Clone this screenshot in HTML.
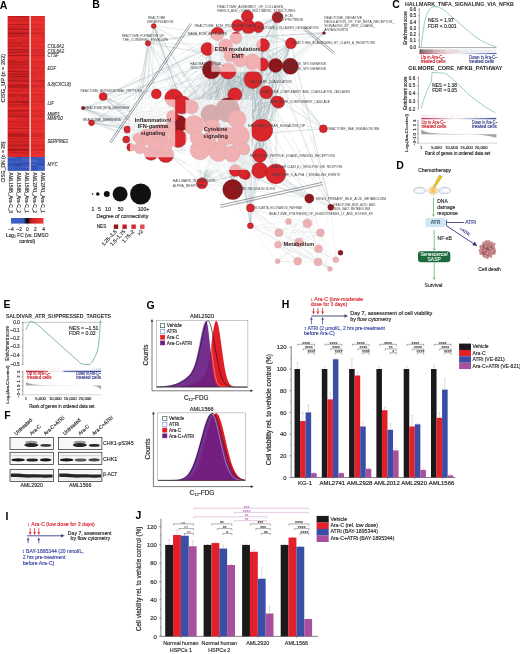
<!DOCTYPE html>
<html><head><meta charset="utf-8"><style>
html,body{margin:0;padding:0;background:#fff;}
svg{display:block;filter:blur(0.3px);}
</style></head><body>
<svg width="520" height="654" viewBox="0 0 520 654" font-family="Liberation Sans, Arial, sans-serif" fill="#231f20">
<rect width="520" height="654" fill="#fff"/>
<text x="-0.30" y="8.60" font-size="10.5" font-weight="bold" fill="#000" >A</text>
<rect x="7.80" y="16.00" width="21.80" height="141.20" fill="#d42a2c" />
<rect x="30.70" y="16.00" width="14.00" height="141.20" fill="#e8302f" />
<rect x="7.80" y="16.00" width="7.15" height="0.85" fill="#aa181c" />
<rect x="14.90" y="16.00" width="7.35" height="0.85" fill="#9a1418" />
<rect x="22.20" y="16.00" width="7.45" height="0.85" fill="#a9181b" />
<rect x="30.70" y="16.00" width="7.05" height="0.85" fill="#ce2728" />
<rect x="37.70" y="16.00" width="7.05" height="0.85" fill="#ca2627" />
<rect x="7.80" y="16.80" width="7.15" height="0.65" fill="#ec2c2c" />
<rect x="14.90" y="16.80" width="7.35" height="0.65" fill="#ec2c2c" />
<rect x="22.20" y="16.80" width="7.45" height="0.65" fill="#ec2c2c" />
<rect x="30.70" y="16.80" width="7.05" height="0.65" fill="#ec3330" />
<rect x="37.70" y="16.80" width="7.05" height="0.65" fill="#f23532" />
<rect x="7.80" y="17.40" width="7.15" height="0.65" fill="#ca2223" />
<rect x="14.90" y="17.40" width="7.35" height="0.65" fill="#bd1e20" />
<rect x="22.20" y="17.40" width="7.45" height="0.65" fill="#cb2223" />
<rect x="30.70" y="17.40" width="7.05" height="0.65" fill="#de2d2d" />
<rect x="37.70" y="17.40" width="7.05" height="0.65" fill="#da2c2b" />
<rect x="7.80" y="18.00" width="7.15" height="0.65" fill="#e62a2a" />
<rect x="14.90" y="18.00" width="7.35" height="0.65" fill="#e12829" />
<rect x="22.20" y="18.00" width="7.45" height="0.65" fill="#d42526" />
<rect x="30.70" y="18.00" width="7.05" height="0.65" fill="#f23532" />
<rect x="37.70" y="18.00" width="7.05" height="0.65" fill="#ed3330" />
<rect x="7.80" y="18.60" width="7.15" height="0.65" fill="#e12829" />
<rect x="14.90" y="18.60" width="7.35" height="0.65" fill="#e12829" />
<rect x="22.20" y="18.60" width="7.45" height="0.65" fill="#dd2728" />
<rect x="30.70" y="18.60" width="7.05" height="0.65" fill="#e32f2e" />
<rect x="37.70" y="18.60" width="7.05" height="0.65" fill="#e6302f" />
<rect x="7.80" y="19.20" width="7.15" height="0.85" fill="#d22425" />
<rect x="14.90" y="19.20" width="7.35" height="0.85" fill="#d42526" />
<rect x="22.20" y="19.20" width="7.45" height="0.85" fill="#d62526" />
<rect x="30.70" y="19.20" width="7.05" height="0.85" fill="#d92b2b" />
<rect x="37.70" y="19.20" width="7.05" height="0.85" fill="#e12e2d" />
<rect x="7.80" y="20.00" width="7.15" height="0.85" fill="#c32022" />
<rect x="14.90" y="20.00" width="7.35" height="0.85" fill="#ce2324" />
<rect x="22.20" y="20.00" width="7.45" height="0.85" fill="#bd1e20" />
<rect x="30.70" y="20.00" width="7.05" height="0.85" fill="#df2e2d" />
<rect x="37.70" y="20.00" width="7.05" height="0.85" fill="#dc2c2c" />
<rect x="7.80" y="20.80" width="7.15" height="0.85" fill="#ec2c2c" />
<rect x="14.90" y="20.80" width="7.35" height="0.85" fill="#e12829" />
<rect x="22.20" y="20.80" width="7.45" height="0.85" fill="#df2828" />
<rect x="30.70" y="20.80" width="7.05" height="0.85" fill="#ec3330" />
<rect x="37.70" y="20.80" width="7.05" height="0.85" fill="#e9312f" />
<rect x="7.80" y="21.60" width="7.15" height="0.85" fill="#d82627" />
<rect x="14.90" y="21.60" width="7.35" height="0.85" fill="#d12425" />
<rect x="22.20" y="21.60" width="7.45" height="0.85" fill="#e32929" />
<rect x="30.70" y="21.60" width="7.05" height="0.85" fill="#ef3331" />
<rect x="37.70" y="21.60" width="7.05" height="0.85" fill="#ec3330" />
<rect x="7.80" y="22.40" width="7.15" height="0.55" fill="#e62a2a" />
<rect x="14.90" y="22.40" width="7.35" height="0.55" fill="#de2728" />
<rect x="22.20" y="22.40" width="7.45" height="0.55" fill="#e22929" />
<rect x="30.70" y="22.40" width="7.05" height="0.55" fill="#ef3331" />
<rect x="37.70" y="22.40" width="7.05" height="0.55" fill="#ed3330" />
<rect x="7.80" y="22.90" width="7.15" height="0.85" fill="#ec2c2c" />
<rect x="14.90" y="22.90" width="7.35" height="0.85" fill="#ec2c2c" />
<rect x="22.20" y="22.90" width="7.45" height="0.85" fill="#ec2c2c" />
<rect x="30.70" y="22.90" width="7.05" height="0.85" fill="#ed3330" />
<rect x="37.70" y="22.90" width="7.05" height="0.85" fill="#f23532" />
<rect x="7.80" y="23.70" width="7.15" height="0.65" fill="#d42526" />
<rect x="14.90" y="23.70" width="7.35" height="0.65" fill="#dc2728" />
<rect x="22.20" y="23.70" width="7.45" height="0.65" fill="#d62526" />
<rect x="30.70" y="23.70" width="7.05" height="0.65" fill="#e22f2d" />
<rect x="37.70" y="23.70" width="7.05" height="0.65" fill="#e32f2e" />
<rect x="7.80" y="24.30" width="7.15" height="1.05" fill="#aa181c" />
<rect x="14.90" y="24.30" width="7.35" height="1.05" fill="#ac191c" />
<rect x="22.20" y="24.30" width="7.45" height="1.05" fill="#9f1519" />
<rect x="30.70" y="24.30" width="7.05" height="1.05" fill="#cf2829" />
<rect x="37.70" y="24.30" width="7.05" height="1.05" fill="#d92b2b" />
<rect x="7.80" y="25.30" width="7.15" height="0.65" fill="#ec2c2c" />
<rect x="14.90" y="25.30" width="7.35" height="0.65" fill="#dd2728" />
<rect x="22.20" y="25.30" width="7.45" height="0.65" fill="#ec2c2c" />
<rect x="30.70" y="25.30" width="7.05" height="0.65" fill="#ed3330" />
<rect x="37.70" y="25.30" width="7.05" height="0.65" fill="#ef3431" />
<rect x="7.80" y="25.90" width="7.15" height="1.25" fill="#cb2224" />
<rect x="14.90" y="25.90" width="7.35" height="1.25" fill="#d12425" />
<rect x="22.20" y="25.90" width="7.45" height="1.25" fill="#d62526" />
<rect x="30.70" y="25.90" width="7.05" height="1.25" fill="#e42f2e" />
<rect x="37.70" y="25.90" width="7.05" height="1.25" fill="#e32f2e" />
<rect x="7.80" y="27.10" width="7.15" height="0.55" fill="#c42022" />
<rect x="14.90" y="27.10" width="7.35" height="0.55" fill="#cb2223" />
<rect x="22.20" y="27.10" width="7.45" height="0.55" fill="#ce2324" />
<rect x="30.70" y="27.10" width="7.05" height="0.55" fill="#df2d2d" />
<rect x="37.70" y="27.10" width="7.05" height="0.55" fill="#df2d2d" />
<rect x="7.80" y="27.60" width="7.15" height="1.05" fill="#ca2223" />
<rect x="14.90" y="27.60" width="7.35" height="1.05" fill="#c62122" />
<rect x="22.20" y="27.60" width="7.45" height="1.05" fill="#c72123" />
<rect x="30.70" y="27.60" width="7.05" height="1.05" fill="#e5302e" />
<rect x="37.70" y="27.60" width="7.05" height="1.05" fill="#e8312f" />
<rect x="7.80" y="28.60" width="7.15" height="0.55" fill="#ba1d20" />
<rect x="14.90" y="28.60" width="7.35" height="0.55" fill="#c32022" />
<rect x="22.20" y="28.60" width="7.45" height="0.55" fill="#d02325" />
<rect x="30.70" y="28.60" width="7.05" height="0.55" fill="#e22f2d" />
<rect x="37.70" y="28.60" width="7.05" height="0.55" fill="#e02e2d" />
<rect x="7.80" y="29.10" width="7.15" height="0.85" fill="#9f1519" />
<rect x="14.90" y="29.10" width="7.35" height="0.85" fill="#a8181b" />
<rect x="22.20" y="29.10" width="7.45" height="0.85" fill="#9f1519" />
<rect x="30.70" y="29.10" width="7.05" height="0.85" fill="#c52426" />
<rect x="37.70" y="29.10" width="7.05" height="0.85" fill="#cc2628" />
<rect x="7.80" y="29.90" width="7.15" height="0.85" fill="#ec2c2c" />
<rect x="14.90" y="29.90" width="7.35" height="0.85" fill="#ec2c2c" />
<rect x="22.20" y="29.90" width="7.45" height="0.85" fill="#e02829" />
<rect x="30.70" y="29.90" width="7.05" height="0.85" fill="#f23532" />
<rect x="37.70" y="29.90" width="7.05" height="0.85" fill="#f23532" />
<rect x="7.80" y="30.70" width="7.15" height="1.25" fill="#cd2224" />
<rect x="14.90" y="30.70" width="7.35" height="1.25" fill="#d02425" />
<rect x="22.20" y="30.70" width="7.45" height="1.25" fill="#dc2728" />
<rect x="30.70" y="30.70" width="7.05" height="1.25" fill="#e22f2d" />
<rect x="37.70" y="30.70" width="7.05" height="1.25" fill="#e9312f" />
<rect x="7.80" y="31.90" width="7.15" height="0.85" fill="#cd2324" />
<rect x="14.90" y="31.90" width="7.35" height="0.85" fill="#d12425" />
<rect x="22.20" y="31.90" width="7.45" height="0.85" fill="#c92123" />
<rect x="30.70" y="31.90" width="7.05" height="0.85" fill="#da2c2c" />
<rect x="37.70" y="31.90" width="7.05" height="0.85" fill="#d92b2b" />
<rect x="7.80" y="32.70" width="7.15" height="1.25" fill="#a5171a" />
<rect x="14.90" y="32.70" width="7.35" height="1.25" fill="#a6171b" />
<rect x="22.20" y="32.70" width="7.45" height="1.25" fill="#a6171b" />
<rect x="30.70" y="32.70" width="7.05" height="1.25" fill="#c92627" />
<rect x="37.70" y="32.70" width="7.05" height="1.25" fill="#d02829" />
<rect x="7.80" y="33.90" width="7.15" height="1.25" fill="#c01f21" />
<rect x="14.90" y="33.90" width="7.35" height="1.25" fill="#c52022" />
<rect x="22.20" y="33.90" width="7.45" height="1.25" fill="#cd2224" />
<rect x="30.70" y="33.90" width="7.05" height="1.25" fill="#e22f2d" />
<rect x="37.70" y="33.90" width="7.05" height="1.25" fill="#dd2d2c" />
<rect x="7.80" y="35.10" width="7.15" height="0.85" fill="#c42022" />
<rect x="14.90" y="35.10" width="7.35" height="0.85" fill="#c52022" />
<rect x="22.20" y="35.10" width="7.45" height="0.85" fill="#d32426" />
<rect x="30.70" y="35.10" width="7.05" height="0.85" fill="#e02e2d" />
<rect x="37.70" y="35.10" width="7.05" height="0.85" fill="#e02e2d" />
<rect x="7.80" y="35.90" width="7.15" height="0.65" fill="#cd2224" />
<rect x="14.90" y="35.90" width="7.35" height="0.65" fill="#d62526" />
<rect x="22.20" y="35.90" width="7.45" height="0.65" fill="#e52a2a" />
<rect x="30.70" y="35.90" width="7.05" height="0.65" fill="#e32f2e" />
<rect x="37.70" y="35.90" width="7.05" height="0.65" fill="#ea322f" />
<rect x="7.80" y="36.50" width="7.15" height="0.55" fill="#ae191c" />
<rect x="14.90" y="36.50" width="7.35" height="0.55" fill="#a6171b" />
<rect x="22.20" y="36.50" width="7.45" height="0.55" fill="#b31b1e" />
<rect x="30.70" y="36.50" width="7.05" height="0.55" fill="#d42a2a" />
<rect x="37.70" y="36.50" width="7.05" height="0.55" fill="#da2c2b" />
<rect x="7.80" y="37.00" width="7.15" height="0.85" fill="#e32929" />
<rect x="14.90" y="37.00" width="7.35" height="0.85" fill="#e92b2b" />
<rect x="22.20" y="37.00" width="7.45" height="0.85" fill="#e22929" />
<rect x="30.70" y="37.00" width="7.05" height="0.85" fill="#ed3330" />
<rect x="37.70" y="37.00" width="7.05" height="0.85" fill="#ec3230" />
<rect x="7.80" y="37.80" width="7.15" height="0.65" fill="#ec2c2c" />
<rect x="14.90" y="37.80" width="7.35" height="0.65" fill="#e72a2a" />
<rect x="22.20" y="37.80" width="7.45" height="0.65" fill="#e82b2b" />
<rect x="30.70" y="37.80" width="7.05" height="0.65" fill="#ed3330" />
<rect x="37.70" y="37.80" width="7.05" height="0.65" fill="#ef3331" />
<rect x="7.80" y="38.40" width="7.15" height="0.85" fill="#ec2c2c" />
<rect x="14.90" y="38.40" width="7.35" height="0.85" fill="#dd2728" />
<rect x="22.20" y="38.40" width="7.45" height="0.85" fill="#df2829" />
<rect x="30.70" y="38.40" width="7.05" height="0.85" fill="#f13431" />
<rect x="37.70" y="38.40" width="7.05" height="0.85" fill="#e9312f" />
<rect x="7.80" y="39.20" width="7.15" height="0.65" fill="#c92123" />
<rect x="14.90" y="39.20" width="7.35" height="0.65" fill="#d82627" />
<rect x="22.20" y="39.20" width="7.45" height="0.65" fill="#d72627" />
<rect x="30.70" y="39.20" width="7.05" height="0.65" fill="#e12e2d" />
<rect x="37.70" y="39.20" width="7.05" height="0.65" fill="#e12f2d" />
<rect x="7.80" y="39.80" width="7.15" height="1.25" fill="#d12425" />
<rect x="14.90" y="39.80" width="7.35" height="1.25" fill="#e4292a" />
<rect x="22.20" y="39.80" width="7.45" height="1.25" fill="#d42426" />
<rect x="30.70" y="39.80" width="7.05" height="1.25" fill="#e22f2e" />
<rect x="37.70" y="39.80" width="7.05" height="1.25" fill="#e5302e" />
<rect x="7.80" y="41.00" width="7.15" height="1.25" fill="#d22425" />
<rect x="14.90" y="41.00" width="7.35" height="1.25" fill="#d12425" />
<rect x="22.20" y="41.00" width="7.45" height="1.25" fill="#d12425" />
<rect x="30.70" y="41.00" width="7.05" height="1.25" fill="#e42f2e" />
<rect x="37.70" y="41.00" width="7.05" height="1.25" fill="#df2e2d" />
<rect x="7.80" y="42.20" width="7.15" height="0.65" fill="#ca2223" />
<rect x="14.90" y="42.20" width="7.35" height="0.65" fill="#ca2223" />
<rect x="22.20" y="42.20" width="7.45" height="0.65" fill="#bf1e21" />
<rect x="30.70" y="42.20" width="7.05" height="0.65" fill="#dd2d2c" />
<rect x="37.70" y="42.20" width="7.05" height="0.65" fill="#de2d2c" />
<rect x="7.80" y="42.80" width="7.15" height="1.25" fill="#c21f21" />
<rect x="14.90" y="42.80" width="7.35" height="1.25" fill="#bf1f21" />
<rect x="22.20" y="42.80" width="7.45" height="1.25" fill="#d42426" />
<rect x="30.70" y="42.80" width="7.05" height="1.25" fill="#e4302e" />
<rect x="37.70" y="42.80" width="7.05" height="1.25" fill="#e6302f" />
<rect x="7.80" y="44.00" width="7.15" height="0.55" fill="#c42022" />
<rect x="14.90" y="44.00" width="7.35" height="0.55" fill="#c11f21" />
<rect x="22.20" y="44.00" width="7.45" height="0.55" fill="#cc2224" />
<rect x="30.70" y="44.00" width="7.05" height="0.55" fill="#df2e2d" />
<rect x="37.70" y="44.00" width="7.05" height="0.55" fill="#e02e2d" />
<rect x="7.80" y="44.50" width="7.15" height="1.25" fill="#e22929" />
<rect x="14.90" y="44.50" width="7.35" height="1.25" fill="#db2727" />
<rect x="22.20" y="44.50" width="7.45" height="1.25" fill="#e22929" />
<rect x="30.70" y="44.50" width="7.05" height="1.25" fill="#f23532" />
<rect x="37.70" y="44.50" width="7.05" height="1.25" fill="#ef3431" />
<rect x="7.80" y="45.70" width="7.15" height="0.85" fill="#a9181b" />
<rect x="14.90" y="45.70" width="7.35" height="0.85" fill="#a3161a" />
<rect x="22.20" y="45.70" width="7.45" height="0.85" fill="#a4171a" />
<rect x="30.70" y="45.70" width="7.05" height="0.85" fill="#ca2627" />
<rect x="37.70" y="45.70" width="7.05" height="0.85" fill="#cb2628" />
<rect x="7.80" y="46.50" width="7.15" height="0.65" fill="#d62526" />
<rect x="14.90" y="46.50" width="7.35" height="0.65" fill="#db2727" />
<rect x="22.20" y="46.50" width="7.45" height="0.65" fill="#cb2223" />
<rect x="30.70" y="46.50" width="7.05" height="0.65" fill="#e32f2e" />
<rect x="37.70" y="46.50" width="7.05" height="0.65" fill="#e7312f" />
<rect x="7.80" y="47.10" width="7.15" height="0.85" fill="#da2627" />
<rect x="14.90" y="47.10" width="7.35" height="0.85" fill="#ec2c2c" />
<rect x="22.20" y="47.10" width="7.45" height="0.85" fill="#da2727" />
<rect x="30.70" y="47.10" width="7.05" height="0.85" fill="#e9312f" />
<rect x="37.70" y="47.10" width="7.05" height="0.85" fill="#e7312f" />
<rect x="7.80" y="47.90" width="7.15" height="0.65" fill="#e4292a" />
<rect x="14.90" y="47.90" width="7.35" height="0.65" fill="#e82b2b" />
<rect x="22.20" y="47.90" width="7.45" height="0.65" fill="#ec2c2c" />
<rect x="30.70" y="47.90" width="7.05" height="0.65" fill="#f03431" />
<rect x="37.70" y="47.90" width="7.05" height="0.65" fill="#eb3230" />
<rect x="7.80" y="48.50" width="7.15" height="0.55" fill="#d42426" />
<rect x="14.90" y="48.50" width="7.35" height="0.55" fill="#db2728" />
<rect x="22.20" y="48.50" width="7.45" height="0.55" fill="#d82627" />
<rect x="30.70" y="48.50" width="7.05" height="0.55" fill="#eb3230" />
<rect x="37.70" y="48.50" width="7.05" height="0.55" fill="#e22f2e" />
<rect x="7.80" y="49.00" width="7.15" height="0.55" fill="#9a1418" />
<rect x="14.90" y="49.00" width="7.35" height="0.55" fill="#a5171a" />
<rect x="22.20" y="49.00" width="7.45" height="0.55" fill="#a11619" />
<rect x="30.70" y="49.00" width="7.05" height="0.55" fill="#cd2728" />
<rect x="37.70" y="49.00" width="7.05" height="0.55" fill="#c42326" />
<rect x="7.80" y="49.50" width="7.15" height="0.85" fill="#ab191c" />
<rect x="14.90" y="49.50" width="7.35" height="0.85" fill="#af1a1d" />
<rect x="22.20" y="49.50" width="7.45" height="0.85" fill="#a8181b" />
<rect x="30.70" y="49.50" width="7.05" height="0.85" fill="#d3292a" />
<rect x="37.70" y="49.50" width="7.05" height="0.85" fill="#d12829" />
<rect x="7.80" y="50.30" width="7.15" height="1.25" fill="#cf2325" />
<rect x="14.90" y="50.30" width="7.35" height="1.25" fill="#d02325" />
<rect x="22.20" y="50.30" width="7.45" height="1.25" fill="#c01f21" />
<rect x="30.70" y="50.30" width="7.05" height="1.25" fill="#dc2d2c" />
<rect x="37.70" y="50.30" width="7.05" height="1.25" fill="#e12e2d" />
<rect x="7.80" y="51.50" width="7.15" height="0.55" fill="#c92223" />
<rect x="14.90" y="51.50" width="7.35" height="0.55" fill="#b61c1f" />
<rect x="22.20" y="51.50" width="7.45" height="0.55" fill="#ca2223" />
<rect x="30.70" y="51.50" width="7.05" height="0.55" fill="#d3292a" />
<rect x="37.70" y="51.50" width="7.05" height="0.55" fill="#d82b2b" />
<rect x="7.80" y="52.00" width="7.15" height="0.85" fill="#9a1418" />
<rect x="14.90" y="52.00" width="7.35" height="0.85" fill="#9a1418" />
<rect x="22.20" y="52.00" width="7.45" height="0.85" fill="#a5171a" />
<rect x="30.70" y="52.00" width="7.05" height="0.85" fill="#ca2627" />
<rect x="37.70" y="52.00" width="7.05" height="0.85" fill="#c72527" />
<rect x="7.80" y="52.80" width="7.15" height="0.65" fill="#d32426" />
<rect x="14.90" y="52.80" width="7.35" height="0.65" fill="#db2727" />
<rect x="22.20" y="52.80" width="7.45" height="0.65" fill="#dd2728" />
<rect x="30.70" y="52.80" width="7.05" height="0.65" fill="#f23532" />
<rect x="37.70" y="52.80" width="7.05" height="0.65" fill="#ef3431" />
<rect x="7.80" y="53.40" width="7.15" height="0.65" fill="#d12425" />
<rect x="14.90" y="53.40" width="7.35" height="0.65" fill="#e92b2b" />
<rect x="22.20" y="53.40" width="7.45" height="0.65" fill="#e92b2b" />
<rect x="30.70" y="53.40" width="7.05" height="0.65" fill="#e5302e" />
<rect x="37.70" y="53.40" width="7.05" height="0.65" fill="#df2e2d" />
<rect x="7.80" y="54.00" width="7.15" height="1.25" fill="#d72627" />
<rect x="14.90" y="54.00" width="7.35" height="1.25" fill="#c62022" />
<rect x="22.20" y="54.00" width="7.45" height="1.25" fill="#cf2325" />
<rect x="30.70" y="54.00" width="7.05" height="1.25" fill="#dc2c2c" />
<rect x="37.70" y="54.00" width="7.05" height="1.25" fill="#d72b2b" />
<rect x="7.80" y="55.20" width="7.15" height="1.05" fill="#a4171a" />
<rect x="14.90" y="55.20" width="7.35" height="1.05" fill="#a3161a" />
<rect x="22.20" y="55.20" width="7.45" height="1.05" fill="#a4171a" />
<rect x="30.70" y="55.20" width="7.05" height="1.05" fill="#ca2627" />
<rect x="37.70" y="55.20" width="7.05" height="1.05" fill="#cc2728" />
<rect x="7.80" y="56.20" width="7.15" height="0.65" fill="#de2828" />
<rect x="14.90" y="56.20" width="7.35" height="0.65" fill="#dc2728" />
<rect x="22.20" y="56.20" width="7.45" height="0.65" fill="#de2828" />
<rect x="30.70" y="56.20" width="7.05" height="0.65" fill="#e4302e" />
<rect x="37.70" y="56.20" width="7.05" height="0.65" fill="#ea3230" />
<rect x="7.80" y="56.80" width="7.15" height="0.65" fill="#ec2c2c" />
<rect x="14.90" y="56.80" width="7.35" height="0.65" fill="#ea2b2b" />
<rect x="22.20" y="56.80" width="7.45" height="0.65" fill="#de2828" />
<rect x="30.70" y="56.80" width="7.05" height="0.65" fill="#eb3230" />
<rect x="37.70" y="56.80" width="7.05" height="0.65" fill="#ea3230" />
<rect x="7.80" y="57.40" width="7.15" height="0.55" fill="#d02325" />
<rect x="14.90" y="57.40" width="7.35" height="0.55" fill="#d52526" />
<rect x="22.20" y="57.40" width="7.45" height="0.55" fill="#c32022" />
<rect x="30.70" y="57.40" width="7.05" height="0.55" fill="#e22f2e" />
<rect x="37.70" y="57.40" width="7.05" height="0.55" fill="#e8312f" />
<rect x="7.80" y="57.90" width="7.15" height="0.65" fill="#ec2c2c" />
<rect x="14.90" y="57.90" width="7.35" height="0.65" fill="#ec2c2c" />
<rect x="22.20" y="57.90" width="7.45" height="0.65" fill="#ec2c2c" />
<rect x="30.70" y="57.90" width="7.05" height="0.65" fill="#ef3331" />
<rect x="37.70" y="57.90" width="7.05" height="0.65" fill="#ec3330" />
<rect x="7.80" y="58.50" width="7.15" height="0.65" fill="#e92b2b" />
<rect x="14.90" y="58.50" width="7.35" height="0.65" fill="#d72627" />
<rect x="22.20" y="58.50" width="7.45" height="0.65" fill="#e82a2b" />
<rect x="30.70" y="58.50" width="7.05" height="0.65" fill="#e5302e" />
<rect x="37.70" y="58.50" width="7.05" height="0.65" fill="#e7312f" />
<rect x="7.80" y="59.10" width="7.15" height="0.85" fill="#d92627" />
<rect x="14.90" y="59.10" width="7.35" height="0.85" fill="#da2627" />
<rect x="22.20" y="59.10" width="7.45" height="0.85" fill="#d52526" />
<rect x="30.70" y="59.10" width="7.05" height="0.85" fill="#eb3230" />
<rect x="37.70" y="59.10" width="7.05" height="0.85" fill="#ea3230" />
<rect x="7.80" y="59.90" width="7.15" height="1.25" fill="#c92123" />
<rect x="14.90" y="59.90" width="7.35" height="1.25" fill="#dd2728" />
<rect x="22.20" y="59.90" width="7.45" height="1.25" fill="#cf2325" />
<rect x="30.70" y="59.90" width="7.05" height="1.25" fill="#e6302f" />
<rect x="37.70" y="59.90" width="7.05" height="1.25" fill="#ee3331" />
<rect x="7.80" y="61.10" width="7.15" height="1.25" fill="#b81c1f" />
<rect x="14.90" y="61.10" width="7.35" height="1.25" fill="#c92123" />
<rect x="22.20" y="61.10" width="7.45" height="1.25" fill="#bf1f21" />
<rect x="30.70" y="61.10" width="7.05" height="1.25" fill="#d82b2b" />
<rect x="37.70" y="61.10" width="7.05" height="1.25" fill="#d42a2a" />
<rect x="7.80" y="62.30" width="7.15" height="0.55" fill="#a2161a" />
<rect x="14.90" y="62.30" width="7.35" height="0.55" fill="#a8181b" />
<rect x="22.20" y="62.30" width="7.45" height="0.55" fill="#a7181b" />
<rect x="30.70" y="62.30" width="7.05" height="0.55" fill="#d52a2a" />
<rect x="37.70" y="62.30" width="7.05" height="0.55" fill="#d82b2b" />
<rect x="7.80" y="62.80" width="7.15" height="0.65" fill="#c21f21" />
<rect x="14.90" y="62.80" width="7.35" height="0.65" fill="#c01f21" />
<rect x="22.20" y="62.80" width="7.45" height="0.65" fill="#ca2223" />
<rect x="30.70" y="62.80" width="7.05" height="0.65" fill="#db2c2c" />
<rect x="37.70" y="62.80" width="7.05" height="0.65" fill="#d42a2a" />
<rect x="7.80" y="63.40" width="7.15" height="0.65" fill="#c52022" />
<rect x="14.90" y="63.40" width="7.35" height="0.65" fill="#c62122" />
<rect x="22.20" y="63.40" width="7.45" height="0.65" fill="#cc2224" />
<rect x="30.70" y="63.40" width="7.05" height="0.65" fill="#e9312f" />
<rect x="37.70" y="63.40" width="7.05" height="0.65" fill="#e8312f" />
<rect x="7.80" y="64.00" width="7.15" height="0.55" fill="#ad191c" />
<rect x="14.90" y="64.00" width="7.35" height="0.55" fill="#ac191c" />
<rect x="22.20" y="64.00" width="7.45" height="0.55" fill="#bb1d20" />
<rect x="30.70" y="64.00" width="7.05" height="0.55" fill="#d42a2a" />
<rect x="37.70" y="64.00" width="7.05" height="0.55" fill="#db2c2c" />
<rect x="7.80" y="64.50" width="7.15" height="1.05" fill="#cc2224" />
<rect x="14.90" y="64.50" width="7.35" height="1.05" fill="#c72123" />
<rect x="22.20" y="64.50" width="7.45" height="1.05" fill="#c52022" />
<rect x="30.70" y="64.50" width="7.05" height="1.05" fill="#e22f2d" />
<rect x="37.70" y="64.50" width="7.05" height="1.05" fill="#e22f2d" />
<rect x="7.80" y="65.50" width="7.15" height="0.55" fill="#bf1e21" />
<rect x="14.90" y="65.50" width="7.35" height="0.55" fill="#be1e20" />
<rect x="22.20" y="65.50" width="7.45" height="0.55" fill="#bf1f21" />
<rect x="30.70" y="65.50" width="7.05" height="0.55" fill="#e4302e" />
<rect x="37.70" y="65.50" width="7.05" height="0.55" fill="#e02e2d" />
<rect x="7.80" y="66.00" width="7.15" height="1.05" fill="#d92627" />
<rect x="14.90" y="66.00" width="7.35" height="1.05" fill="#d92627" />
<rect x="22.20" y="66.00" width="7.45" height="1.05" fill="#e32929" />
<rect x="30.70" y="66.00" width="7.05" height="1.05" fill="#e7312f" />
<rect x="37.70" y="66.00" width="7.05" height="1.05" fill="#e7312f" />
<rect x="7.80" y="67.00" width="7.15" height="1.05" fill="#b11a1d" />
<rect x="14.90" y="67.00" width="7.35" height="1.05" fill="#b71c1f" />
<rect x="22.20" y="67.00" width="7.45" height="1.05" fill="#bc1e20" />
<rect x="30.70" y="67.00" width="7.05" height="1.05" fill="#cf2829" />
<rect x="37.70" y="67.00" width="7.05" height="1.05" fill="#d12829" />
<rect x="7.80" y="68.00" width="7.15" height="0.55" fill="#ae1a1d" />
<rect x="14.90" y="68.00" width="7.35" height="0.55" fill="#b21b1e" />
<rect x="22.20" y="68.00" width="7.45" height="0.55" fill="#b41b1e" />
<rect x="30.70" y="68.00" width="7.05" height="0.55" fill="#c72526" />
<rect x="37.70" y="68.00" width="7.05" height="0.55" fill="#d02829" />
<rect x="7.80" y="68.50" width="7.15" height="1.25" fill="#ec2c2c" />
<rect x="14.90" y="68.50" width="7.35" height="1.25" fill="#ec2c2c" />
<rect x="22.20" y="68.50" width="7.45" height="1.25" fill="#e62a2a" />
<rect x="30.70" y="68.50" width="7.05" height="1.25" fill="#e9312f" />
<rect x="37.70" y="68.50" width="7.05" height="1.25" fill="#ed3330" />
<rect x="7.80" y="69.70" width="7.15" height="0.55" fill="#af1a1d" />
<rect x="14.90" y="69.70" width="7.35" height="0.55" fill="#b91d1f" />
<rect x="22.20" y="69.70" width="7.45" height="0.55" fill="#c42022" />
<rect x="30.70" y="69.70" width="7.05" height="0.55" fill="#e32f2e" />
<rect x="37.70" y="69.70" width="7.05" height="0.55" fill="#dd2d2c" />
<rect x="7.80" y="70.20" width="7.15" height="1.05" fill="#d52526" />
<rect x="14.90" y="70.20" width="7.35" height="1.05" fill="#d62526" />
<rect x="22.20" y="70.20" width="7.45" height="1.05" fill="#dd2728" />
<rect x="30.70" y="70.20" width="7.05" height="1.05" fill="#e42f2e" />
<rect x="37.70" y="70.20" width="7.05" height="1.05" fill="#e42f2e" />
<rect x="7.80" y="71.20" width="7.15" height="0.85" fill="#a01519" />
<rect x="14.90" y="71.20" width="7.35" height="0.85" fill="#a6171a" />
<rect x="22.20" y="71.20" width="7.45" height="0.85" fill="#a11619" />
<rect x="30.70" y="71.20" width="7.05" height="0.85" fill="#db2c2c" />
<rect x="37.70" y="71.20" width="7.05" height="0.85" fill="#da2c2b" />
<rect x="7.80" y="72.00" width="7.15" height="1.05" fill="#df2828" />
<rect x="14.90" y="72.00" width="7.35" height="1.05" fill="#ca2223" />
<rect x="22.20" y="72.00" width="7.45" height="1.05" fill="#ce2324" />
<rect x="30.70" y="72.00" width="7.05" height="1.05" fill="#db2c2c" />
<rect x="37.70" y="72.00" width="7.05" height="1.05" fill="#e22f2e" />
<rect x="7.80" y="73.00" width="7.15" height="0.55" fill="#a11619" />
<rect x="14.90" y="73.00" width="7.35" height="0.55" fill="#b11b1d" />
<rect x="22.20" y="73.00" width="7.45" height="0.55" fill="#b11a1d" />
<rect x="30.70" y="73.00" width="7.05" height="0.55" fill="#d62a2a" />
<rect x="37.70" y="73.00" width="7.05" height="0.55" fill="#da2c2b" />
<rect x="7.80" y="73.50" width="7.15" height="0.85" fill="#bc1e20" />
<rect x="14.90" y="73.50" width="7.35" height="0.85" fill="#aa181c" />
<rect x="22.20" y="73.50" width="7.45" height="0.85" fill="#b31b1e" />
<rect x="30.70" y="73.50" width="7.05" height="0.85" fill="#d22929" />
<rect x="37.70" y="73.50" width="7.05" height="0.85" fill="#d62a2a" />
<rect x="7.80" y="74.30" width="7.15" height="0.65" fill="#b11a1d" />
<rect x="14.90" y="74.30" width="7.35" height="0.65" fill="#b81c1f" />
<rect x="22.20" y="74.30" width="7.45" height="0.65" fill="#b11a1d" />
<rect x="30.70" y="74.30" width="7.05" height="0.65" fill="#dd2d2c" />
<rect x="37.70" y="74.30" width="7.05" height="0.65" fill="#e22f2d" />
<rect x="7.80" y="74.90" width="7.15" height="0.55" fill="#ab191c" />
<rect x="14.90" y="74.90" width="7.35" height="0.55" fill="#a5171a" />
<rect x="22.20" y="74.90" width="7.45" height="0.55" fill="#a8181b" />
<rect x="30.70" y="74.90" width="7.05" height="0.55" fill="#d12929" />
<rect x="37.70" y="74.90" width="7.05" height="0.55" fill="#cb2628" />
<rect x="7.80" y="75.40" width="7.15" height="0.85" fill="#d42526" />
<rect x="14.90" y="75.40" width="7.35" height="0.85" fill="#cf2325" />
<rect x="22.20" y="75.40" width="7.45" height="0.85" fill="#dd2728" />
<rect x="30.70" y="75.40" width="7.05" height="0.85" fill="#e7312f" />
<rect x="37.70" y="75.40" width="7.05" height="0.85" fill="#ee3331" />
<rect x="7.80" y="76.20" width="7.15" height="1.25" fill="#ab191c" />
<rect x="14.90" y="76.20" width="7.35" height="1.25" fill="#9a1418" />
<rect x="22.20" y="76.20" width="7.45" height="1.25" fill="#9a1418" />
<rect x="30.70" y="76.20" width="7.05" height="1.25" fill="#d02829" />
<rect x="37.70" y="76.20" width="7.05" height="1.25" fill="#d42a2a" />
<rect x="7.80" y="77.40" width="7.15" height="0.65" fill="#de2828" />
<rect x="14.90" y="77.40" width="7.35" height="0.65" fill="#e4292a" />
<rect x="22.20" y="77.40" width="7.45" height="0.65" fill="#e32929" />
<rect x="30.70" y="77.40" width="7.05" height="0.65" fill="#ec3230" />
<rect x="37.70" y="77.40" width="7.05" height="0.65" fill="#f23532" />
<rect x="7.80" y="78.00" width="7.15" height="0.55" fill="#b61c1e" />
<rect x="14.90" y="78.00" width="7.35" height="0.55" fill="#b31b1e" />
<rect x="22.20" y="78.00" width="7.45" height="0.55" fill="#b71c1f" />
<rect x="30.70" y="78.00" width="7.05" height="0.55" fill="#da2c2b" />
<rect x="37.70" y="78.00" width="7.05" height="0.55" fill="#de2d2c" />
<rect x="7.80" y="78.50" width="7.15" height="0.85" fill="#c01f21" />
<rect x="14.90" y="78.50" width="7.35" height="0.85" fill="#c42022" />
<rect x="22.20" y="78.50" width="7.45" height="0.85" fill="#be1e20" />
<rect x="30.70" y="78.50" width="7.05" height="0.85" fill="#dc2d2c" />
<rect x="37.70" y="78.50" width="7.05" height="0.85" fill="#e6302e" />
<rect x="7.80" y="79.30" width="7.15" height="0.65" fill="#d72526" />
<rect x="14.90" y="79.30" width="7.35" height="0.65" fill="#da2627" />
<rect x="22.20" y="79.30" width="7.45" height="0.65" fill="#cd2324" />
<rect x="30.70" y="79.30" width="7.05" height="0.65" fill="#de2d2c" />
<rect x="37.70" y="79.30" width="7.05" height="0.65" fill="#e8312f" />
<rect x="7.80" y="79.90" width="7.15" height="1.05" fill="#b91d1f" />
<rect x="14.90" y="79.90" width="7.35" height="1.05" fill="#b61c1e" />
<rect x="22.20" y="79.90" width="7.45" height="1.05" fill="#c42022" />
<rect x="30.70" y="79.90" width="7.05" height="1.05" fill="#d4292a" />
<rect x="37.70" y="79.90" width="7.05" height="1.05" fill="#cd2728" />
<rect x="7.80" y="80.90" width="7.15" height="1.25" fill="#af1a1d" />
<rect x="14.90" y="80.90" width="7.35" height="1.25" fill="#b31b1e" />
<rect x="22.20" y="80.90" width="7.45" height="1.25" fill="#b21b1d" />
<rect x="30.70" y="80.90" width="7.05" height="1.25" fill="#ca2627" />
<rect x="37.70" y="80.90" width="7.05" height="1.25" fill="#c82527" />
<rect x="7.80" y="82.10" width="7.15" height="1.05" fill="#ec2c2c" />
<rect x="14.90" y="82.10" width="7.35" height="1.05" fill="#ec2c2c" />
<rect x="22.20" y="82.10" width="7.45" height="1.05" fill="#e72a2a" />
<rect x="30.70" y="82.10" width="7.05" height="1.05" fill="#f03431" />
<rect x="37.70" y="82.10" width="7.05" height="1.05" fill="#e8312f" />
<rect x="7.80" y="83.10" width="7.15" height="0.65" fill="#c11f21" />
<rect x="14.90" y="83.10" width="7.35" height="0.65" fill="#b91d1f" />
<rect x="22.20" y="83.10" width="7.45" height="0.65" fill="#ca2223" />
<rect x="30.70" y="83.10" width="7.05" height="0.65" fill="#de2d2d" />
<rect x="37.70" y="83.10" width="7.05" height="0.65" fill="#d62a2a" />
<rect x="7.80" y="83.70" width="7.15" height="0.65" fill="#d22425" />
<rect x="14.90" y="83.70" width="7.35" height="0.65" fill="#e12829" />
<rect x="22.20" y="83.70" width="7.45" height="0.65" fill="#da2627" />
<rect x="30.70" y="83.70" width="7.05" height="0.65" fill="#ea3230" />
<rect x="37.70" y="83.70" width="7.05" height="0.65" fill="#e4302e" />
<rect x="7.80" y="84.30" width="7.15" height="0.65" fill="#d42526" />
<rect x="14.90" y="84.30" width="7.35" height="0.65" fill="#c21f21" />
<rect x="22.20" y="84.30" width="7.45" height="0.65" fill="#c82123" />
<rect x="30.70" y="84.30" width="7.05" height="0.65" fill="#e9312f" />
<rect x="37.70" y="84.30" width="7.05" height="0.65" fill="#ec3330" />
<rect x="7.80" y="84.90" width="7.15" height="1.05" fill="#b01a1d" />
<rect x="14.90" y="84.90" width="7.35" height="1.05" fill="#ad191c" />
<rect x="22.20" y="84.90" width="7.45" height="1.05" fill="#a8181b" />
<rect x="30.70" y="84.90" width="7.05" height="1.05" fill="#d02829" />
<rect x="37.70" y="84.90" width="7.05" height="1.05" fill="#ce2728" />
<rect x="7.80" y="85.90" width="7.15" height="0.85" fill="#ba1d1f" />
<rect x="14.90" y="85.90" width="7.35" height="0.85" fill="#c32022" />
<rect x="22.20" y="85.90" width="7.45" height="0.85" fill="#bc1e20" />
<rect x="30.70" y="85.90" width="7.05" height="0.85" fill="#d62a2a" />
<rect x="37.70" y="85.90" width="7.05" height="0.85" fill="#e02e2d" />
<rect x="7.80" y="86.70" width="7.15" height="1.05" fill="#9a1418" />
<rect x="14.90" y="86.70" width="7.35" height="1.05" fill="#a3161a" />
<rect x="22.20" y="86.70" width="7.45" height="1.05" fill="#a4161a" />
<rect x="30.70" y="86.70" width="7.05" height="1.05" fill="#cc2728" />
<rect x="37.70" y="86.70" width="7.05" height="1.05" fill="#d22929" />
<rect x="7.80" y="87.70" width="7.15" height="1.25" fill="#d32425" />
<rect x="14.90" y="87.70" width="7.35" height="1.25" fill="#ce2324" />
<rect x="22.20" y="87.70" width="7.45" height="1.25" fill="#c82123" />
<rect x="30.70" y="87.70" width="7.05" height="1.25" fill="#e12e2d" />
<rect x="37.70" y="87.70" width="7.05" height="1.25" fill="#eb3230" />
<rect x="7.80" y="88.90" width="7.15" height="1.05" fill="#e82a2b" />
<rect x="14.90" y="88.90" width="7.35" height="1.05" fill="#ec2c2c" />
<rect x="22.20" y="88.90" width="7.45" height="1.05" fill="#e52a2a" />
<rect x="30.70" y="88.90" width="7.05" height="1.05" fill="#f23532" />
<rect x="37.70" y="88.90" width="7.05" height="1.05" fill="#f23532" />
<rect x="7.80" y="89.90" width="7.15" height="0.85" fill="#ab191c" />
<rect x="14.90" y="89.90" width="7.35" height="0.85" fill="#ba1d1f" />
<rect x="22.20" y="89.90" width="7.45" height="0.85" fill="#bd1e20" />
<rect x="30.70" y="89.90" width="7.05" height="0.85" fill="#ca2627" />
<rect x="37.70" y="89.90" width="7.05" height="0.85" fill="#cd2728" />
<rect x="7.80" y="90.70" width="7.15" height="0.55" fill="#d22425" />
<rect x="14.90" y="90.70" width="7.35" height="0.55" fill="#cf2324" />
<rect x="22.20" y="90.70" width="7.45" height="0.55" fill="#dc2728" />
<rect x="30.70" y="90.70" width="7.05" height="0.55" fill="#ea322f" />
<rect x="37.70" y="90.70" width="7.05" height="0.55" fill="#ea3230" />
<rect x="7.80" y="91.20" width="7.15" height="0.55" fill="#e12829" />
<rect x="14.90" y="91.20" width="7.35" height="0.55" fill="#cc2224" />
<rect x="22.20" y="91.20" width="7.45" height="0.55" fill="#df2828" />
<rect x="30.70" y="91.20" width="7.05" height="0.55" fill="#e22f2d" />
<rect x="37.70" y="91.20" width="7.05" height="0.55" fill="#dc2c2c" />
<rect x="7.80" y="91.70" width="7.15" height="1.05" fill="#ec2c2c" />
<rect x="14.90" y="91.70" width="7.35" height="1.05" fill="#e72a2b" />
<rect x="22.20" y="91.70" width="7.45" height="1.05" fill="#ea2b2b" />
<rect x="30.70" y="91.70" width="7.05" height="1.05" fill="#ee3330" />
<rect x="37.70" y="91.70" width="7.05" height="1.05" fill="#e8312f" />
<rect x="7.80" y="92.70" width="7.15" height="1.05" fill="#e32929" />
<rect x="14.90" y="92.70" width="7.35" height="1.05" fill="#e4292a" />
<rect x="22.20" y="92.70" width="7.45" height="1.05" fill="#ec2c2c" />
<rect x="30.70" y="92.70" width="7.05" height="1.05" fill="#f23532" />
<rect x="37.70" y="92.70" width="7.05" height="1.05" fill="#f23532" />
<rect x="7.80" y="93.70" width="7.15" height="0.55" fill="#d52526" />
<rect x="14.90" y="93.70" width="7.35" height="0.55" fill="#e22929" />
<rect x="22.20" y="93.70" width="7.45" height="0.55" fill="#e4292a" />
<rect x="30.70" y="93.70" width="7.05" height="0.55" fill="#e02e2d" />
<rect x="37.70" y="93.70" width="7.05" height="0.55" fill="#e5302e" />
<rect x="7.80" y="94.20" width="7.15" height="0.85" fill="#aa181b" />
<rect x="14.90" y="94.20" width="7.35" height="0.85" fill="#b91d1f" />
<rect x="22.20" y="94.20" width="7.45" height="0.85" fill="#af1a1d" />
<rect x="30.70" y="94.20" width="7.05" height="0.85" fill="#d3292a" />
<rect x="37.70" y="94.20" width="7.05" height="0.85" fill="#d02829" />
<rect x="7.80" y="95.00" width="7.15" height="0.55" fill="#ec2c2c" />
<rect x="14.90" y="95.00" width="7.35" height="0.55" fill="#e02829" />
<rect x="22.20" y="95.00" width="7.45" height="0.55" fill="#e02829" />
<rect x="30.70" y="95.00" width="7.05" height="0.55" fill="#f23532" />
<rect x="37.70" y="95.00" width="7.05" height="0.55" fill="#f23532" />
<rect x="7.80" y="95.50" width="7.15" height="1.05" fill="#ad191c" />
<rect x="14.90" y="95.50" width="7.35" height="1.05" fill="#b91d1f" />
<rect x="22.20" y="95.50" width="7.45" height="1.05" fill="#a3161a" />
<rect x="30.70" y="95.50" width="7.05" height="1.05" fill="#dc2c2c" />
<rect x="37.70" y="95.50" width="7.05" height="1.05" fill="#d72b2b" />
<rect x="7.80" y="96.50" width="7.15" height="0.65" fill="#c62122" />
<rect x="14.90" y="96.50" width="7.35" height="0.65" fill="#c52022" />
<rect x="22.20" y="96.50" width="7.45" height="0.65" fill="#bb1d20" />
<rect x="30.70" y="96.50" width="7.05" height="0.65" fill="#e5302e" />
<rect x="37.70" y="96.50" width="7.05" height="0.65" fill="#e32f2e" />
<rect x="7.80" y="97.10" width="7.15" height="0.65" fill="#eb2b2b" />
<rect x="14.90" y="97.10" width="7.35" height="0.65" fill="#de2728" />
<rect x="22.20" y="97.10" width="7.45" height="0.65" fill="#e3292a" />
<rect x="30.70" y="97.10" width="7.05" height="0.65" fill="#eb3230" />
<rect x="37.70" y="97.10" width="7.05" height="0.65" fill="#ec3330" />
<rect x="7.80" y="97.70" width="7.15" height="0.55" fill="#e82a2b" />
<rect x="14.90" y="97.70" width="7.35" height="0.55" fill="#de2828" />
<rect x="22.20" y="97.70" width="7.45" height="0.55" fill="#d92627" />
<rect x="30.70" y="97.70" width="7.05" height="0.55" fill="#f13431" />
<rect x="37.70" y="97.70" width="7.05" height="0.55" fill="#f23532" />
<rect x="7.80" y="98.20" width="7.15" height="1.05" fill="#d52526" />
<rect x="14.90" y="98.20" width="7.35" height="1.05" fill="#ce2324" />
<rect x="22.20" y="98.20" width="7.45" height="1.05" fill="#c82123" />
<rect x="30.70" y="98.20" width="7.05" height="1.05" fill="#da2c2b" />
<rect x="37.70" y="98.20" width="7.05" height="1.05" fill="#d92c2b" />
<rect x="7.80" y="99.20" width="7.15" height="0.85" fill="#df2828" />
<rect x="14.90" y="99.20" width="7.35" height="0.85" fill="#d62526" />
<rect x="22.20" y="99.20" width="7.45" height="0.85" fill="#e32929" />
<rect x="30.70" y="99.20" width="7.05" height="0.85" fill="#eb3230" />
<rect x="37.70" y="99.20" width="7.05" height="0.85" fill="#eb3230" />
<rect x="7.80" y="100.00" width="7.15" height="0.65" fill="#e4292a" />
<rect x="14.90" y="100.00" width="7.35" height="0.65" fill="#e72a2b" />
<rect x="22.20" y="100.00" width="7.45" height="0.65" fill="#e32929" />
<rect x="30.70" y="100.00" width="7.05" height="0.65" fill="#e6302f" />
<rect x="37.70" y="100.00" width="7.05" height="0.65" fill="#e32f2e" />
<rect x="7.80" y="100.60" width="7.15" height="0.55" fill="#c72123" />
<rect x="14.90" y="100.60" width="7.35" height="0.55" fill="#be1e20" />
<rect x="22.20" y="100.60" width="7.45" height="0.55" fill="#b51c1e" />
<rect x="30.70" y="100.60" width="7.05" height="0.55" fill="#cf2829" />
<rect x="37.70" y="100.60" width="7.05" height="0.55" fill="#ce2728" />
<rect x="7.80" y="101.10" width="7.15" height="0.55" fill="#b21b1d" />
<rect x="14.90" y="101.10" width="7.35" height="0.55" fill="#a4171a" />
<rect x="22.20" y="101.10" width="7.45" height="0.55" fill="#9f1519" />
<rect x="30.70" y="101.10" width="7.05" height="0.55" fill="#d92b2b" />
<rect x="37.70" y="101.10" width="7.05" height="0.55" fill="#da2c2b" />
<rect x="7.80" y="101.60" width="7.15" height="1.25" fill="#ae191c" />
<rect x="14.90" y="101.60" width="7.35" height="1.25" fill="#a11619" />
<rect x="22.20" y="101.60" width="7.45" height="1.25" fill="#9d1518" />
<rect x="30.70" y="101.60" width="7.05" height="1.25" fill="#d72b2b" />
<rect x="37.70" y="101.60" width="7.05" height="1.25" fill="#d12829" />
<rect x="7.80" y="102.80" width="7.15" height="1.25" fill="#dc2728" />
<rect x="14.90" y="102.80" width="7.35" height="1.25" fill="#e32929" />
<rect x="22.20" y="102.80" width="7.45" height="1.25" fill="#cb2224" />
<rect x="30.70" y="102.80" width="7.05" height="1.25" fill="#f23532" />
<rect x="37.70" y="102.80" width="7.05" height="1.25" fill="#eb3230" />
<rect x="7.80" y="104.00" width="7.15" height="0.65" fill="#b01a1d" />
<rect x="14.90" y="104.00" width="7.35" height="0.65" fill="#b01a1d" />
<rect x="22.20" y="104.00" width="7.45" height="0.65" fill="#aa181c" />
<rect x="30.70" y="104.00" width="7.05" height="0.65" fill="#d42a2a" />
<rect x="37.70" y="104.00" width="7.05" height="0.65" fill="#d52a2a" />
<rect x="7.80" y="104.60" width="7.15" height="1.05" fill="#d12425" />
<rect x="14.90" y="104.60" width="7.35" height="1.05" fill="#ca2223" />
<rect x="22.20" y="104.60" width="7.45" height="1.05" fill="#c62022" />
<rect x="30.70" y="104.60" width="7.05" height="1.05" fill="#e4302e" />
<rect x="37.70" y="104.60" width="7.05" height="1.05" fill="#eb3230" />
<rect x="7.80" y="105.60" width="7.15" height="0.65" fill="#c82123" />
<rect x="14.90" y="105.60" width="7.35" height="0.65" fill="#d02325" />
<rect x="22.20" y="105.60" width="7.45" height="0.65" fill="#d62526" />
<rect x="30.70" y="105.60" width="7.05" height="0.65" fill="#ee3331" />
<rect x="37.70" y="105.60" width="7.05" height="0.65" fill="#e6302e" />
<rect x="7.80" y="106.20" width="7.15" height="0.85" fill="#cc2224" />
<rect x="14.90" y="106.20" width="7.35" height="0.85" fill="#cb2224" />
<rect x="22.20" y="106.20" width="7.45" height="0.85" fill="#cf2325" />
<rect x="30.70" y="106.20" width="7.05" height="0.85" fill="#ed3330" />
<rect x="37.70" y="106.20" width="7.05" height="0.85" fill="#ed3330" />
<rect x="7.80" y="107.00" width="7.15" height="0.55" fill="#da2727" />
<rect x="14.90" y="107.00" width="7.35" height="0.55" fill="#db2727" />
<rect x="22.20" y="107.00" width="7.45" height="0.55" fill="#cf2325" />
<rect x="30.70" y="107.00" width="7.05" height="0.55" fill="#eb3230" />
<rect x="37.70" y="107.00" width="7.05" height="0.55" fill="#e6302e" />
<rect x="7.80" y="107.50" width="7.15" height="0.65" fill="#e82a2b" />
<rect x="14.90" y="107.50" width="7.35" height="0.65" fill="#e12829" />
<rect x="22.20" y="107.50" width="7.45" height="0.65" fill="#ec2c2c" />
<rect x="30.70" y="107.50" width="7.05" height="0.65" fill="#ee3330" />
<rect x="37.70" y="107.50" width="7.05" height="0.65" fill="#f13431" />
<rect x="7.80" y="108.10" width="7.15" height="1.25" fill="#ec2c2c" />
<rect x="14.90" y="108.10" width="7.35" height="1.25" fill="#ec2c2c" />
<rect x="22.20" y="108.10" width="7.45" height="1.25" fill="#ec2c2c" />
<rect x="30.70" y="108.10" width="7.05" height="1.25" fill="#f03431" />
<rect x="37.70" y="108.10" width="7.05" height="1.25" fill="#ec3230" />
<rect x="7.80" y="109.30" width="7.15" height="0.65" fill="#e62a2a" />
<rect x="14.90" y="109.30" width="7.35" height="0.65" fill="#d12425" />
<rect x="22.20" y="109.30" width="7.45" height="0.65" fill="#e02829" />
<rect x="30.70" y="109.30" width="7.05" height="0.65" fill="#e22f2e" />
<rect x="37.70" y="109.30" width="7.05" height="0.65" fill="#e22f2d" />
<rect x="7.80" y="109.90" width="7.15" height="0.55" fill="#9c1418" />
<rect x="14.90" y="109.90" width="7.35" height="0.55" fill="#ac191c" />
<rect x="22.20" y="109.90" width="7.45" height="0.55" fill="#9d1418" />
<rect x="30.70" y="109.90" width="7.05" height="0.55" fill="#d12829" />
<rect x="37.70" y="109.90" width="7.05" height="0.55" fill="#cf2829" />
<rect x="7.80" y="110.40" width="7.15" height="0.65" fill="#b31b1e" />
<rect x="14.90" y="110.40" width="7.35" height="0.65" fill="#ae1a1d" />
<rect x="22.20" y="110.40" width="7.45" height="0.65" fill="#ab191c" />
<rect x="30.70" y="110.40" width="7.05" height="0.65" fill="#d92c2b" />
<rect x="37.70" y="110.40" width="7.05" height="0.65" fill="#dd2d2c" />
<rect x="7.80" y="111.00" width="7.15" height="0.65" fill="#a4171a" />
<rect x="14.90" y="111.00" width="7.35" height="0.65" fill="#9a1418" />
<rect x="22.20" y="111.00" width="7.45" height="0.65" fill="#9a1418" />
<rect x="30.70" y="111.00" width="7.05" height="0.65" fill="#c52426" />
<rect x="37.70" y="111.00" width="7.05" height="0.65" fill="#c52426" />
<rect x="7.80" y="111.60" width="7.15" height="0.85" fill="#e62a2a" />
<rect x="14.90" y="111.60" width="7.35" height="0.85" fill="#e4292a" />
<rect x="22.20" y="111.60" width="7.45" height="0.85" fill="#ec2c2c" />
<rect x="30.70" y="111.60" width="7.05" height="0.85" fill="#ed3330" />
<rect x="37.70" y="111.60" width="7.05" height="0.85" fill="#eb3230" />
<rect x="7.80" y="112.40" width="7.15" height="1.05" fill="#d42526" />
<rect x="14.90" y="112.40" width="7.35" height="1.05" fill="#dc2728" />
<rect x="22.20" y="112.40" width="7.45" height="1.05" fill="#e12829" />
<rect x="30.70" y="112.40" width="7.05" height="1.05" fill="#e22f2d" />
<rect x="37.70" y="112.40" width="7.05" height="1.05" fill="#e8312f" />
<rect x="7.80" y="113.40" width="7.15" height="1.05" fill="#b41b1e" />
<rect x="14.90" y="113.40" width="7.35" height="1.05" fill="#ba1d20" />
<rect x="22.20" y="113.40" width="7.45" height="1.05" fill="#b31b1e" />
<rect x="30.70" y="113.40" width="7.05" height="1.05" fill="#d72b2b" />
<rect x="37.70" y="113.40" width="7.05" height="1.05" fill="#d62a2a" />
<rect x="7.80" y="114.40" width="7.15" height="1.05" fill="#d62526" />
<rect x="14.90" y="114.40" width="7.35" height="1.05" fill="#d32425" />
<rect x="22.20" y="114.40" width="7.45" height="1.05" fill="#e22929" />
<rect x="30.70" y="114.40" width="7.05" height="1.05" fill="#e6302f" />
<rect x="37.70" y="114.40" width="7.05" height="1.05" fill="#dc2d2c" />
<rect x="7.80" y="115.40" width="7.15" height="0.85" fill="#bc1e20" />
<rect x="14.90" y="115.40" width="7.35" height="0.85" fill="#b11a1d" />
<rect x="22.20" y="115.40" width="7.45" height="0.85" fill="#b41b1e" />
<rect x="30.70" y="115.40" width="7.05" height="0.85" fill="#d02829" />
<rect x="37.70" y="115.40" width="7.05" height="0.85" fill="#da2c2b" />
<rect x="7.80" y="116.20" width="7.15" height="0.55" fill="#9a1418" />
<rect x="14.90" y="116.20" width="7.35" height="0.55" fill="#a11619" />
<rect x="22.20" y="116.20" width="7.45" height="0.55" fill="#9a1418" />
<rect x="30.70" y="116.20" width="7.05" height="0.55" fill="#c72527" />
<rect x="37.70" y="116.20" width="7.05" height="0.55" fill="#c22325" />
<rect x="7.80" y="116.70" width="7.15" height="0.65" fill="#c11f21" />
<rect x="14.90" y="116.70" width="7.35" height="0.65" fill="#b21b1d" />
<rect x="22.20" y="116.70" width="7.45" height="0.65" fill="#b71c1f" />
<rect x="30.70" y="116.70" width="7.05" height="0.65" fill="#d92b2b" />
<rect x="37.70" y="116.70" width="7.05" height="0.65" fill="#d82b2b" />
<rect x="7.80" y="117.30" width="7.15" height="1.25" fill="#e62a2a" />
<rect x="14.90" y="117.30" width="7.35" height="1.25" fill="#dd2728" />
<rect x="22.20" y="117.30" width="7.45" height="1.25" fill="#d32425" />
<rect x="30.70" y="117.30" width="7.05" height="1.25" fill="#e8312f" />
<rect x="37.70" y="117.30" width="7.05" height="1.25" fill="#e7312f" />
<rect x="7.80" y="118.50" width="7.15" height="1.25" fill="#e72a2a" />
<rect x="14.90" y="118.50" width="7.35" height="1.25" fill="#e22929" />
<rect x="22.20" y="118.50" width="7.45" height="1.25" fill="#dc2728" />
<rect x="30.70" y="118.50" width="7.05" height="1.25" fill="#ef3431" />
<rect x="37.70" y="118.50" width="7.05" height="1.25" fill="#ef3331" />
<rect x="7.80" y="119.70" width="7.15" height="1.05" fill="#ec2c2c" />
<rect x="14.90" y="119.70" width="7.35" height="1.05" fill="#e3292a" />
<rect x="22.20" y="119.70" width="7.45" height="1.05" fill="#e12829" />
<rect x="30.70" y="119.70" width="7.05" height="1.05" fill="#ea3230" />
<rect x="37.70" y="119.70" width="7.05" height="1.05" fill="#e42f2e" />
<rect x="7.80" y="120.70" width="7.15" height="1.25" fill="#c01f21" />
<rect x="14.90" y="120.70" width="7.35" height="1.25" fill="#d02325" />
<rect x="22.20" y="120.70" width="7.45" height="1.25" fill="#c92123" />
<rect x="30.70" y="120.70" width="7.05" height="1.25" fill="#d92b2b" />
<rect x="37.70" y="120.70" width="7.05" height="1.25" fill="#db2c2c" />
<rect x="7.80" y="121.90" width="7.15" height="0.85" fill="#dc2728" />
<rect x="14.90" y="121.90" width="7.35" height="0.85" fill="#e12929" />
<rect x="22.20" y="121.90" width="7.45" height="0.85" fill="#d72627" />
<rect x="30.70" y="121.90" width="7.05" height="0.85" fill="#e32f2e" />
<rect x="37.70" y="121.90" width="7.05" height="0.85" fill="#e6302f" />
<rect x="7.80" y="122.70" width="7.15" height="0.55" fill="#e02829" />
<rect x="14.90" y="122.70" width="7.35" height="0.55" fill="#d02325" />
<rect x="22.20" y="122.70" width="7.45" height="0.55" fill="#d32425" />
<rect x="30.70" y="122.70" width="7.05" height="0.55" fill="#e32f2e" />
<rect x="37.70" y="122.70" width="7.05" height="0.55" fill="#e42f2e" />
<rect x="7.80" y="123.20" width="7.15" height="0.55" fill="#b91d1f" />
<rect x="14.90" y="123.20" width="7.35" height="0.55" fill="#b11a1d" />
<rect x="22.20" y="123.20" width="7.45" height="0.55" fill="#b61c1f" />
<rect x="30.70" y="123.20" width="7.05" height="0.55" fill="#dd2d2c" />
<rect x="37.70" y="123.20" width="7.05" height="0.55" fill="#e12e2d" />
<rect x="7.80" y="123.70" width="7.15" height="1.05" fill="#ec2c2c" />
<rect x="14.90" y="123.70" width="7.35" height="1.05" fill="#ec2c2c" />
<rect x="22.20" y="123.70" width="7.45" height="1.05" fill="#e4292a" />
<rect x="30.70" y="123.70" width="7.05" height="1.05" fill="#ed3330" />
<rect x="37.70" y="123.70" width="7.05" height="1.05" fill="#ea3230" />
<rect x="7.80" y="124.70" width="7.15" height="0.65" fill="#dc2728" />
<rect x="14.90" y="124.70" width="7.35" height="0.65" fill="#d62526" />
<rect x="22.20" y="124.70" width="7.45" height="0.65" fill="#cb2223" />
<rect x="30.70" y="124.70" width="7.05" height="0.65" fill="#ec3230" />
<rect x="37.70" y="124.70" width="7.05" height="0.65" fill="#ee3331" />
<rect x="7.80" y="125.30" width="7.15" height="0.65" fill="#c32022" />
<rect x="14.90" y="125.30" width="7.35" height="0.65" fill="#c11f21" />
<rect x="22.20" y="125.30" width="7.45" height="0.65" fill="#b41b1e" />
<rect x="30.70" y="125.30" width="7.05" height="0.65" fill="#dc2d2c" />
<rect x="37.70" y="125.30" width="7.05" height="0.65" fill="#d62a2a" />
<rect x="7.80" y="125.90" width="7.15" height="0.55" fill="#e02829" />
<rect x="14.90" y="125.90" width="7.35" height="0.55" fill="#e72a2b" />
<rect x="22.20" y="125.90" width="7.45" height="0.55" fill="#e82a2b" />
<rect x="30.70" y="125.90" width="7.05" height="0.55" fill="#e9312f" />
<rect x="37.70" y="125.90" width="7.05" height="0.55" fill="#ea3230" />
<rect x="7.80" y="126.40" width="7.15" height="1.05" fill="#ea2b2b" />
<rect x="14.90" y="126.40" width="7.35" height="1.05" fill="#de2828" />
<rect x="22.20" y="126.40" width="7.45" height="1.05" fill="#e12929" />
<rect x="30.70" y="126.40" width="7.05" height="1.05" fill="#e7312f" />
<rect x="37.70" y="126.40" width="7.05" height="1.05" fill="#e9322f" />
<rect x="7.80" y="127.40" width="7.15" height="0.55" fill="#e02829" />
<rect x="14.90" y="127.40" width="7.35" height="0.55" fill="#ec2c2c" />
<rect x="22.20" y="127.40" width="7.45" height="0.55" fill="#ec2c2c" />
<rect x="30.70" y="127.40" width="7.05" height="0.55" fill="#ee3331" />
<rect x="37.70" y="127.40" width="7.05" height="0.55" fill="#ef3431" />
<rect x="7.80" y="127.90" width="7.15" height="1.05" fill="#b21b1e" />
<rect x="14.90" y="127.90" width="7.35" height="1.05" fill="#b21b1e" />
<rect x="22.20" y="127.90" width="7.45" height="1.05" fill="#b91d1f" />
<rect x="30.70" y="127.90" width="7.05" height="1.05" fill="#d42a2a" />
<rect x="37.70" y="127.90" width="7.05" height="1.05" fill="#d52a2a" />
<rect x="7.80" y="128.90" width="7.15" height="1.25" fill="#e52a2a" />
<rect x="14.90" y="128.90" width="7.35" height="1.25" fill="#ec2c2c" />
<rect x="22.20" y="128.90" width="7.45" height="1.25" fill="#e52a2a" />
<rect x="30.70" y="128.90" width="7.05" height="1.25" fill="#eb3230" />
<rect x="37.70" y="128.90" width="7.05" height="1.25" fill="#ee3331" />
<rect x="7.80" y="130.10" width="7.15" height="0.55" fill="#e72a2a" />
<rect x="14.90" y="130.10" width="7.35" height="0.55" fill="#d42526" />
<rect x="22.20" y="130.10" width="7.45" height="0.55" fill="#d42526" />
<rect x="30.70" y="130.10" width="7.05" height="0.55" fill="#e22f2e" />
<rect x="37.70" y="130.10" width="7.05" height="0.55" fill="#eb3230" />
<rect x="7.80" y="130.60" width="7.15" height="0.55" fill="#df2829" />
<rect x="14.90" y="130.60" width="7.35" height="0.55" fill="#d72526" />
<rect x="22.20" y="130.60" width="7.45" height="0.55" fill="#dd2728" />
<rect x="30.70" y="130.60" width="7.05" height="0.55" fill="#ec3230" />
<rect x="37.70" y="130.60" width="7.05" height="0.55" fill="#e7312f" />
<rect x="7.80" y="131.10" width="7.15" height="0.65" fill="#ec2c2c" />
<rect x="14.90" y="131.10" width="7.35" height="0.65" fill="#df2828" />
<rect x="22.20" y="131.10" width="7.45" height="0.65" fill="#e02829" />
<rect x="30.70" y="131.10" width="7.05" height="0.65" fill="#f23532" />
<rect x="37.70" y="131.10" width="7.05" height="0.65" fill="#f23532" />
<rect x="7.80" y="131.70" width="7.15" height="0.85" fill="#e02829" />
<rect x="14.90" y="131.70" width="7.35" height="0.85" fill="#e62a2a" />
<rect x="22.20" y="131.70" width="7.45" height="0.85" fill="#da2627" />
<rect x="30.70" y="131.70" width="7.05" height="0.85" fill="#e8312f" />
<rect x="37.70" y="131.70" width="7.05" height="0.85" fill="#e8312f" />
<rect x="7.80" y="132.50" width="7.15" height="1.25" fill="#c92123" />
<rect x="14.90" y="132.50" width="7.35" height="1.25" fill="#c52022" />
<rect x="22.20" y="132.50" width="7.45" height="1.25" fill="#cf2325" />
<rect x="30.70" y="132.50" width="7.05" height="1.25" fill="#da2c2c" />
<rect x="37.70" y="132.50" width="7.05" height="1.25" fill="#dc2d2c" />
<rect x="7.80" y="133.70" width="7.15" height="0.85" fill="#ae191c" />
<rect x="14.90" y="133.70" width="7.35" height="0.85" fill="#ae1a1d" />
<rect x="22.20" y="133.70" width="7.45" height="0.85" fill="#b81c1f" />
<rect x="30.70" y="133.70" width="7.05" height="0.85" fill="#dc2d2c" />
<rect x="37.70" y="133.70" width="7.05" height="0.85" fill="#db2c2c" />
<rect x="7.80" y="134.50" width="7.15" height="1.25" fill="#aa181c" />
<rect x="14.90" y="134.50" width="7.35" height="1.25" fill="#ad191c" />
<rect x="22.20" y="134.50" width="7.45" height="1.25" fill="#ad191c" />
<rect x="30.70" y="134.50" width="7.05" height="1.25" fill="#ce2728" />
<rect x="37.70" y="134.50" width="7.05" height="1.25" fill="#cf2829" />
<rect x="7.80" y="135.70" width="7.15" height="0.55" fill="#b31b1e" />
<rect x="14.90" y="135.70" width="7.35" height="0.55" fill="#b91d1f" />
<rect x="22.20" y="135.70" width="7.45" height="0.55" fill="#ad191c" />
<rect x="30.70" y="135.70" width="7.05" height="0.55" fill="#da2c2b" />
<rect x="37.70" y="135.70" width="7.05" height="0.55" fill="#d92b2b" />
<rect x="7.80" y="136.20" width="7.15" height="0.55" fill="#a11619" />
<rect x="14.90" y="136.20" width="7.35" height="0.55" fill="#a9181b" />
<rect x="22.20" y="136.20" width="7.45" height="0.55" fill="#ad191c" />
<rect x="30.70" y="136.20" width="7.05" height="0.55" fill="#d02829" />
<rect x="37.70" y="136.20" width="7.05" height="0.55" fill="#d22929" />
<rect x="7.80" y="136.70" width="7.15" height="0.55" fill="#b11b1d" />
<rect x="14.90" y="136.70" width="7.35" height="0.55" fill="#b61c1e" />
<rect x="22.20" y="136.70" width="7.45" height="0.55" fill="#b61c1e" />
<rect x="30.70" y="136.70" width="7.05" height="0.55" fill="#ce2728" />
<rect x="37.70" y="136.70" width="7.05" height="0.55" fill="#d52a2a" />
<rect x="7.80" y="137.20" width="7.15" height="0.85" fill="#dc2728" />
<rect x="14.90" y="137.20" width="7.35" height="0.85" fill="#ce2324" />
<rect x="22.20" y="137.20" width="7.45" height="0.85" fill="#e4292a" />
<rect x="30.70" y="137.20" width="7.05" height="0.85" fill="#e8312f" />
<rect x="37.70" y="137.20" width="7.05" height="0.85" fill="#e6302f" />
<rect x="7.80" y="138.00" width="7.15" height="1.25" fill="#c82123" />
<rect x="14.90" y="138.00" width="7.35" height="1.25" fill="#d72526" />
<rect x="22.20" y="138.00" width="7.45" height="1.25" fill="#cd2324" />
<rect x="30.70" y="138.00" width="7.05" height="1.25" fill="#dd2d2c" />
<rect x="37.70" y="138.00" width="7.05" height="1.25" fill="#d82b2b" />
<rect x="7.80" y="139.20" width="7.15" height="0.85" fill="#cc2224" />
<rect x="14.90" y="139.20" width="7.35" height="0.85" fill="#c92123" />
<rect x="22.20" y="139.20" width="7.45" height="0.85" fill="#c62122" />
<rect x="30.70" y="139.20" width="7.05" height="0.85" fill="#e9312f" />
<rect x="37.70" y="139.20" width="7.05" height="0.85" fill="#ec3330" />
<rect x="7.80" y="140.00" width="7.15" height="1.05" fill="#e52a2a" />
<rect x="14.90" y="140.00" width="7.35" height="1.05" fill="#e02829" />
<rect x="22.20" y="140.00" width="7.45" height="1.05" fill="#ec2c2c" />
<rect x="30.70" y="140.00" width="7.05" height="1.05" fill="#f23532" />
<rect x="37.70" y="140.00" width="7.05" height="1.05" fill="#f23532" />
<rect x="7.80" y="141.00" width="7.15" height="0.65" fill="#9a1418" />
<rect x="14.90" y="141.00" width="7.35" height="0.65" fill="#9d1418" />
<rect x="22.20" y="141.00" width="7.45" height="0.65" fill="#9b1418" />
<rect x="30.70" y="141.00" width="7.05" height="0.65" fill="#cf2829" />
<rect x="37.70" y="141.00" width="7.05" height="0.65" fill="#c72527" />
<rect x="7.80" y="141.60" width="7.15" height="0.65" fill="#c82123" />
<rect x="14.90" y="141.60" width="7.35" height="0.65" fill="#d62526" />
<rect x="22.20" y="141.60" width="7.45" height="0.65" fill="#c42022" />
<rect x="30.70" y="141.60" width="7.05" height="0.65" fill="#e5302e" />
<rect x="37.70" y="141.60" width="7.05" height="0.65" fill="#e42f2e" />
<rect x="7.80" y="142.20" width="7.15" height="0.85" fill="#da2627" />
<rect x="14.90" y="142.20" width="7.35" height="0.85" fill="#ce2324" />
<rect x="22.20" y="142.20" width="7.45" height="0.85" fill="#e12929" />
<rect x="30.70" y="142.20" width="7.05" height="0.85" fill="#e32f2e" />
<rect x="37.70" y="142.20" width="7.05" height="0.85" fill="#ee3331" />
<rect x="7.80" y="143.00" width="7.15" height="0.65" fill="#da2627" />
<rect x="14.90" y="143.00" width="7.35" height="0.65" fill="#e32929" />
<rect x="22.20" y="143.00" width="7.45" height="0.65" fill="#cf2325" />
<rect x="30.70" y="143.00" width="7.05" height="0.65" fill="#e8312f" />
<rect x="37.70" y="143.00" width="7.05" height="0.65" fill="#e4302e" />
<rect x="7.80" y="143.60" width="7.15" height="0.65" fill="#c21f21" />
<rect x="14.90" y="143.60" width="7.35" height="0.65" fill="#c52022" />
<rect x="22.20" y="143.60" width="7.45" height="0.65" fill="#cc2224" />
<rect x="30.70" y="143.60" width="7.05" height="0.65" fill="#de2d2d" />
<rect x="37.70" y="143.60" width="7.05" height="0.65" fill="#e02e2d" />
<rect x="7.80" y="144.20" width="7.15" height="1.05" fill="#c52022" />
<rect x="14.90" y="144.20" width="7.35" height="1.05" fill="#be1e20" />
<rect x="22.20" y="144.20" width="7.45" height="1.05" fill="#b61c1e" />
<rect x="30.70" y="144.20" width="7.05" height="1.05" fill="#d62a2a" />
<rect x="37.70" y="144.20" width="7.05" height="1.05" fill="#dc2c2c" />
<rect x="7.80" y="145.20" width="7.15" height="1.05" fill="#be1e20" />
<rect x="14.90" y="145.20" width="7.35" height="1.05" fill="#c42022" />
<rect x="22.20" y="145.20" width="7.45" height="1.05" fill="#b81c1f" />
<rect x="30.70" y="145.20" width="7.05" height="1.05" fill="#d42a2a" />
<rect x="37.70" y="145.20" width="7.05" height="1.05" fill="#d72b2b" />
<rect x="7.80" y="146.20" width="7.15" height="0.65" fill="#9a1418" />
<rect x="14.90" y="146.20" width="7.35" height="0.65" fill="#a01519" />
<rect x="22.20" y="146.20" width="7.45" height="0.65" fill="#a3161a" />
<rect x="30.70" y="146.20" width="7.05" height="0.65" fill="#c32325" />
<rect x="37.70" y="146.20" width="7.05" height="0.65" fill="#cc2628" />
<rect x="7.80" y="146.80" width="7.15" height="0.55" fill="#ec2c2c" />
<rect x="14.90" y="146.80" width="7.35" height="0.55" fill="#ec2c2c" />
<rect x="22.20" y="146.80" width="7.45" height="0.55" fill="#ec2c2c" />
<rect x="30.70" y="146.80" width="7.05" height="0.55" fill="#ed3330" />
<rect x="37.70" y="146.80" width="7.05" height="0.55" fill="#ed3330" />
<rect x="7.80" y="147.30" width="7.15" height="0.85" fill="#ec2c2c" />
<rect x="14.90" y="147.30" width="7.35" height="0.85" fill="#ea2b2b" />
<rect x="22.20" y="147.30" width="7.45" height="0.85" fill="#e52a2a" />
<rect x="30.70" y="147.30" width="7.05" height="0.85" fill="#ef3431" />
<rect x="37.70" y="147.30" width="7.05" height="0.85" fill="#eb3230" />
<rect x="7.80" y="148.10" width="7.15" height="1.05" fill="#b61c1f" />
<rect x="14.90" y="148.10" width="7.35" height="1.05" fill="#ba1d20" />
<rect x="22.20" y="148.10" width="7.45" height="1.05" fill="#c21f21" />
<rect x="30.70" y="148.10" width="7.05" height="1.05" fill="#d82b2b" />
<rect x="37.70" y="148.10" width="7.05" height="1.05" fill="#da2c2c" />
<rect x="7.80" y="149.10" width="7.15" height="0.65" fill="#a21619" />
<rect x="14.90" y="149.10" width="7.35" height="0.65" fill="#9d1518" />
<rect x="22.20" y="149.10" width="7.45" height="0.65" fill="#a5171a" />
<rect x="30.70" y="149.10" width="7.05" height="0.65" fill="#d4292a" />
<rect x="37.70" y="149.10" width="7.05" height="0.65" fill="#ce2728" />
<rect x="7.80" y="149.70" width="7.15" height="1.25" fill="#a6171b" />
<rect x="14.90" y="149.70" width="7.35" height="1.25" fill="#ab181c" />
<rect x="22.20" y="149.70" width="7.45" height="1.25" fill="#ae191c" />
<rect x="30.70" y="149.70" width="7.05" height="1.25" fill="#ce2728" />
<rect x="37.70" y="149.70" width="7.05" height="1.25" fill="#d42a2a" />
<rect x="7.80" y="150.90" width="7.15" height="1.05" fill="#da2627" />
<rect x="14.90" y="150.90" width="7.35" height="1.05" fill="#e82a2b" />
<rect x="22.20" y="150.90" width="7.45" height="1.05" fill="#d72526" />
<rect x="30.70" y="150.90" width="7.05" height="1.05" fill="#ec3330" />
<rect x="37.70" y="150.90" width="7.05" height="1.05" fill="#f23532" />
<rect x="7.80" y="151.90" width="7.15" height="1.05" fill="#c11f21" />
<rect x="14.90" y="151.90" width="7.35" height="1.05" fill="#c01f21" />
<rect x="22.20" y="151.90" width="7.45" height="1.05" fill="#ce2324" />
<rect x="30.70" y="151.90" width="7.05" height="1.05" fill="#e4302e" />
<rect x="37.70" y="151.90" width="7.05" height="1.05" fill="#da2c2b" />
<rect x="7.80" y="152.90" width="7.15" height="0.55" fill="#ec2c2c" />
<rect x="14.90" y="152.90" width="7.35" height="0.55" fill="#e4292a" />
<rect x="22.20" y="152.90" width="7.45" height="0.55" fill="#e02829" />
<rect x="30.70" y="152.90" width="7.05" height="0.55" fill="#ef3331" />
<rect x="37.70" y="152.90" width="7.05" height="0.55" fill="#f23532" />
<rect x="7.80" y="153.40" width="7.15" height="1.25" fill="#d02325" />
<rect x="14.90" y="153.40" width="7.35" height="1.25" fill="#db2727" />
<rect x="22.20" y="153.40" width="7.45" height="1.25" fill="#c82123" />
<rect x="30.70" y="153.40" width="7.05" height="1.25" fill="#e9312f" />
<rect x="37.70" y="153.40" width="7.05" height="1.25" fill="#ea322f" />
<rect x="7.80" y="154.60" width="7.15" height="1.05" fill="#e4292a" />
<rect x="14.90" y="154.60" width="7.35" height="1.05" fill="#db2727" />
<rect x="22.20" y="154.60" width="7.45" height="1.05" fill="#eb2b2b" />
<rect x="30.70" y="154.60" width="7.05" height="1.05" fill="#e32f2e" />
<rect x="37.70" y="154.60" width="7.05" height="1.05" fill="#ea3230" />
<rect x="7.80" y="155.60" width="7.15" height="0.55" fill="#ea2b2b" />
<rect x="14.90" y="155.60" width="7.35" height="0.55" fill="#e92b2b" />
<rect x="22.20" y="155.60" width="7.45" height="0.55" fill="#d42526" />
<rect x="30.70" y="155.60" width="7.05" height="0.55" fill="#ea3230" />
<rect x="37.70" y="155.60" width="7.05" height="0.55" fill="#ea3230" />
<rect x="7.80" y="156.10" width="7.15" height="1.15" fill="#d82627" />
<rect x="14.90" y="156.10" width="7.35" height="1.15" fill="#d32426" />
<rect x="22.20" y="156.10" width="7.45" height="1.15" fill="#dd2728" />
<rect x="30.70" y="156.10" width="7.05" height="1.15" fill="#f23532" />
<rect x="37.70" y="156.10" width="7.05" height="1.15" fill="#ea3230" />
<rect x="7.80" y="157.20" width="21.80" height="13.50" fill="#3a56b8" />
<rect x="30.70" y="157.20" width="14.00" height="13.50" fill="#3b5ec4" />
<rect x="7.80" y="157.20" width="7.15" height="0.85" fill="#4a6cd0" />
<rect x="14.90" y="157.20" width="7.35" height="0.85" fill="#2e48a8" />
<rect x="22.20" y="157.20" width="7.45" height="0.85" fill="#3a5abc" />
<rect x="30.70" y="157.20" width="7.05" height="0.85" fill="#2e48a8" />
<rect x="37.70" y="157.20" width="7.05" height="0.85" fill="#3a5abc" />
<rect x="7.80" y="158.00" width="7.15" height="0.55" fill="#4a6cd0" />
<rect x="14.90" y="158.00" width="7.35" height="0.55" fill="#3a5abc" />
<rect x="22.20" y="158.00" width="7.45" height="0.55" fill="#2e48a8" />
<rect x="30.70" y="158.00" width="7.05" height="0.55" fill="#3a5abc" />
<rect x="37.70" y="158.00" width="7.05" height="0.55" fill="#4a6cd0" />
<rect x="7.80" y="158.50" width="7.15" height="1.05" fill="#3a5abc" />
<rect x="14.90" y="158.50" width="7.35" height="1.05" fill="#3a5abc" />
<rect x="22.20" y="158.50" width="7.45" height="1.05" fill="#4a6cd0" />
<rect x="30.70" y="158.50" width="7.05" height="1.05" fill="#3a5abc" />
<rect x="37.70" y="158.50" width="7.05" height="1.05" fill="#3a5abc" />
<rect x="7.80" y="159.50" width="7.15" height="1.05" fill="#2e48a8" />
<rect x="14.90" y="159.50" width="7.35" height="1.05" fill="#3a5abc" />
<rect x="22.20" y="159.50" width="7.45" height="1.05" fill="#4a6cd0" />
<rect x="30.70" y="159.50" width="7.05" height="1.05" fill="#3a5abc" />
<rect x="37.70" y="159.50" width="7.05" height="1.05" fill="#2e48a8" />
<rect x="7.80" y="160.50" width="7.15" height="0.85" fill="#3a5abc" />
<rect x="14.90" y="160.50" width="7.35" height="0.85" fill="#3a5abc" />
<rect x="22.20" y="160.50" width="7.45" height="0.85" fill="#3a5abc" />
<rect x="30.70" y="160.50" width="7.05" height="0.85" fill="#4a6cd0" />
<rect x="37.70" y="160.50" width="7.05" height="0.85" fill="#3a5abc" />
<rect x="7.80" y="161.30" width="7.15" height="0.85" fill="#4a6cd0" />
<rect x="14.90" y="161.30" width="7.35" height="0.85" fill="#3a5abc" />
<rect x="22.20" y="161.30" width="7.45" height="0.85" fill="#4a6cd0" />
<rect x="30.70" y="161.30" width="7.05" height="0.85" fill="#4a6cd0" />
<rect x="37.70" y="161.30" width="7.05" height="0.85" fill="#3a5abc" />
<rect x="7.80" y="162.10" width="7.15" height="0.55" fill="#3a5abc" />
<rect x="14.90" y="162.10" width="7.35" height="0.55" fill="#4a6cd0" />
<rect x="22.20" y="162.10" width="7.45" height="0.55" fill="#3a5abc" />
<rect x="30.70" y="162.10" width="7.05" height="0.55" fill="#3a5abc" />
<rect x="37.70" y="162.10" width="7.05" height="0.55" fill="#2e48a8" />
<rect x="7.80" y="162.60" width="7.15" height="1.05" fill="#3a5abc" />
<rect x="14.90" y="162.60" width="7.35" height="1.05" fill="#3a5abc" />
<rect x="22.20" y="162.60" width="7.45" height="1.05" fill="#2e48a8" />
<rect x="30.70" y="162.60" width="7.05" height="1.05" fill="#3a5abc" />
<rect x="37.70" y="162.60" width="7.05" height="1.05" fill="#3a5abc" />
<rect x="7.80" y="163.60" width="7.15" height="0.55" fill="#3a5abc" />
<rect x="14.90" y="163.60" width="7.35" height="0.55" fill="#2e48a8" />
<rect x="22.20" y="163.60" width="7.45" height="0.55" fill="#2e48a8" />
<rect x="30.70" y="163.60" width="7.05" height="0.55" fill="#2e48a8" />
<rect x="37.70" y="163.60" width="7.05" height="0.55" fill="#3a5abc" />
<rect x="7.80" y="164.10" width="7.15" height="1.05" fill="#2e48a8" />
<rect x="14.90" y="164.10" width="7.35" height="1.05" fill="#2e48a8" />
<rect x="22.20" y="164.10" width="7.45" height="1.05" fill="#3a5abc" />
<rect x="30.70" y="164.10" width="7.05" height="1.05" fill="#4a6cd0" />
<rect x="37.70" y="164.10" width="7.05" height="1.05" fill="#2e48a8" />
<rect x="7.80" y="165.10" width="7.15" height="0.85" fill="#3a5abc" />
<rect x="14.90" y="165.10" width="7.35" height="0.85" fill="#2e48a8" />
<rect x="22.20" y="165.10" width="7.45" height="0.85" fill="#3a5abc" />
<rect x="30.70" y="165.10" width="7.05" height="0.85" fill="#3a5abc" />
<rect x="37.70" y="165.10" width="7.05" height="0.85" fill="#3a5abc" />
<rect x="7.80" y="165.90" width="7.15" height="1.05" fill="#3a5abc" />
<rect x="14.90" y="165.90" width="7.35" height="1.05" fill="#3a5abc" />
<rect x="22.20" y="165.90" width="7.45" height="1.05" fill="#3a5abc" />
<rect x="30.70" y="165.90" width="7.05" height="1.05" fill="#2e48a8" />
<rect x="37.70" y="165.90" width="7.05" height="1.05" fill="#4a6cd0" />
<rect x="7.80" y="166.90" width="7.15" height="0.55" fill="#3a5abc" />
<rect x="14.90" y="166.90" width="7.35" height="0.55" fill="#3a5abc" />
<rect x="22.20" y="166.90" width="7.45" height="0.55" fill="#4a6cd0" />
<rect x="30.70" y="166.90" width="7.05" height="0.55" fill="#3a5abc" />
<rect x="37.70" y="166.90" width="7.05" height="0.55" fill="#3a5abc" />
<rect x="7.80" y="167.40" width="7.15" height="0.85" fill="#4a6cd0" />
<rect x="14.90" y="167.40" width="7.35" height="0.85" fill="#3a5abc" />
<rect x="22.20" y="167.40" width="7.45" height="0.85" fill="#4a6cd0" />
<rect x="30.70" y="167.40" width="7.05" height="0.85" fill="#3a5abc" />
<rect x="37.70" y="167.40" width="7.05" height="0.85" fill="#4a6cd0" />
<rect x="7.80" y="168.20" width="7.15" height="0.55" fill="#3a5abc" />
<rect x="14.90" y="168.20" width="7.35" height="0.55" fill="#2e48a8" />
<rect x="22.20" y="168.20" width="7.45" height="0.55" fill="#2e48a8" />
<rect x="30.70" y="168.20" width="7.05" height="0.55" fill="#3a5abc" />
<rect x="37.70" y="168.20" width="7.05" height="0.55" fill="#3a5abc" />
<rect x="7.80" y="168.70" width="7.15" height="0.55" fill="#3a5abc" />
<rect x="14.90" y="168.70" width="7.35" height="0.55" fill="#4a6cd0" />
<rect x="22.20" y="168.70" width="7.45" height="0.55" fill="#3a5abc" />
<rect x="30.70" y="168.70" width="7.05" height="0.55" fill="#3a5abc" />
<rect x="37.70" y="168.70" width="7.05" height="0.55" fill="#3a5abc" />
<rect x="7.80" y="169.20" width="7.15" height="0.85" fill="#4a6cd0" />
<rect x="14.90" y="169.20" width="7.35" height="0.85" fill="#3a5abc" />
<rect x="22.20" y="169.20" width="7.45" height="0.85" fill="#3a5abc" />
<rect x="30.70" y="169.20" width="7.05" height="0.85" fill="#2e48a8" />
<rect x="37.70" y="169.20" width="7.05" height="0.85" fill="#4a6cd0" />
<rect x="7.80" y="170.00" width="7.15" height="0.75" fill="#2e48a8" />
<rect x="14.90" y="170.00" width="7.35" height="0.75" fill="#3a5abc" />
<rect x="22.20" y="170.00" width="7.45" height="0.75" fill="#3a5abc" />
<rect x="30.70" y="170.00" width="7.05" height="0.75" fill="#3a5abc" />
<rect x="37.70" y="170.00" width="7.05" height="0.75" fill="#4a6cd0" />
<rect x="29.50" y="16.00" width="1.20" height="154.70" fill="#f5cfc6" />
<text x="47.50" y="47.75" font-size="4.9" fill="#3a3a3a" font-style="italic" textLength="16.7" lengthAdjust="spacingAndGlyphs" stroke="#3a3a3a" stroke-width="0.14" >COL6A1</text>
<text x="47.50" y="52.75" font-size="4.9" fill="#3a3a3a" font-style="italic" textLength="16.7" lengthAdjust="spacingAndGlyphs" stroke="#3a3a3a" stroke-width="0.14" >COL6A2</text>
<text x="47.50" y="57.45" font-size="4.9" fill="#3a3a3a" font-style="italic" textLength="11.2" lengthAdjust="spacingAndGlyphs" stroke="#3a3a3a" stroke-width="0.14" >CTSF</text>
<text x="47.50" y="69.65" font-size="4.9" fill="#3a3a3a" font-style="italic" textLength="8.6" lengthAdjust="spacingAndGlyphs" stroke="#3a3a3a" stroke-width="0.14" >EGF</text>
<text x="47.50" y="86.05" font-size="4.9" fill="#3a3a3a" font-style="italic" textLength="23.4" lengthAdjust="spacingAndGlyphs" stroke="#3a3a3a" stroke-width="0.14" >IL8(CXCL8)</text>
<text x="47.50" y="104.75" font-size="4.9" fill="#3a3a3a" font-style="italic" textLength="6.5" lengthAdjust="spacingAndGlyphs" stroke="#3a3a3a" stroke-width="0.14" >LIF</text>
<text x="47.50" y="115.55" font-size="4.9" fill="#3a3a3a" font-style="italic" textLength="12.3" lengthAdjust="spacingAndGlyphs" stroke="#3a3a3a" stroke-width="0.14" >MMP1</text>
<text x="47.50" y="120.15" font-size="4.9" fill="#3a3a3a" font-style="italic" textLength="15.3" lengthAdjust="spacingAndGlyphs" stroke="#3a3a3a" stroke-width="0.14" >MMP10</text>
<text x="47.50" y="142.95" font-size="4.9" fill="#3a3a3a" font-style="italic" textLength="20.7" lengthAdjust="spacingAndGlyphs" stroke="#3a3a3a" stroke-width="0.14" >SERPINE1</text>
<text x="47.50" y="165.55" font-size="4.9" fill="#3a3a3a" font-style="italic" textLength="10.3" lengthAdjust="spacingAndGlyphs" stroke="#3a3a3a" stroke-width="0.14" >MYC</text>
<text x="4.60" y="78.20" font-size="4.9" text-anchor="middle" textLength="48.8" lengthAdjust="spacingAndGlyphs" stroke="#231f20" stroke-width="0.14" transform="rotate(-90 4.60 78.20)" >CISG_UP (n = 262)</text>
<text x="5.20" y="162.00" font-size="5.0" text-anchor="middle" stroke="#231f20" stroke-width="0.14" transform="rotate(-90 5.20 162.00)" >CISG_DN (n = 26)</text>
<text x="8.50" y="172.50" font-size="5.0" textLength="40.5" lengthAdjust="spacingAndGlyphs" stroke="#231f20" stroke-width="0.14" transform="rotate(90 8.50 172.50)" >AML1566_Ara-C_3</text>
<text x="16.50" y="172.50" font-size="5.0" textLength="40.5" lengthAdjust="spacingAndGlyphs" stroke="#231f20" stroke-width="0.14" transform="rotate(90 16.50 172.50)" >AML1566_Ara-C_2</text>
<text x="24.60" y="172.50" font-size="5.0" textLength="40.5" lengthAdjust="spacingAndGlyphs" stroke="#231f20" stroke-width="0.14" transform="rotate(90 24.60 172.50)" >AML1566_Ara-C_1</text>
<text x="32.60" y="172.50" font-size="5.0" textLength="40.5" lengthAdjust="spacingAndGlyphs" stroke="#231f20" stroke-width="0.14" transform="rotate(90 32.60 172.50)" >AML2741_Ara-C_2</text>
<text x="40.60" y="172.50" font-size="5.0" textLength="40.5" lengthAdjust="spacingAndGlyphs" stroke="#231f20" stroke-width="0.14" transform="rotate(90 40.60 172.50)" >AML2741_Ara-C_1</text>
<defs><linearGradient id="cbar" x1="0" x2="1" y1="0" y2="0"><stop offset="0" stop-color="#3d63c6"/><stop offset="0.38" stop-color="#3a5ab8"/><stop offset="0.5" stop-color="#000"/><stop offset="0.62" stop-color="#c81e22"/><stop offset="1" stop-color="#f03a34"/></linearGradient></defs>
<rect x="11.00" y="218.00" width="32.50" height="5.60" fill="url(#cbar)" />
<line x1="11.00" y1="223.60" x2="11.00" y2="224.80" stroke="#555" stroke-width="0.3" />
<text x="11.00" y="231.20" font-size="4.8" text-anchor="middle" stroke="#231f20" stroke-width="0.14" >−4</text>
<line x1="19.12" y1="223.60" x2="19.12" y2="224.80" stroke="#555" stroke-width="0.3" />
<text x="19.12" y="231.20" font-size="4.8" text-anchor="middle" stroke="#231f20" stroke-width="0.14" >−2</text>
<line x1="27.25" y1="223.60" x2="27.25" y2="224.80" stroke="#555" stroke-width="0.3" />
<text x="27.25" y="231.20" font-size="4.8" text-anchor="middle" stroke="#231f20" stroke-width="0.14" >0</text>
<line x1="35.38" y1="223.60" x2="35.38" y2="224.80" stroke="#555" stroke-width="0.3" />
<text x="35.38" y="231.20" font-size="4.8" text-anchor="middle" stroke="#231f20" stroke-width="0.14" >2</text>
<line x1="43.50" y1="223.60" x2="43.50" y2="224.80" stroke="#555" stroke-width="0.3" />
<text x="43.50" y="231.20" font-size="4.8" text-anchor="middle" stroke="#231f20" stroke-width="0.14" >4</text>
<text x="27.20" y="236.80" font-size="4.8" text-anchor="middle" stroke="#231f20" stroke-width="0.14" >Log₂ FC (vs. DMSO</text>
<text x="27.20" y="242.60" font-size="4.8" text-anchor="middle" stroke="#231f20" stroke-width="0.14" >control)</text>
<text x="392.20" y="7.50" font-size="10.5" font-weight="bold" fill="#000" >C</text>
<text x="404.90" y="5.60" font-size="6.0" font-weight="bold" textLength="109" lengthAdjust="spacingAndGlyphs" >HALLMARK_TNFA_SIGNALING_VIA_NFKB</text>
<line x1="419.30" y1="8.00" x2="419.30" y2="47.60" stroke="#231f20" stroke-width="0.4" />
<line x1="419.30" y1="47.60" x2="496.50" y2="47.60" stroke="#231f20" stroke-width="0.4" />
<line x1="418.10" y1="9.70" x2="419.30" y2="9.70" stroke="#231f20" stroke-width="0.35" />
<text x="416.10" y="11.30" font-size="4.6" text-anchor="end" stroke="#231f20" stroke-width="0.14" >0.6</text>
<line x1="418.10" y1="15.70" x2="419.30" y2="15.70" stroke="#231f20" stroke-width="0.35" />
<text x="416.10" y="17.30" font-size="4.6" text-anchor="end" stroke="#231f20" stroke-width="0.14" >0.5</text>
<line x1="418.10" y1="21.90" x2="419.30" y2="21.90" stroke="#231f20" stroke-width="0.35" />
<text x="416.10" y="23.50" font-size="4.6" text-anchor="end" stroke="#231f20" stroke-width="0.14" >0.4</text>
<line x1="418.10" y1="28.30" x2="419.30" y2="28.30" stroke="#231f20" stroke-width="0.35" />
<text x="416.10" y="29.90" font-size="4.6" text-anchor="end" stroke="#231f20" stroke-width="0.14" >0.3</text>
<line x1="418.10" y1="34.60" x2="419.30" y2="34.60" stroke="#231f20" stroke-width="0.35" />
<text x="416.10" y="36.20" font-size="4.6" text-anchor="end" stroke="#231f20" stroke-width="0.14" >0.2</text>
<line x1="418.10" y1="40.40" x2="419.30" y2="40.40" stroke="#231f20" stroke-width="0.35" />
<text x="416.10" y="42.00" font-size="4.6" text-anchor="end" stroke="#231f20" stroke-width="0.14" >0.1</text>
<line x1="418.10" y1="47.10" x2="419.30" y2="47.10" stroke="#231f20" stroke-width="0.35" />
<text x="416.10" y="48.70" font-size="4.6" text-anchor="end" stroke="#231f20" stroke-width="0.14" >0.0</text>
<text x="407.30" y="28.00" font-size="4.6" text-anchor="middle" textLength="33" lengthAdjust="spacingAndGlyphs" stroke="#231f20" stroke-width="0.14" transform="rotate(-90 407.30 28.00)" >Enrichment score</text>
<path d="M421.2 47 C423 30 425 15 429.2 10 C431 7.5 432.5 6.7 434 6.6 C437 6.6 440 7.5 444 10 L470.7 33 C475 37 480 40 484 42 C489 44.5 493 46 496 46.8" fill="none" stroke="#5bb082" stroke-width="0.6" />
<text x="428.00" y="21.80" font-size="5.0" stroke="#231f20" stroke-width="0.14" >NES = 1.97</text>
<text x="428.00" y="27.60" font-size="5.0" stroke="#231f20" stroke-width="0.14" >FDR &lt; 0.001</text>
<defs><linearGradient id="bc1" x1="0" x2="1"><stop offset="0" stop-color="#b83048"/><stop offset="0.3" stop-color="#e8b0b8"/><stop offset="0.5" stop-color="#f4f0f2"/><stop offset="0.65" stop-color="#c8cce4"/><stop offset="1" stop-color="#3a4a98"/></linearGradient></defs>
<rect x="419.30" y="49.50" width="20.00" height="3.60" fill="#e8c8cc" opacity="0.8"/>
<rect x="439.30" y="49.50" width="20.00" height="3.60" fill="#f3e4e6" opacity="0.8"/>
<line x1="420.10" y1="49.50" x2="420.10" y2="53.10" stroke="#4a4048" stroke-width="0.3" />
<line x1="420.14" y1="49.50" x2="420.14" y2="53.10" stroke="#4a4048" stroke-width="0.3" />
<line x1="420.22" y1="49.50" x2="420.22" y2="53.10" stroke="#4a4048" stroke-width="0.3" />
<line x1="420.34" y1="49.50" x2="420.34" y2="53.10" stroke="#4a4048" stroke-width="0.3" />
<line x1="420.49" y1="49.50" x2="420.49" y2="53.10" stroke="#4a4048" stroke-width="0.3" />
<line x1="420.67" y1="49.50" x2="420.67" y2="53.10" stroke="#4a4048" stroke-width="0.3" />
<line x1="420.87" y1="49.50" x2="420.87" y2="53.10" stroke="#4a4048" stroke-width="0.3" />
<line x1="421.10" y1="49.50" x2="421.10" y2="53.10" stroke="#4a4048" stroke-width="0.3" />
<line x1="421.36" y1="49.50" x2="421.36" y2="53.10" stroke="#4a4048" stroke-width="0.3" />
<line x1="421.64" y1="49.50" x2="421.64" y2="53.10" stroke="#4a4048" stroke-width="0.3" />
<line x1="421.94" y1="49.50" x2="421.94" y2="53.10" stroke="#4a4048" stroke-width="0.3" />
<line x1="422.26" y1="49.50" x2="422.26" y2="53.10" stroke="#4a4048" stroke-width="0.3" />
<line x1="422.61" y1="49.50" x2="422.61" y2="53.10" stroke="#4a4048" stroke-width="0.3" />
<line x1="422.97" y1="49.50" x2="422.97" y2="53.10" stroke="#4a4048" stroke-width="0.3" />
<line x1="423.36" y1="49.50" x2="423.36" y2="53.10" stroke="#4a4048" stroke-width="0.3" />
<line x1="423.76" y1="49.50" x2="423.76" y2="53.10" stroke="#4a4048" stroke-width="0.3" />
<line x1="424.19" y1="49.50" x2="424.19" y2="53.10" stroke="#4a4048" stroke-width="0.3" />
<line x1="424.63" y1="49.50" x2="424.63" y2="53.10" stroke="#4a4048" stroke-width="0.3" />
<line x1="425.09" y1="49.50" x2="425.09" y2="53.10" stroke="#4a4048" stroke-width="0.3" />
<line x1="425.58" y1="49.50" x2="425.58" y2="53.10" stroke="#4a4048" stroke-width="0.3" />
<line x1="426.07" y1="49.50" x2="426.07" y2="53.10" stroke="#4a4048" stroke-width="0.3" />
<line x1="426.59" y1="49.50" x2="426.59" y2="53.10" stroke="#4a4048" stroke-width="0.3" />
<line x1="427.13" y1="49.50" x2="427.13" y2="53.10" stroke="#4a4048" stroke-width="0.3" />
<line x1="427.68" y1="49.50" x2="427.68" y2="53.10" stroke="#4a4048" stroke-width="0.3" />
<line x1="428.25" y1="49.50" x2="428.25" y2="53.10" stroke="#4a4048" stroke-width="0.3" />
<line x1="428.83" y1="49.50" x2="428.83" y2="53.10" stroke="#4a4048" stroke-width="0.3" />
<line x1="429.43" y1="49.50" x2="429.43" y2="53.10" stroke="#4a4048" stroke-width="0.3" />
<line x1="430.05" y1="49.50" x2="430.05" y2="53.10" stroke="#4a4048" stroke-width="0.3" />
<line x1="430.69" y1="49.50" x2="430.69" y2="53.10" stroke="#4a4048" stroke-width="0.3" />
<line x1="431.34" y1="49.50" x2="431.34" y2="53.10" stroke="#4a4048" stroke-width="0.3" />
<line x1="432.00" y1="49.50" x2="432.00" y2="53.10" stroke="#4a4048" stroke-width="0.3" />
<line x1="432.69" y1="49.50" x2="432.69" y2="53.10" stroke="#4a4048" stroke-width="0.3" />
<line x1="433.38" y1="49.50" x2="433.38" y2="53.10" stroke="#9a8088" stroke-width="0.3" />
<line x1="434.10" y1="49.50" x2="434.10" y2="53.10" stroke="#9a8088" stroke-width="0.3" />
<line x1="434.83" y1="49.50" x2="434.83" y2="53.10" stroke="#9a8088" stroke-width="0.3" />
<line x1="435.57" y1="49.50" x2="435.57" y2="53.10" stroke="#9a8088" stroke-width="0.3" />
<line x1="436.33" y1="49.50" x2="436.33" y2="53.10" stroke="#9a8088" stroke-width="0.3" />
<line x1="437.10" y1="49.50" x2="437.10" y2="53.10" stroke="#9a8088" stroke-width="0.3" />
<line x1="437.89" y1="49.50" x2="437.89" y2="53.10" stroke="#9a8088" stroke-width="0.3" />
<line x1="438.69" y1="49.50" x2="438.69" y2="53.10" stroke="#9a8088" stroke-width="0.3" />
<line x1="439.51" y1="49.50" x2="439.51" y2="53.10" stroke="#9a8088" stroke-width="0.3" />
<line x1="440.34" y1="49.50" x2="440.34" y2="53.10" stroke="#9a8088" stroke-width="0.3" />
<line x1="441.19" y1="49.50" x2="441.19" y2="53.10" stroke="#9a8088" stroke-width="0.3" />
<line x1="442.05" y1="49.50" x2="442.05" y2="53.10" stroke="#9a8088" stroke-width="0.3" />
<line x1="442.93" y1="49.50" x2="442.93" y2="53.10" stroke="#9a8088" stroke-width="0.3" />
<line x1="443.81" y1="49.50" x2="443.81" y2="53.10" stroke="#9a8088" stroke-width="0.3" />
<line x1="444.72" y1="49.50" x2="444.72" y2="53.10" stroke="#9a8088" stroke-width="0.3" />
<line x1="445.63" y1="49.50" x2="445.63" y2="53.10" stroke="#c8bcc0" stroke-width="0.3" />
<line x1="446.56" y1="49.50" x2="446.56" y2="53.10" stroke="#c8bcc0" stroke-width="0.3" />
<line x1="447.51" y1="49.50" x2="447.51" y2="53.10" stroke="#c8bcc0" stroke-width="0.3" />
<line x1="448.47" y1="49.50" x2="448.47" y2="53.10" stroke="#c8bcc0" stroke-width="0.3" />
<line x1="449.44" y1="49.50" x2="449.44" y2="53.10" stroke="#c8bcc0" stroke-width="0.3" />
<line x1="450.42" y1="49.50" x2="450.42" y2="53.10" stroke="#c8bcc0" stroke-width="0.3" />
<line x1="451.42" y1="49.50" x2="451.42" y2="53.10" stroke="#c8bcc0" stroke-width="0.3" />
<line x1="452.43" y1="49.50" x2="452.43" y2="53.10" stroke="#c8bcc0" stroke-width="0.3" />
<line x1="453.46" y1="49.50" x2="453.46" y2="53.10" stroke="#c8bcc0" stroke-width="0.3" />
<line x1="454.49" y1="49.50" x2="454.49" y2="53.10" stroke="#c8bcc0" stroke-width="0.3" />
<line x1="455.54" y1="49.50" x2="455.54" y2="53.10" stroke="#c8bcc0" stroke-width="0.3" />
<line x1="456.61" y1="49.50" x2="456.61" y2="53.10" stroke="#c8bcc0" stroke-width="0.3" />
<line x1="457.68" y1="49.50" x2="457.68" y2="53.10" stroke="#c8bcc0" stroke-width="0.3" />
<line x1="458.77" y1="49.50" x2="458.77" y2="53.10" stroke="#c8bcc0" stroke-width="0.3" />
<line x1="459.88" y1="49.50" x2="459.88" y2="53.10" stroke="#c8bcc0" stroke-width="0.3" />
<line x1="460.99" y1="49.50" x2="460.99" y2="53.10" stroke="#c8bcc0" stroke-width="0.3" />
<line x1="462.12" y1="49.50" x2="462.12" y2="53.10" stroke="#a8acc8" stroke-width="0.3" />
<line x1="463.26" y1="49.50" x2="463.26" y2="53.10" stroke="#a8acc8" stroke-width="0.3" />
<line x1="464.41" y1="49.50" x2="464.41" y2="53.10" stroke="#a8acc8" stroke-width="0.3" />
<line x1="465.58" y1="49.50" x2="465.58" y2="53.10" stroke="#a8acc8" stroke-width="0.3" />
<line x1="466.75" y1="49.50" x2="466.75" y2="53.10" stroke="#a8acc8" stroke-width="0.3" />
<line x1="467.94" y1="49.50" x2="467.94" y2="53.10" stroke="#a8acc8" stroke-width="0.3" />
<line x1="469.15" y1="49.50" x2="469.15" y2="53.10" stroke="#a8acc8" stroke-width="0.3" />
<line x1="470.36" y1="49.50" x2="470.36" y2="53.10" stroke="#a8acc8" stroke-width="0.3" />
<line x1="471.59" y1="49.50" x2="471.59" y2="53.10" stroke="#a8acc8" stroke-width="0.3" />
<line x1="472.83" y1="49.50" x2="472.83" y2="53.10" stroke="#a8acc8" stroke-width="0.3" />
<line x1="474.08" y1="49.50" x2="474.08" y2="53.10" stroke="#a8acc8" stroke-width="0.3" />
<line x1="475.34" y1="49.50" x2="475.34" y2="53.10" stroke="#a8acc8" stroke-width="0.3" />
<line x1="476.61" y1="49.50" x2="476.61" y2="53.10" stroke="#a8acc8" stroke-width="0.3" />
<line x1="477.90" y1="49.50" x2="477.90" y2="53.10" stroke="#a8acc8" stroke-width="0.3" />
<line x1="479.20" y1="49.50" x2="479.20" y2="53.10" stroke="#a8acc8" stroke-width="0.3" />
<line x1="480.51" y1="49.50" x2="480.51" y2="53.10" stroke="#a8acc8" stroke-width="0.3" />
<line x1="481.83" y1="49.50" x2="481.83" y2="53.10" stroke="#a8acc8" stroke-width="0.3" />
<line x1="483.17" y1="49.50" x2="483.17" y2="53.10" stroke="#a8acc8" stroke-width="0.3" />
<line x1="484.51" y1="49.50" x2="484.51" y2="53.10" stroke="#a8acc8" stroke-width="0.3" />
<line x1="485.87" y1="49.50" x2="485.87" y2="53.10" stroke="#a8acc8" stroke-width="0.3" />
<line x1="487.24" y1="49.50" x2="487.24" y2="53.10" stroke="#a8acc8" stroke-width="0.3" />
<line x1="488.62" y1="49.50" x2="488.62" y2="53.10" stroke="#a8acc8" stroke-width="0.3" />
<line x1="490.02" y1="49.50" x2="490.02" y2="53.10" stroke="#a8acc8" stroke-width="0.3" />
<line x1="491.42" y1="49.50" x2="491.42" y2="53.10" stroke="#a8acc8" stroke-width="0.3" />
<line x1="492.83" y1="49.50" x2="492.83" y2="53.10" stroke="#a8acc8" stroke-width="0.3" />
<line x1="494.26" y1="49.50" x2="494.26" y2="53.10" stroke="#a8acc8" stroke-width="0.3" />
<line x1="495.70" y1="49.50" x2="495.70" y2="53.10" stroke="#a8acc8" stroke-width="0.3" />
<rect x="419.30" y="53.10" width="77.20" height="1.00" fill="url(#bc1)" />
<text x="420.70" y="58.90" font-size="4.6" fill="#c8202a" textLength="24" lengthAdjust="spacingAndGlyphs" stroke="#c8202a" stroke-width="0.14" >Up in Ara-C–</text>
<text x="420.70" y="62.70" font-size="4.6" fill="#c8202a" stroke="#c8202a" stroke-width="0.14" >treated cells</text>
<text x="469.30" y="58.90" font-size="4.6" fill="#333b8c" textLength="28" lengthAdjust="spacingAndGlyphs" stroke="#333b8c" stroke-width="0.14" >Down in Ara-C–</text>
<text x="469.30" y="62.70" font-size="4.6" fill="#333b8c" stroke="#333b8c" stroke-width="0.14" >treated cells</text>
<text x="408.30" y="70.00" font-size="6.0" font-weight="bold" textLength="94.3" lengthAdjust="spacingAndGlyphs" >GILMORE_CORE_NFKB_PATHWAY</text>
<line x1="418.40" y1="76.50" x2="418.40" y2="109.20" stroke="#231f20" stroke-width="0.4" />
<line x1="417.20" y1="77.90" x2="418.40" y2="77.90" stroke="#231f20" stroke-width="0.35" />
<text x="415.20" y="79.50" font-size="4.6" text-anchor="end" stroke="#231f20" stroke-width="0.14" >0.6</text>
<line x1="417.20" y1="85.60" x2="418.40" y2="85.60" stroke="#231f20" stroke-width="0.35" />
<text x="415.20" y="87.20" font-size="4.6" text-anchor="end" stroke="#231f20" stroke-width="0.14" >0.5</text>
<line x1="417.20" y1="93.50" x2="418.40" y2="93.50" stroke="#231f20" stroke-width="0.35" />
<text x="415.20" y="95.10" font-size="4.6" text-anchor="end" stroke="#231f20" stroke-width="0.14" >0.4</text>
<line x1="417.20" y1="101.20" x2="418.40" y2="101.20" stroke="#231f20" stroke-width="0.35" />
<text x="415.20" y="102.80" font-size="4.6" text-anchor="end" stroke="#231f20" stroke-width="0.14" >0.3</text>
<line x1="417.20" y1="108.90" x2="418.40" y2="108.90" stroke="#231f20" stroke-width="0.35" />
<text x="415.20" y="110.50" font-size="4.6" text-anchor="end" stroke="#231f20" stroke-width="0.14" >0.2</text>
<text x="407.10" y="93.20" font-size="4.6" text-anchor="middle" textLength="33" lengthAdjust="spacingAndGlyphs" stroke="#231f20" stroke-width="0.14" transform="rotate(-90 407.10 93.20)" >Enrichment score</text>
<path d="M421.2 108.6 C423 101 425.5 94 427.5 89.7 C429 86 430.5 83.5 431.4 81.8 L432 72.3 C435 72.2 438 73 441.7 73.1 C443 72.8 444 72.8 445 73.5 L447.2 74.7 C452 78 458 84.5 463.7 89.7 C470 95.5 476 100.5 481 103.9 C486 107.5 491 110.5 495.3 112.5" fill="none" stroke="#5bb082" stroke-width="0.6" />
<text x="432.20" y="87.00" font-size="4.8" stroke="#231f20" stroke-width="0.14" >NES = 1.38</text>
<text x="432.20" y="92.20" font-size="4.8" stroke="#231f20" stroke-width="0.14" >FDR = 0.05</text>
<defs><linearGradient id="bc2" x1="0" x2="1"><stop offset="0" stop-color="#c03050"/><stop offset="0.25" stop-color="#d890a0"/><stop offset="0.45" stop-color="#f4eef0"/><stop offset="0.6" stop-color="#c8cce4"/><stop offset="1" stop-color="#3a4a90"/></linearGradient></defs>
<line x1="422.00" y1="114.60" x2="422.00" y2="116.60" stroke="#d8a0b0" stroke-width="0.35" />
<line x1="424.00" y1="114.60" x2="424.00" y2="116.60" stroke="#d8a0b0" stroke-width="0.35" />
<line x1="426.00" y1="114.60" x2="426.00" y2="116.60" stroke="#d8a0b0" stroke-width="0.35" />
<line x1="428.00" y1="114.60" x2="428.00" y2="116.60" stroke="#d8a0b0" stroke-width="0.35" />
<line x1="430.00" y1="114.60" x2="430.00" y2="116.60" stroke="#d8a0b0" stroke-width="0.35" />
<line x1="433.00" y1="114.60" x2="433.00" y2="116.60" stroke="#d8a0b0" stroke-width="0.35" />
<line x1="436.00" y1="114.60" x2="436.00" y2="116.60" stroke="#d8a0b0" stroke-width="0.35" />
<line x1="440.00" y1="114.60" x2="440.00" y2="116.60" stroke="#d8a0b0" stroke-width="0.35" />
<line x1="443.00" y1="114.60" x2="443.00" y2="116.60" stroke="#d8a0b0" stroke-width="0.35" />
<line x1="447.00" y1="114.60" x2="447.00" y2="116.60" stroke="#d8a0b0" stroke-width="0.35" />
<line x1="452.00" y1="114.60" x2="452.00" y2="116.60" stroke="#d8a0b0" stroke-width="0.35" />
<line x1="458.00" y1="114.60" x2="458.00" y2="116.60" stroke="#d8a0b0" stroke-width="0.35" />
<line x1="476.00" y1="114.60" x2="476.00" y2="116.60" stroke="#b0b4d0" stroke-width="0.35" />
<line x1="481.00" y1="114.60" x2="481.00" y2="116.60" stroke="#b0b4d0" stroke-width="0.35" />
<line x1="486.00" y1="114.60" x2="486.00" y2="116.60" stroke="#b0b4d0" stroke-width="0.35" />
<rect x="421.30" y="117.90" width="75.00" height="1.40" fill="url(#bc2)" />
<text x="421.50" y="123.70" font-size="4.6" fill="#c8202a" textLength="24" lengthAdjust="spacingAndGlyphs" stroke="#c8202a" stroke-width="0.14" >Up in Ara-C–</text>
<text x="421.50" y="128.00" font-size="4.6" fill="#c8202a" stroke="#c8202a" stroke-width="0.14" >treated cells</text>
<text x="472.00" y="123.70" font-size="4.6" fill="#333b8c" textLength="25.5" lengthAdjust="spacingAndGlyphs" stroke="#333b8c" stroke-width="0.14" >Down in Ara-C–</text>
<text x="472.00" y="128.00" font-size="4.6" fill="#333b8c" stroke="#333b8c" stroke-width="0.14" >treated cells</text>
<line x1="418.10" y1="120.50" x2="418.10" y2="143.60" stroke="#231f20" stroke-width="0.4" />
<line x1="418.10" y1="143.20" x2="497.00" y2="143.20" stroke="#9a9a9a" stroke-width="0.4" />
<line x1="417.00" y1="120.70" x2="418.10" y2="120.70" stroke="#231f20" stroke-width="0.35" />
<text x="414.30" y="120.70" font-size="4.2" text-anchor="middle" stroke="#231f20" stroke-width="0.14" transform="rotate(-90 414.30 120.70)" dominant-baseline="central">3</text>
<line x1="417.00" y1="125.00" x2="418.10" y2="125.00" stroke="#231f20" stroke-width="0.35" />
<text x="414.30" y="125.00" font-size="4.2" text-anchor="middle" stroke="#231f20" stroke-width="0.14" transform="rotate(-90 414.30 125.00)" dominant-baseline="central">2</text>
<line x1="417.00" y1="129.30" x2="418.10" y2="129.30" stroke="#231f20" stroke-width="0.35" />
<text x="414.30" y="129.30" font-size="4.2" text-anchor="middle" stroke="#231f20" stroke-width="0.14" transform="rotate(-90 414.30 129.30)" dominant-baseline="central">1</text>
<line x1="417.00" y1="134.30" x2="418.10" y2="134.30" stroke="#231f20" stroke-width="0.35" />
<text x="414.30" y="134.30" font-size="4.2" text-anchor="middle" stroke="#231f20" stroke-width="0.14" transform="rotate(-90 414.30 134.30)" dominant-baseline="central">0</text>
<line x1="417.00" y1="138.90" x2="418.10" y2="138.90" stroke="#231f20" stroke-width="0.35" />
<text x="414.30" y="138.90" font-size="4.2" text-anchor="middle" stroke="#231f20" stroke-width="0.14" transform="rotate(-90 414.30 138.90)" dominant-baseline="central">−1</text>
<line x1="417.00" y1="143.20" x2="418.10" y2="143.20" stroke="#231f20" stroke-width="0.35" />
<text x="414.30" y="143.20" font-size="4.2" text-anchor="middle" stroke="#231f20" stroke-width="0.14" transform="rotate(-90 414.30 143.20)" dominant-baseline="central">−2</text>
<path d="M421.3 129.2 C423 131.5 428 133 440 133.8 L470 134.3 C480 134.6 488 135.5 496.4 137.8 L496.4 134.3 L421.3 134.3 Z" fill="#a0a0a0" stroke="none" stroke-width="0.5" />
<line x1="421.30" y1="134.30" x2="496.40" y2="134.30" stroke="#d0d0d0" stroke-width="0.3" />
<text x="408.40" y="133.00" font-size="4.4" text-anchor="middle" stroke="#231f20" stroke-width="0.14" transform="rotate(-90 408.40 133.00)" >Log₂(Ara-C/control)</text>
<text x="421.20" y="148.90" font-size="4.2" text-anchor="middle" stroke="#231f20" stroke-width="0.14" >1</text>
<text x="436.50" y="148.90" font-size="4.2" text-anchor="middle" stroke="#231f20" stroke-width="0.14" >5,000</text>
<text x="451.60" y="148.90" font-size="4.2" text-anchor="middle" stroke="#231f20" stroke-width="0.14" >10,000</text>
<text x="466.50" y="148.90" font-size="4.2" text-anchor="middle" stroke="#231f20" stroke-width="0.14" >15,000</text>
<text x="481.10" y="148.90" font-size="4.2" text-anchor="middle" stroke="#231f20" stroke-width="0.14" >20,000</text>
<text x="457.50" y="154.80" font-size="4.6" text-anchor="middle" textLength="65.4" lengthAdjust="spacingAndGlyphs" stroke="#231f20" stroke-width="0.14" >Rank of genes in ordered data set</text>
<text x="396.30" y="168.90" font-size="10.5" font-weight="bold" fill="#000" >D</text>
<text x="434.60" y="172.40" font-size="5.0" text-anchor="middle" stroke="#231f20" stroke-width="0.14" >Chemotherapy</text>
<defs><radialGradient id="glow"><stop offset="0" stop-color="#f7b733"/><stop offset="0.6" stop-color="#fbd68a" stop-opacity="0.7"/><stop offset="1" stop-color="#fff" stop-opacity="0"/></radialGradient></defs>
<circle cx="433.00" cy="190.50" r="6.50" fill="url(#glow)" />
<ellipse cx="419.5" cy="190.5" rx="6" ry="3.2" fill="#fafbfd" stroke="#9aa6c0" stroke-width="0.5"/>
<ellipse cx="444.5" cy="190.5" rx="6" ry="3.2" fill="#fafbfd" stroke="#9aa6c0" stroke-width="0.5"/>
<path d="M413.5 190.5 C417 187 422 187 426 190.5 C430 194 436 194 440 190.5 C444 187 448 187 450.5 190.5" fill="none" stroke="#b8bcc8" stroke-width="0.5" />
<path d="M413.5 190.5 C417 194 422 194 426 190.5 C430 187 436 187 440 190.5 C444 194 448 194 450.5 190.5" fill="none" stroke="#c8ccd6" stroke-width="0.5" />
<path d="M439.2 175.2 L442.4 176.6 L436.2 185.6 L433.6 188.6 L434.0 185.2 Z" fill="#e9c21c" stroke="#a88a10" stroke-width="0.35" />
<line x1="433.50" y1="197.50" x2="433.50" y2="215.00" stroke="#7dbb84" stroke-width="0.9" />
<path d="M431.9 214.6 L435.1 214.6 L433.5 217.0 Z" fill="#7dbb84" stroke="none" stroke-width="0.5" />
<text x="437.20" y="202.60" font-size="5.0" stroke="#231f20" stroke-width="0.14" >DNA</text>
<text x="437.20" y="209.00" font-size="5.0" stroke="#231f20" stroke-width="0.14" >damage</text>
<text x="437.20" y="215.40" font-size="5.0" stroke="#231f20" stroke-width="0.14" >response</text>
<rect x="425.5" y="218.1" width="19.9" height="8.8" rx="2" fill="#cfe6f2"/>
<text x="435.45" y="224.40" font-size="5.0" text-anchor="middle" fill="#33475b" stroke="#33475b" stroke-width="0.14" >ATR</text>
<line x1="446.40" y1="222.50" x2="464.20" y2="222.50" stroke="#3c3f8c" stroke-width="0.9" />
<line x1="446.40" y1="219.80" x2="446.40" y2="225.20" stroke="#3c3f8c" stroke-width="0.9" />
<text x="465.20" y="224.30" font-size="5.0" fill="#3c3f8c" stroke="#3c3f8c" stroke-width="0.14" >ATRi</text>
<line x1="446.20" y1="225.60" x2="474.50" y2="244.30" stroke="#2e3480" stroke-width="0.9" />
<path d="M477.2 246 L472.3 245.3 L474.8 241.6 Z" fill="#2e3480" stroke="none" stroke-width="0.5" />
<text x="463.80" y="232.60" font-size="4.3" text-anchor="middle" fill="#3c3f8c" stroke="#3c3f8c" stroke-width="0.14" transform="rotate(34 463.80 232.60)" >+ATRi</text>
<line x1="434.20" y1="230.00" x2="434.20" y2="249.00" stroke="#7dbb84" stroke-width="0.9" />
<path d="M432.59999999999997 248.6 L435.8 248.6 L434.2 251 Z" fill="#7dbb84" stroke="none" stroke-width="0.5" />
<text x="437.60" y="240.00" font-size="5.0" stroke="#231f20" stroke-width="0.14" >NF-κB</text>
<rect x="418" y="251.3" width="32.3" height="11" rx="3" fill="#1d6b3c"/>
<text x="434.15" y="256.20" font-size="4.9" text-anchor="middle" fill="#e8f4ea" textLength="27.5" lengthAdjust="spacingAndGlyphs" stroke="#e8f4ea" stroke-width="0.14" >Senescence/</text>
<text x="434.15" y="261.00" font-size="4.9" text-anchor="middle" fill="#e8f4ea" stroke="#e8f4ea" stroke-width="0.14" >SASP</text>
<line x1="434.20" y1="262.30" x2="434.20" y2="278.00" stroke="#7dbb84" stroke-width="0.9" />
<path d="M432.59999999999997 277.6 L435.8 277.6 L434.2 280 Z" fill="#7dbb84" stroke="none" stroke-width="0.5" />
<text x="433.50" y="287.20" font-size="5.0" text-anchor="middle" stroke="#231f20" stroke-width="0.14" >Survival</text>
<path d="M495.67 249.60 L496.42 250.96 L495.63 252.15 L495.72 253.64 L495.04 254.86 L493.02 254.82 L492.05 255.45 L492.13 258.10 L490.25 257.14 L489.03 257.36 L487.80 259.59 L486.47 258.01 L484.85 258.68 L483.93 257.20 L482.52 256.87 L482.41 254.99 L480.54 254.88 L479.22 253.97 L479.56 252.28 L478.64 251.05 L478.72 249.60 L480.51 248.45 L478.93 246.72 L479.91 245.58 L481.29 244.87 L482.65 244.45 L482.14 241.81 L483.93 242.01 L484.95 240.84 L486.29 240.06 L487.80 240.40 L489.33 239.94 L490.37 241.70 L492.09 241.19 L492.76 242.77 L494.74 242.66 L495.62 243.92 L494.46 246.21 L495.01 247.26 L495.51 248.38 Z" fill="#c48a8a" stroke="none" stroke-width="0.5" />
<circle cx="487.80" cy="249.60" r="6.00" fill="#b77474" opacity="0.6"/>
<circle cx="490.78" cy="248.94" r="0.94" fill="#d8a8a8" />
<circle cx="482.67" cy="252.37" r="0.90" fill="#9a4c50" />
<circle cx="484.28" cy="247.52" r="1.13" fill="#9a4c50" />
<circle cx="487.97" cy="249.50" r="0.70" fill="#9a4c50" />
<circle cx="487.26" cy="248.60" r="1.10" fill="#9a4c50" />
<circle cx="491.09" cy="247.35" r="1.00" fill="#a05a5a" />
<circle cx="483.16" cy="244.47" r="0.69" fill="#a05a5a" />
<circle cx="493.31" cy="251.92" r="1.19" fill="#a05a5a" />
<circle cx="487.54" cy="249.99" r="1.13" fill="#a05a5a" />
<circle cx="486.33" cy="254.78" r="1.11" fill="#a05a5a" />
<circle cx="483.59" cy="246.33" r="0.76" fill="#9a4c50" />
<circle cx="484.80" cy="254.99" r="1.19" fill="#9a4c50" />
<circle cx="487.82" cy="249.85" r="0.51" fill="#a05a5a" />
<circle cx="487.62" cy="249.47" r="0.64" fill="#d8a8a8" />
<circle cx="487.32" cy="251.38" r="0.98" fill="#d8a8a8" />
<circle cx="485.18" cy="255.78" r="1.13" fill="#d8a8a8" />
<circle cx="483.45" cy="253.86" r="0.77" fill="#9a4c50" />
<circle cx="487.50" cy="248.95" r="1.18" fill="#9a4c50" />
<circle cx="487.21" cy="254.00" r="1.00" fill="#d8a8a8" />
<circle cx="486.13" cy="250.29" r="0.71" fill="#d8a8a8" />
<circle cx="490.70" cy="249.81" r="0.91" fill="#a05a5a" />
<circle cx="484.86" cy="252.49" r="0.59" fill="#9a4c50" />
<circle cx="485.53" cy="247.26" r="0.98" fill="#d8a8a8" />
<circle cx="486.29" cy="248.37" r="0.84" fill="#9a4c50" />
<circle cx="492.19" cy="251.36" r="1.17" fill="#d8a8a8" />
<circle cx="486.35" cy="248.09" r="0.92" fill="#a05a5a" />
<circle cx="486.36" cy="251.25" r="0.76" fill="#9a4c50" />
<circle cx="487.31" cy="255.09" r="0.57" fill="#a05a5a" />
<circle cx="492.51" cy="248.74" r="0.59" fill="#9a4c50" />
<circle cx="488.77" cy="255.14" r="0.67" fill="#a05a5a" />
<text x="489.60" y="271.00" font-size="5.0" text-anchor="middle" stroke="#231f20" stroke-width="0.14" >Cell death</text>
<text x="3.60" y="308.20" font-size="10.5" font-weight="bold" fill="#000" >E</text>
<text x="5.90" y="317.60" font-size="6.0" font-weight="bold" textLength="105" lengthAdjust="spacingAndGlyphs" >SALDIVAR_ATR_SUPPRESSED_TARGETS</text>
<line x1="22.90" y1="322.30" x2="22.90" y2="365.00" stroke="#231f20" stroke-width="0.4" />
<line x1="22.10" y1="322.30" x2="102.60" y2="322.30" stroke="#5a6a64" stroke-width="0.4" />
<line x1="21.70" y1="322.80" x2="22.90" y2="322.80" stroke="#231f20" stroke-width="0.35" />
<text x="19.70" y="324.40" font-size="4.6" text-anchor="end" stroke="#231f20" stroke-width="0.14" >0.0</text>
<line x1="21.70" y1="330.30" x2="22.90" y2="330.30" stroke="#231f20" stroke-width="0.35" />
<text x="19.70" y="331.90" font-size="4.6" text-anchor="end" stroke="#231f20" stroke-width="0.14" >−0.1</text>
<line x1="21.70" y1="338.30" x2="22.90" y2="338.30" stroke="#231f20" stroke-width="0.35" />
<text x="19.70" y="339.90" font-size="4.6" text-anchor="end" stroke="#231f20" stroke-width="0.14" >−0.2</text>
<line x1="21.70" y1="346.80" x2="22.90" y2="346.80" stroke="#231f20" stroke-width="0.35" />
<text x="19.70" y="348.40" font-size="4.6" text-anchor="end" stroke="#231f20" stroke-width="0.14" >−0.3</text>
<line x1="21.70" y1="355.40" x2="22.90" y2="355.40" stroke="#231f20" stroke-width="0.35" />
<text x="19.70" y="357.00" font-size="4.6" text-anchor="end" stroke="#231f20" stroke-width="0.14" >−0.4</text>
<line x1="21.70" y1="364.10" x2="22.90" y2="364.10" stroke="#231f20" stroke-width="0.35" />
<text x="19.70" y="365.70" font-size="4.6" text-anchor="end" stroke="#231f20" stroke-width="0.14" >−0.5</text>
<text x="8.60" y="343.30" font-size="4.6" text-anchor="middle" textLength="34.5" lengthAdjust="spacingAndGlyphs" stroke="#231f20" stroke-width="0.14" transform="rotate(-90 8.60 343.30)" >Enrichment score</text>
<path d="M25.9 329.8 C27.5 326 29 322.5 30.7 321.2 C33 321.5 35 323 37 324.3 L81.1 363.7 C83 364.3 86 364.5 89.8 364.5 C90.8 363.5 91.5 363 92.2 362.2 L94.6 357.4 L96.9 352.7 L98.5 346.4 L99.6 333.8 L100.4 319.6" fill="none" stroke="#4a9e7c" stroke-width="0.7" />
<text x="69.00" y="329.60" font-size="5.2" textLength="29.5" lengthAdjust="spacingAndGlyphs" stroke="#231f20" stroke-width="0.14" >NES = –1.51</text>
<text x="69.00" y="334.80" font-size="5.2" stroke="#231f20" stroke-width="0.14" >FDR = 0.02</text>
<defs><linearGradient id="bc3" x1="0" x2="1"><stop offset="0" stop-color="#c02040"/><stop offset="0.22" stop-color="#c84060"/><stop offset="0.3" stop-color="#f0d8dc"/><stop offset="0.48" stop-color="#f4f0f4"/><stop offset="0.52" stop-color="#6a74b0"/><stop offset="1" stop-color="#3a4a98"/></linearGradient></defs>
<line x1="38.00" y1="367.80" x2="38.00" y2="370.00" stroke="#d8a8b4" stroke-width="0.35" />
<line x1="44.00" y1="367.80" x2="44.00" y2="370.00" stroke="#d8a8b4" stroke-width="0.35" />
<line x1="49.00" y1="367.80" x2="49.00" y2="370.00" stroke="#d8a8b4" stroke-width="0.35" />
<line x1="53.00" y1="367.80" x2="53.00" y2="370.00" stroke="#d8a8b4" stroke-width="0.35" />
<line x1="58.00" y1="367.80" x2="58.00" y2="370.00" stroke="#d8a8b4" stroke-width="0.35" />
<line x1="93.00" y1="367.80" x2="93.00" y2="370.00" stroke="#9aa0c8" stroke-width="0.35" />
<line x1="95.00" y1="367.80" x2="95.00" y2="370.00" stroke="#9aa0c8" stroke-width="0.35" />
<line x1="96.50" y1="367.80" x2="96.50" y2="370.00" stroke="#9aa0c8" stroke-width="0.35" />
<line x1="98.00" y1="367.80" x2="98.00" y2="370.00" stroke="#9aa0c8" stroke-width="0.35" />
<line x1="99.50" y1="367.80" x2="99.50" y2="370.00" stroke="#9aa0c8" stroke-width="0.35" />
<line x1="100.50" y1="367.80" x2="100.50" y2="370.00" stroke="#9aa0c8" stroke-width="0.35" />
<rect x="26.00" y="370.70" width="75.00" height="1.40" fill="url(#bc3)" />
<text x="26.90" y="374.90" font-size="4.6" fill="#c8202a" textLength="23.5" lengthAdjust="spacingAndGlyphs" stroke="#c8202a" stroke-width="0.14" >Up in Ara-C–</text>
<text x="26.90" y="379.10" font-size="4.6" fill="#c8202a" stroke="#c8202a" stroke-width="0.14" >treated cells</text>
<text x="76.20" y="374.90" font-size="4.6" fill="#333b8c" textLength="24.5" lengthAdjust="spacingAndGlyphs" stroke="#333b8c" stroke-width="0.14" >Down in Ara-C–</text>
<text x="76.20" y="379.10" font-size="4.6" fill="#333b8c" stroke="#333b8c" stroke-width="0.14" >treated cells</text>
<line x1="22.90" y1="370.70" x2="22.90" y2="394.50" stroke="#231f20" stroke-width="0.4" />
<line x1="21.50" y1="394.80" x2="101.50" y2="394.80" stroke="#9a9a9a" stroke-width="0.4" />
<line x1="21.80" y1="371.90" x2="22.90" y2="371.90" stroke="#231f20" stroke-width="0.35" />
<text x="18.90" y="371.90" font-size="4.2" text-anchor="middle" stroke="#231f20" stroke-width="0.14" transform="rotate(-90 18.90 371.90)" dominant-baseline="central">3</text>
<line x1="21.80" y1="376.60" x2="22.90" y2="376.60" stroke="#231f20" stroke-width="0.35" />
<text x="18.90" y="376.60" font-size="4.2" text-anchor="middle" stroke="#231f20" stroke-width="0.14" transform="rotate(-90 18.90 376.60)" dominant-baseline="central">2</text>
<line x1="21.80" y1="381.20" x2="22.90" y2="381.20" stroke="#231f20" stroke-width="0.35" />
<text x="18.90" y="381.20" font-size="4.2" text-anchor="middle" stroke="#231f20" stroke-width="0.14" transform="rotate(-90 18.90 381.20)" dominant-baseline="central">1</text>
<line x1="21.80" y1="385.80" x2="22.90" y2="385.80" stroke="#231f20" stroke-width="0.35" />
<text x="18.90" y="385.80" font-size="4.2" text-anchor="middle" stroke="#231f20" stroke-width="0.14" transform="rotate(-90 18.90 385.80)" dominant-baseline="central">0</text>
<line x1="21.80" y1="390.50" x2="22.90" y2="390.50" stroke="#231f20" stroke-width="0.35" />
<text x="18.90" y="390.50" font-size="4.2" text-anchor="middle" stroke="#231f20" stroke-width="0.14" transform="rotate(-90 18.90 390.50)" dominant-baseline="central">−1</text>
<line x1="21.80" y1="395.20" x2="22.90" y2="395.20" stroke="#231f20" stroke-width="0.35" />
<text x="18.90" y="395.20" font-size="4.2" text-anchor="middle" stroke="#231f20" stroke-width="0.14" transform="rotate(-90 18.90 395.20)" dominant-baseline="central">−2</text>
<path d="M26 381.8 C28 383.8 33 384.8 45 385.3 L90 385.6 C95 385.8 98.5 386.8 101 389.7 L101 385.6 L26 385.6 Z" fill="#a8a8a8" stroke="none" stroke-width="0.5" />
<text x="9.10" y="384.50" font-size="4.4" text-anchor="middle" stroke="#231f20" stroke-width="0.14" transform="rotate(-90 9.10 384.50)" >Log₂(Ara-C/control)</text>
<text x="25.80" y="400.40" font-size="4.2" text-anchor="middle" stroke="#231f20" stroke-width="0.14" >1</text>
<text x="40.60" y="400.40" font-size="4.2" text-anchor="middle" stroke="#231f20" stroke-width="0.14" >5,000</text>
<text x="55.30" y="400.40" font-size="4.2" text-anchor="middle" stroke="#231f20" stroke-width="0.14" >10,000</text>
<text x="70.20" y="400.40" font-size="4.2" text-anchor="middle" stroke="#231f20" stroke-width="0.14" >15,000</text>
<text x="85.00" y="400.40" font-size="4.2" text-anchor="middle" stroke="#231f20" stroke-width="0.14" >20,000</text>
<text x="61.90" y="407.90" font-size="4.6" text-anchor="middle" textLength="65.4" lengthAdjust="spacingAndGlyphs" stroke="#231f20" stroke-width="0.14" >Rank of genes in ordered data set</text>
<text x="4.20" y="419.30" font-size="10.5" font-weight="bold" fill="#000" >F</text>
<defs><filter id="bl" x="-20%" y="-50%" width="140%" height="200%"><feGaussianBlur stdDeviation="0.45"/></filter></defs>
<rect x="10.00" y="437.50" width="43.40" height="12.00" fill="#f7f7f7" stroke="#333" stroke-width="0.75"/>
<rect x="10.00" y="452.30" width="43.40" height="12.20" fill="#f7f7f7" stroke="#333" stroke-width="0.75"/>
<rect x="10.00" y="469.50" width="43.40" height="12.10" fill="#f7f7f7" stroke="#333" stroke-width="0.75"/>
<g filter="url(#bl)">
<ellipse cx="31.30" cy="442.20" rx="6.25" ry="1.50" fill="#777" opacity="0.75"/>
<ellipse cx="31.30" cy="445.00" rx="7.00" ry="2.00" fill="#262626" opacity="1.0"/>
<ellipse cx="45.80" cy="445.40" rx="5.50" ry="1.30" fill="#3a3a3a" opacity="1.0"/>
<ellipse cx="18.10" cy="459.90" rx="6.70" ry="1.70" fill="#181818" opacity="1.0"/>
<ellipse cx="32.20" cy="460.00" rx="6.00" ry="1.60" fill="#202020" opacity="1.0"/>
<ellipse cx="45.60" cy="459.90" rx="5.80" ry="1.60" fill="#181818" opacity="1.0"/>
<rect x="11.50" y="455.20" width="40.40" height="1.00" fill="#bbb" opacity="0.7"/>
<path d="M10.80 473.6 C20.00 473.4 28.00 474.6 34.00 474.3 C40.00 474.0 46.00 475.0 52.60 474.4 L52.60 477.6 C44.00 478.0 38.00 477.2 32.00 477.6 C26.00 477.9 19.00 477.0 10.80 477.0 Z" fill="#262626" stroke="none" stroke-width="0.5" />
</g>
<rect x="11.00" y="478.60" width="41.40" height="0.80" fill="#ddd" />
<text x="31.70" y="487.20" font-size="5.2" text-anchor="middle" stroke="#231f20" stroke-width="0.14" >AML2920</text>
<text x="16.20" y="435.40" font-size="5.3" fill="#1a1a1a" textLength="22.2" lengthAdjust="spacingAndGlyphs" stroke="#1a1a1a" stroke-width="0.14" transform="rotate(-42 16.20 435.40)" >Untreated</text>
<text x="31.50" y="435.60" font-size="5.3" fill="#1a1a1a" textLength="13.0" lengthAdjust="spacingAndGlyphs" stroke="#1a1a1a" stroke-width="0.14" transform="rotate(-42 31.50 435.60)" >Ara-C</text>
<text x="45.60" y="435.60" font-size="5.3" fill="#1a1a1a" textLength="25.8" lengthAdjust="spacingAndGlyphs" stroke="#1a1a1a" stroke-width="0.14" transform="rotate(-42 45.60 435.60)" >Ara-C+ATRi</text>
<rect x="58.50" y="437.50" width="43.40" height="12.00" fill="#f7f7f7" stroke="#333" stroke-width="0.75"/>
<rect x="58.50" y="452.30" width="43.40" height="12.20" fill="#f7f7f7" stroke="#333" stroke-width="0.75"/>
<rect x="58.50" y="469.50" width="43.40" height="12.10" fill="#f7f7f7" stroke="#333" stroke-width="0.75"/>
<g filter="url(#bl)">
<ellipse cx="79.80" cy="442.20" rx="6.25" ry="1.50" fill="#777" opacity="0.75"/>
<ellipse cx="79.80" cy="445.00" rx="7.00" ry="2.00" fill="#262626" opacity="1.0"/>
<ellipse cx="94.30" cy="445.40" rx="5.50" ry="1.30" fill="#262626" opacity="1.0"/>
<ellipse cx="66.60" cy="459.90" rx="6.70" ry="1.70" fill="#181818" opacity="1.0"/>
<ellipse cx="80.70" cy="460.00" rx="6.00" ry="1.60" fill="#555" opacity="1.0"/>
<ellipse cx="94.10" cy="459.90" rx="5.80" ry="1.60" fill="#444" opacity="1.0"/>
<rect x="60.00" y="455.20" width="40.40" height="1.00" fill="#bbb" opacity="0.7"/>
<path d="M59.30 473.6 C68.50 473.4 76.50 474.6 82.50 474.3 C88.50 474.0 94.50 475.0 101.10 474.4 L101.10 477.6 C92.50 478.0 86.50 477.2 80.50 477.6 C74.50 477.9 67.50 477.0 59.30 477.0 Z" fill="#262626" stroke="none" stroke-width="0.5" />
</g>
<rect x="59.50" y="478.60" width="41.40" height="0.80" fill="#ddd" />
<text x="80.20" y="487.20" font-size="5.2" text-anchor="middle" stroke="#231f20" stroke-width="0.14" >AML1566</text>
<text x="64.70" y="435.40" font-size="5.3" fill="#1a1a1a" textLength="22.2" lengthAdjust="spacingAndGlyphs" stroke="#1a1a1a" stroke-width="0.14" transform="rotate(-42 64.70 435.40)" >Untreated</text>
<text x="80.00" y="435.60" font-size="5.3" fill="#1a1a1a" textLength="13.0" lengthAdjust="spacingAndGlyphs" stroke="#1a1a1a" stroke-width="0.14" transform="rotate(-42 80.00 435.60)" >Ara-C</text>
<text x="94.10" y="435.60" font-size="5.3" fill="#1a1a1a" textLength="25.8" lengthAdjust="spacingAndGlyphs" stroke="#1a1a1a" stroke-width="0.14" transform="rotate(-42 94.10 435.60)" >Ara-C+ATRi</text>
<text x="102.90" y="444.90" font-size="5.4" textLength="30.8" lengthAdjust="spacingAndGlyphs" stroke="#231f20" stroke-width="0.14" >CHK1-pS345</text>
<text x="102.90" y="460.70" font-size="5.4" textLength="14.5" lengthAdjust="spacingAndGlyphs" stroke="#231f20" stroke-width="0.14" >CHK1</text>
<text x="102.90" y="476.20" font-size="5.4" textLength="14.5" lengthAdjust="spacingAndGlyphs" stroke="#231f20" stroke-width="0.14" >β-ACT</text>
<text x="146.60" y="308.60" font-size="10.5" font-weight="bold" fill="#000" >G</text>
<text x="202.05" y="317.60" font-size="5.6" text-anchor="middle" stroke="#231f20" stroke-width="0.14" >AML2920</text>
<rect x="156.20" y="320.40" width="91.70" height="67.00" fill="#fff" stroke="#777" stroke-width="0.4"/>
<path d="M156.70 387.00 L156.70 387.00 L157.27 387.00 L157.83 387.00 L158.40 387.00 L158.97 387.00 L159.53 387.00 L160.10 387.00 L160.67 386.99 L161.23 386.99 L161.80 386.99 L162.37 386.99 L162.94 386.99 L163.50 386.99 L164.07 386.99 L164.64 386.98 L165.20 386.98 L165.77 386.98 L166.34 386.98 L166.90 386.97 L167.47 386.97 L168.04 386.96 L168.60 386.96 L169.17 386.95 L169.74 386.95 L170.30 386.94 L170.87 386.93 L171.44 386.92 L172.01 386.91 L172.57 386.90 L173.14 386.88 L173.71 386.87 L174.27 386.85 L174.84 386.83 L175.41 386.81 L175.97 386.79 L176.54 386.76 L177.11 386.73 L177.67 386.70 L178.24 386.66 L178.81 386.63 L179.38 386.58 L179.94 386.54 L180.51 386.49 L181.08 386.43 L181.64 386.37 L182.21 386.31 L182.78 386.23 L183.34 386.16 L183.91 386.07 L184.48 385.98 L185.04 385.89 L185.61 385.78 L186.18 385.67 L186.74 385.55 L187.31 385.42 L187.88 385.29 L188.44 385.14 L189.01 384.99 L189.58 384.83 L190.15 384.66 L190.71 384.48 L191.28 384.28 L191.85 384.08 L192.41 383.87 L192.98 383.65 L193.55 383.42 L194.11 383.18 L194.68 382.94 L195.25 382.68 L195.81 382.41 L196.38 382.13 L196.95 381.85 L197.51 381.55 L198.08 381.25 L198.65 380.93 L199.22 380.60 L199.78 380.25 L200.35 379.89 L200.92 379.49 L201.48 379.06 L202.05 378.59 L202.62 378.05 L203.18 377.44 L203.75 376.72 L204.32 375.88 L204.88 374.88 L205.45 373.69 L206.02 372.27 L206.58 370.58 L207.15 368.60 L207.72 366.30 L208.29 363.66 L208.85 360.67 L209.42 357.36 L209.99 353.73 L210.55 349.86 L211.12 345.82 L211.69 341.70 L212.25 337.62 L212.82 333.71 L213.39 330.09 L213.95 326.92 L214.52 324.31 L215.09 322.37 L215.66 321.18 L216.22 320.80 L216.79 321.19 L217.36 322.30 L217.92 324.08 L218.49 326.49 L219.06 329.44 L219.62 332.85 L220.19 336.61 L220.76 340.63 L221.32 344.80 L221.89 349.01 L222.46 353.17 L223.02 357.21 L223.59 361.06 L224.16 364.65 L224.72 367.96 L225.29 370.96 L225.86 373.63 L226.43 375.98 L226.99 378.02 L227.56 379.76 L228.13 381.22 L228.69 382.44 L229.26 383.45 L229.83 384.26 L230.39 384.91 L230.96 385.42 L231.53 385.82 L232.09 386.13 L232.66 386.36 L233.23 386.54 L233.80 386.67 L234.36 386.77 L234.93 386.84 L235.50 386.89 L236.06 386.92 L236.63 386.95 L237.20 386.97 L237.76 386.98 L238.33 386.99 L238.90 386.99 L239.46 386.99 L240.03 387.00 L240.60 387.00 L241.16 387.00 L241.73 387.00 L242.30 387.00 L242.87 387.00 L243.43 387.00 L244.00 387.00 L244.57 387.00 L245.13 387.00 L245.70 387.00 L246.27 387.00 L246.83 387.00 L247.40 387.00 L247.40 387.00 Z" fill="#e41e26" stroke="none" stroke-width="0.5" />
<path d="M156.70 387.00 L156.70 386.83 L157.27 386.82 L157.83 386.79 L158.40 386.77 L158.97 386.75 L159.53 386.72 L160.10 386.69 L160.67 386.65 L161.23 386.62 L161.80 386.58 L162.37 386.53 L162.94 386.49 L163.50 386.44 L164.07 386.38 L164.64 386.32 L165.20 386.25 L165.77 386.18 L166.34 386.11 L166.90 386.03 L167.47 385.94 L168.04 385.84 L168.60 385.74 L169.17 385.64 L169.74 385.52 L170.30 385.40 L170.87 385.26 L171.44 385.12 L172.01 384.98 L172.57 384.82 L173.14 384.65 L173.71 384.47 L174.27 384.29 L174.84 384.09 L175.41 383.88 L175.97 383.67 L176.54 383.44 L177.11 383.20 L177.67 382.95 L178.24 382.68 L178.81 382.41 L179.38 382.13 L179.94 381.83 L180.51 381.52 L181.08 381.20 L181.64 380.87 L182.21 380.53 L182.78 380.18 L183.34 379.81 L183.91 379.43 L184.48 379.03 L185.04 378.62 L185.61 378.19 L186.18 377.75 L186.74 377.28 L187.31 376.78 L187.88 376.25 L188.44 375.69 L189.01 375.08 L189.58 374.42 L190.15 373.70 L190.71 372.91 L191.28 372.04 L191.85 371.07 L192.41 369.99 L192.98 368.79 L193.55 367.46 L194.11 365.98 L194.68 364.34 L195.25 362.53 L195.81 360.55 L196.38 358.40 L196.95 356.08 L197.51 353.61 L198.08 350.98 L198.65 348.24 L199.22 345.41 L199.78 342.52 L200.35 339.62 L200.92 336.75 L201.48 333.96 L202.05 331.32 L202.62 328.86 L203.18 326.65 L203.75 324.74 L204.32 323.16 L204.88 321.97 L205.45 321.18 L206.02 320.82 L206.58 321.12 L207.15 322.74 L207.72 325.63 L208.29 329.62 L208.85 334.47 L209.42 339.91 L209.99 345.68 L210.55 351.49 L211.12 357.13 L211.69 362.39 L212.25 367.16 L212.82 371.33 L213.39 374.88 L213.95 377.83 L214.52 380.20 L215.09 382.07 L215.66 383.50 L216.22 384.56 L216.79 385.34 L217.36 385.89 L217.92 386.28 L218.49 386.54 L219.06 386.71 L219.62 386.82 L220.19 386.89 L220.76 386.94 L221.32 386.96 L221.89 386.98 L222.46 386.99 L223.02 386.99 L223.59 387.00 L224.16 387.00 L224.72 387.00 L225.29 387.00 L225.86 387.00 L226.43 387.00 L226.99 387.00 L227.56 387.00 L228.13 387.00 L228.69 387.00 L229.26 387.00 L229.83 387.00 L230.39 387.00 L230.96 387.00 L231.53 387.00 L232.09 387.00 L232.66 387.00 L233.23 387.00 L233.80 387.00 L234.36 387.00 L234.93 387.00 L235.50 387.00 L236.06 387.00 L236.63 387.00 L237.20 387.00 L237.76 387.00 L238.33 387.00 L238.90 387.00 L239.46 387.00 L240.03 387.00 L240.60 387.00 L241.16 387.00 L241.73 387.00 L242.30 387.00 L242.87 387.00 L243.43 387.00 L244.00 387.00 L244.57 387.00 L245.13 387.00 L245.70 387.00 L246.27 387.00 L246.83 387.00 L247.40 387.00 L247.40 387.00 Z" fill="#6a1f86" stroke="none" stroke-width="0.5" opacity="0.93"/>
<path d="M156.70 386.85 L157.27 386.83 L157.83 386.81 L158.40 386.79 L158.97 386.76 L159.53 386.74 L160.10 386.71 L160.67 386.68 L161.23 386.64 L161.80 386.61 L162.37 386.56 L162.94 386.52 L163.50 386.47 L164.07 386.42 L164.64 386.36 L165.20 386.30 L165.77 386.23 L166.34 386.16 L166.90 386.09 L167.47 386.00 L168.04 385.91 L168.60 385.82 L169.17 385.71 L169.74 385.60 L170.30 385.48 L170.87 385.36 L171.44 385.22 L172.01 385.08 L172.57 384.93 L173.14 384.77 L173.71 384.60 L174.27 384.42 L174.84 384.23 L175.41 384.03 L175.97 383.82 L176.54 383.60 L177.11 383.37 L177.67 383.12 L178.24 382.87 L178.81 382.60 L179.38 382.33 L179.94 382.04 L180.51 381.74 L181.08 381.43 L181.64 381.10 L182.21 380.77 L182.78 380.42 L183.34 380.05 L183.91 379.68 L184.48 379.29 L185.04 378.88 L185.61 378.45 L186.18 378.00 L186.74 377.53 L187.31 377.03 L187.88 376.50 L188.44 375.93 L189.01 375.32 L189.58 374.65 L190.15 373.93 L190.71 373.13 L191.28 372.26 L191.85 371.29 L192.41 370.21 L192.98 369.03 L193.55 367.71 L194.11 366.25 L194.68 364.65 L195.25 362.89 L195.81 360.97 L196.38 358.89 L196.95 356.65 L197.51 354.26 L198.08 351.73 L198.65 349.09 L199.22 346.35 L199.78 343.55 L200.35 340.72 L200.92 337.91 L201.48 335.17 L202.05 332.53 L202.62 330.05 L203.18 327.77 L203.75 325.76 L204.32 324.04 L204.88 322.65 L205.45 321.64 L206.02 321.02 L206.58 320.80 L207.15 321.27 L207.72 322.73 L208.29 325.10 L208.85 328.28 L209.42 332.14 L209.99 336.51 L210.55 341.24 L211.12 346.15 L211.69 351.08 L212.25 355.90 L212.82 360.47 L213.39 364.71 L213.95 368.56 L214.52 371.97 L215.09 374.94 L215.66 377.46 L216.22 379.57 L216.79 381.30 L217.36 382.70 L217.92 383.80 L218.49 384.65 L219.06 385.31 L219.62 385.80 L220.19 386.16 L220.76 386.42 L221.32 386.61 L221.89 386.74 L222.46 386.83 L223.02 386.89 L223.59 386.93 L224.16 386.95 L224.72 386.97 L225.29 386.98 L225.86 386.99 L226.43 386.99 L226.99 387.00 L227.56 387.00 L228.13 387.00 L228.69 387.00 L229.26 387.00 L229.83 387.00 L230.39 387.00 L230.96 387.00 L231.53 387.00 L232.09 387.00 L232.66 387.00 L233.23 387.00 L233.80 387.00 L234.36 387.00 L234.93 387.00 L235.50 387.00 L236.06 387.00 L236.63 387.00 L237.20 387.00 L237.76 387.00 L238.33 387.00 L238.90 387.00 L239.46 387.00 L240.03 387.00 L240.60 387.00 L241.16 387.00 L241.73 387.00 L242.30 387.00 L242.87 387.00 L243.43 387.00 L244.00 387.00 L244.57 387.00 L245.13 387.00 L245.70 387.00 L246.27 387.00 L246.83 387.00 L247.40 387.00" fill="none" stroke="#e8e4f4" stroke-width="0.45" />
<path d="M156.70 386.88 L157.27 386.87 L157.83 386.85 L158.40 386.84 L158.97 386.82 L159.53 386.80 L160.10 386.78 L160.67 386.75 L161.23 386.72 L161.80 386.69 L162.37 386.66 L162.94 386.62 L163.50 386.58 L164.07 386.54 L164.64 386.50 L165.20 386.44 L165.77 386.39 L166.34 386.33 L166.90 386.27 L167.47 386.20 L168.04 386.12 L168.60 386.04 L169.17 385.95 L169.74 385.86 L170.30 385.76 L170.87 385.66 L171.44 385.54 L172.01 385.42 L172.57 385.29 L173.14 385.15 L173.71 385.00 L174.27 384.85 L174.84 384.68 L175.41 384.51 L175.97 384.32 L176.54 384.13 L177.11 383.92 L177.67 383.70 L178.24 383.48 L178.81 383.24 L179.38 382.99 L179.94 382.73 L180.51 382.46 L181.08 382.17 L181.64 381.87 L182.21 381.57 L182.78 381.24 L183.34 380.91 L183.91 380.56 L184.48 380.19 L185.04 379.81 L185.61 379.42 L186.18 379.00 L186.74 378.56 L187.31 378.10 L187.88 377.61 L188.44 377.09 L189.01 376.53 L189.58 375.93 L190.15 375.28 L190.71 374.57 L191.28 373.80 L191.85 372.96 L192.41 372.03 L192.98 371.01 L193.55 369.88 L194.11 368.64 L194.68 367.28 L195.25 365.78 L195.81 364.15 L196.38 362.36 L196.95 360.44 L197.51 358.36 L198.08 356.14 L198.65 353.79 L199.22 351.33 L199.78 348.75 L200.35 346.10 L200.92 343.41 L201.48 340.69 L202.05 337.99 L202.62 335.35 L203.18 332.80 L203.75 330.40 L204.32 328.19 L204.88 326.20 L205.45 324.48 L206.02 323.06 L206.58 321.96 L207.15 321.22 L207.72 320.85 L208.29 320.86 L208.85 321.29 L209.42 322.15 L209.99 323.41 L210.55 325.06 L211.12 327.06 L211.69 329.37 L212.25 331.96 L212.82 334.78 L213.39 337.77 L213.95 340.90 L214.52 344.11 L215.09 347.35 L215.66 350.59 L216.22 353.79 L216.79 356.90 L217.36 359.90 L217.92 362.76 L218.49 365.46 L219.06 367.98 L219.62 370.32 L220.19 372.47 L220.76 374.42 L221.32 376.18 L221.89 377.76 L222.46 379.16 L223.02 380.39 L223.59 381.46 L224.16 382.39 L224.72 383.19 L225.29 383.87 L225.86 384.44 L226.43 384.93 L226.99 385.33 L227.56 385.67 L228.13 385.94 L228.69 386.16 L229.26 386.34 L229.83 386.49 L230.39 386.60 L230.96 386.69 L231.53 386.77 L232.09 386.82 L232.66 386.87 L233.23 386.90 L233.80 386.93 L234.36 386.94 L234.93 386.96 L235.50 386.97 L236.06 386.98 L236.63 386.98 L237.20 386.99 L237.76 386.99 L238.33 386.99 L238.90 387.00 L239.46 387.00 L240.03 387.00 L240.60 387.00 L241.16 387.00 L241.73 387.00 L242.30 387.00 L242.87 387.00 L243.43 387.00 L244.00 387.00 L244.57 387.00 L245.13 387.00 L245.70 387.00 L246.27 387.00 L246.83 387.00 L247.40 387.00" fill="none" stroke="#14142a" stroke-width="0.65" />
<line x1="156.70" y1="387.00" x2="247.40" y2="387.00" stroke="#222" stroke-width="0.5" />
<line x1="152.00" y1="390.80" x2="152.00" y2="321.50" stroke="#222" stroke-width="0.6" />
<path d="M150.7 321.8 L153.3 321.8 L152.0 319.0 Z" fill="#222" stroke="none" stroke-width="0.5" />
<line x1="152.00" y1="390.80" x2="250.70" y2="390.80" stroke="#222" stroke-width="0.6" />
<path d="M250.39999999999998 389.5 L250.39999999999998 392.1 L253.2 390.8 Z" fill="#222" stroke="none" stroke-width="0.5" />
<line x1="160.20" y1="389.90" x2="160.20" y2="390.80" stroke="#888" stroke-width="0.3" />
<line x1="176.94" y1="389.90" x2="176.94" y2="390.80" stroke="#888" stroke-width="0.3" />
<line x1="193.68" y1="389.90" x2="193.68" y2="390.80" stroke="#888" stroke-width="0.3" />
<line x1="210.42" y1="389.90" x2="210.42" y2="390.80" stroke="#888" stroke-width="0.3" />
<line x1="227.16" y1="389.90" x2="227.16" y2="390.80" stroke="#888" stroke-width="0.3" />
<line x1="243.90" y1="389.90" x2="243.90" y2="390.80" stroke="#888" stroke-width="0.3" />
<text x="183.90" y="399.60" font-size="6.4" stroke="#231f20" stroke-width="0.16">C<tspan font-size="4.0" dy="1.6">12</tspan><tspan dy="-1.6">-FDG</tspan></text>
<text x="148.20" y="355.00" font-size="6.6" text-anchor="middle" stroke="#231f20" stroke-width="0.18" transform="rotate(-90 148.20 355.00)" >Counts</text>
<rect x="160.50" y="323.70" width="4.20" height="4.00" fill="#fff" stroke="#1f4a3a" stroke-width="0.6"/>
<text x="166.80" y="327.40" font-size="4.7" stroke="#231f20" stroke-width="0.14" >Vehicle</text>
<rect x="160.50" y="329.45" width="4.20" height="4.00" fill="#fff" stroke="#5a90d0" stroke-width="0.6"/>
<text x="166.80" y="333.15" font-size="4.7" stroke="#231f20" stroke-width="0.14" >ATRi</text>
<rect x="160.50" y="335.20" width="4.20" height="4.00" fill="#e41e26" stroke="#e41e26" stroke-width="0.6"/>
<text x="166.80" y="338.90" font-size="4.7" stroke="#231f20" stroke-width="0.14" >Ara-C</text>
<rect x="160.50" y="340.95" width="4.20" height="4.00" fill="#6a1f86" stroke="#6a1f86" stroke-width="0.6"/>
<text x="166.80" y="344.65" font-size="4.7" stroke="#231f20" stroke-width="0.14" >Ara-C+ATRi</text>
<text x="201.75" y="411.00" font-size="5.6" text-anchor="middle" stroke="#231f20" stroke-width="0.14" >AML1566</text>
<rect x="157.70" y="412.90" width="88.10" height="67.90" fill="#fff" stroke="#777" stroke-width="0.4"/>
<path d="M158.20 480.40 L158.20 480.40 L158.74 480.40 L159.29 480.40 L159.83 480.40 L160.38 480.40 L160.92 480.40 L161.47 480.40 L162.01 480.40 L162.55 480.40 L163.10 480.40 L163.64 480.40 L164.19 480.40 L164.73 480.40 L165.28 480.40 L165.82 480.40 L166.37 480.40 L166.91 480.40 L167.45 480.40 L168.00 480.40 L168.54 480.40 L169.09 480.40 L169.63 480.40 L170.18 480.40 L170.72 480.39 L171.26 480.39 L171.81 480.39 L172.35 480.39 L172.90 480.39 L173.44 480.38 L173.99 480.38 L174.53 480.37 L175.08 480.37 L175.62 480.36 L176.16 480.35 L176.71 480.34 L177.25 480.33 L177.80 480.32 L178.34 480.30 L178.89 480.28 L179.43 480.25 L179.97 480.23 L180.52 480.19 L181.06 480.15 L181.61 480.10 L182.15 480.05 L182.70 479.99 L183.24 479.91 L183.79 479.83 L184.33 479.73 L184.87 479.62 L185.42 479.49 L185.96 479.34 L186.51 479.17 L187.05 478.98 L187.60 478.76 L188.14 478.51 L188.69 478.23 L189.23 477.92 L189.77 477.57 L190.32 477.18 L190.86 476.75 L191.41 476.27 L191.95 475.74 L192.50 475.15 L193.04 474.51 L193.58 473.80 L194.13 473.03 L194.67 472.20 L195.22 471.29 L195.76 470.31 L196.31 469.25 L196.85 468.12 L197.39 466.90 L197.94 465.61 L198.48 464.24 L199.03 462.78 L199.57 461.25 L200.12 459.64 L200.66 457.95 L201.21 456.20 L201.75 454.37 L202.29 452.48 L202.84 450.54 L203.38 448.55 L203.93 446.51 L204.47 444.44 L205.02 442.35 L205.56 440.24 L206.11 438.13 L206.65 436.03 L207.19 433.95 L207.74 431.91 L208.28 429.90 L208.83 427.96 L209.37 426.09 L209.92 424.30 L210.46 422.61 L211.00 421.03 L211.55 419.57 L212.09 418.24 L212.64 417.05 L213.18 416.02 L213.73 415.14 L214.27 414.42 L214.81 413.88 L215.36 413.51 L215.90 413.33 L216.45 413.32 L216.99 413.54 L217.54 413.99 L218.08 414.66 L218.63 415.54 L219.17 416.64 L219.71 417.92 L220.26 419.40 L220.80 421.04 L221.35 422.83 L221.89 424.76 L222.44 426.81 L222.98 428.96 L223.53 431.19 L224.07 433.49 L224.61 435.84 L225.16 438.21 L225.70 440.59 L226.25 442.96 L226.79 445.32 L227.34 447.64 L227.88 449.91 L228.42 452.12 L228.97 454.26 L229.51 456.32 L230.06 458.29 L230.60 460.17 L231.15 461.96 L231.69 463.64 L232.24 465.22 L232.78 466.70 L233.32 468.08 L233.87 469.36 L234.41 470.54 L234.96 471.62 L235.50 472.61 L236.05 473.52 L236.59 474.33 L237.13 475.07 L237.68 475.74 L238.22 476.34 L238.77 476.87 L239.31 477.34 L239.86 477.76 L240.40 478.13 L240.95 478.45 L241.49 478.74 L242.03 478.98 L242.58 479.20 L243.12 479.38 L243.67 479.54 L244.21 479.68 L244.76 479.80 L245.30 479.90 L245.30 480.40 Z" fill="#e41e26" stroke="none" stroke-width="0.5" />
<path d="M158.20 480.40 L158.20 480.40 L158.74 480.40 L159.29 480.40 L159.83 480.40 L160.38 480.40 L160.92 480.40 L161.47 480.40 L162.01 480.40 L162.55 480.40 L163.10 480.40 L163.64 480.40 L164.19 480.39 L164.73 480.39 L165.28 480.39 L165.82 480.39 L166.37 480.39 L166.91 480.39 L167.45 480.38 L168.00 480.38 L168.54 480.37 L169.09 480.37 L169.63 480.36 L170.18 480.35 L170.72 480.34 L171.26 480.33 L171.81 480.32 L172.35 480.30 L172.90 480.28 L173.44 480.26 L173.99 480.23 L174.53 480.20 L175.08 480.16 L175.62 480.12 L176.16 480.07 L176.71 480.01 L177.25 479.94 L177.80 479.87 L178.34 479.78 L178.89 479.68 L179.43 479.56 L179.97 479.43 L180.52 479.28 L181.06 479.11 L181.61 478.92 L182.15 478.70 L182.70 478.45 L183.24 478.18 L183.79 477.87 L184.33 477.53 L184.87 477.15 L185.42 476.73 L185.96 476.27 L186.51 475.76 L187.05 475.20 L187.60 474.58 L188.14 473.91 L188.69 473.18 L189.23 472.39 L189.77 471.53 L190.32 470.60 L190.86 469.61 L191.41 468.54 L191.95 467.40 L192.50 466.19 L193.04 464.90 L193.58 463.54 L194.13 462.10 L194.67 460.59 L195.22 459.01 L195.76 457.36 L196.31 455.65 L196.85 453.87 L197.39 452.04 L197.94 450.16 L198.48 448.23 L199.03 446.26 L199.57 444.27 L200.12 442.25 L200.66 440.22 L201.21 438.19 L201.75 436.16 L202.29 434.16 L202.84 432.18 L203.38 430.25 L203.93 428.36 L204.47 426.54 L205.02 424.80 L205.56 423.14 L206.11 421.58 L206.65 420.13 L207.19 418.80 L207.74 417.59 L208.28 416.52 L208.83 415.59 L209.37 414.81 L209.92 414.19 L210.46 413.73 L211.00 413.44 L211.55 413.31 L212.09 413.35 L212.64 413.59 L213.18 414.02 L213.73 414.64 L214.27 415.44 L214.81 416.42 L215.36 417.56 L215.90 418.87 L216.45 420.32 L216.99 421.91 L217.54 423.62 L218.08 425.44 L218.63 427.36 L219.17 429.36 L219.71 431.42 L220.26 433.54 L220.80 435.70 L221.35 437.88 L221.89 440.07 L222.44 442.26 L222.98 444.44 L223.53 446.59 L224.07 448.70 L224.61 450.77 L225.16 452.78 L225.70 454.73 L226.25 456.62 L226.79 458.43 L227.34 460.16 L227.88 461.80 L228.42 463.37 L228.97 464.84 L229.51 466.23 L230.06 467.54 L230.60 468.75 L231.15 469.89 L231.69 470.94 L232.24 471.91 L232.78 472.80 L233.32 473.62 L233.87 474.37 L234.41 475.05 L234.96 475.66 L235.50 476.22 L236.05 476.73 L236.59 477.18 L237.13 477.58 L237.68 477.94 L238.22 478.27 L238.77 478.55 L239.31 478.80 L239.86 479.02 L240.40 479.22 L240.95 479.39 L241.49 479.53 L242.03 479.66 L242.58 479.77 L243.12 479.87 L243.67 479.95 L244.21 480.02 L244.76 480.08 L245.30 480.13 L245.30 480.40 Z" fill="#6a1f86" stroke="none" stroke-width="0.5" opacity="0.93"/>
<path d="M158.20 480.40 L158.74 480.40 L159.29 480.40 L159.83 480.40 L160.38 480.40 L160.92 480.40 L161.47 480.40 L162.01 480.39 L162.55 480.39 L163.10 480.39 L163.64 480.39 L164.19 480.39 L164.73 480.38 L165.28 480.38 L165.82 480.38 L166.37 480.37 L166.91 480.36 L167.45 480.36 L168.00 480.35 L168.54 480.34 L169.09 480.33 L169.63 480.31 L170.18 480.30 L170.72 480.28 L171.26 480.25 L171.81 480.23 L172.35 480.20 L172.90 480.16 L173.44 480.12 L173.99 480.07 L174.53 480.02 L175.08 479.96 L175.62 479.89 L176.16 479.80 L176.71 479.71 L177.25 479.60 L177.80 479.48 L178.34 479.35 L178.89 479.19 L179.43 479.02 L179.97 478.82 L180.52 478.61 L181.06 478.36 L181.61 478.09 L182.15 477.79 L182.70 477.45 L183.24 477.08 L183.79 476.68 L184.33 476.23 L184.87 475.74 L185.42 475.20 L185.96 474.61 L186.51 473.97 L187.05 473.28 L187.60 472.53 L188.14 471.73 L188.69 470.86 L189.23 469.92 L189.77 468.93 L190.32 467.86 L190.86 466.73 L191.41 465.54 L191.95 464.27 L192.50 462.94 L193.04 461.53 L193.58 460.07 L194.13 458.53 L194.67 456.94 L195.22 455.29 L195.76 453.58 L196.31 451.82 L196.85 450.01 L197.39 448.17 L197.94 446.29 L198.48 444.38 L199.03 442.45 L199.57 440.51 L200.12 438.57 L200.66 436.63 L201.21 434.71 L201.75 432.81 L202.29 430.95 L202.84 429.12 L203.38 427.36 L203.93 425.65 L204.47 424.03 L205.02 422.48 L205.56 421.03 L206.11 419.68 L206.65 418.44 L207.19 417.32 L207.74 416.32 L208.28 415.46 L208.83 414.74 L209.37 414.16 L209.92 413.72 L210.46 413.44 L211.00 413.31 L211.55 413.35 L212.09 413.63 L212.64 414.15 L213.18 414.91 L213.73 415.89 L214.27 417.09 L214.81 418.50 L215.36 420.10 L215.90 421.87 L216.45 423.79 L216.99 425.85 L217.54 428.03 L218.08 430.31 L218.63 432.66 L219.17 435.06 L219.71 437.51 L220.26 439.97 L220.80 442.43 L221.35 444.86 L221.89 447.27 L222.44 449.62 L222.98 451.91 L223.53 454.13 L224.07 456.26 L224.61 458.30 L225.16 460.24 L225.70 462.08 L226.25 463.81 L226.79 465.44 L227.34 466.95 L227.88 468.35 L228.42 469.65 L228.97 470.84 L229.51 471.93 L230.06 472.93 L230.60 473.83 L231.15 474.64 L231.69 475.38 L232.24 476.03 L232.78 476.61 L233.32 477.13 L233.87 477.59 L234.41 477.99 L234.96 478.34 L235.50 478.65 L236.05 478.91 L236.59 479.15 L237.13 479.34 L237.68 479.51 L238.22 479.66 L238.77 479.78 L239.31 479.89 L239.86 479.98 L240.40 480.05 L240.95 480.12 L241.49 480.17 L242.03 480.21 L242.58 480.25 L243.12 480.28 L243.67 480.30 L244.21 480.32 L244.76 480.34 L245.30 480.35" fill="none" stroke="#e8e4f4" stroke-width="0.45" />
<path d="M158.20 480.40 L158.74 480.40 L159.29 480.40 L159.83 480.40 L160.38 480.40 L160.92 480.40 L161.47 480.40 L162.01 480.40 L162.55 480.40 L163.10 480.40 L163.64 480.40 L164.19 480.40 L164.73 480.40 L165.28 480.39 L165.82 480.39 L166.37 480.39 L166.91 480.39 L167.45 480.39 L168.00 480.38 L168.54 480.38 L169.09 480.38 L169.63 480.37 L170.18 480.37 L170.72 480.36 L171.26 480.35 L171.81 480.34 L172.35 480.33 L172.90 480.31 L173.44 480.29 L173.99 480.27 L174.53 480.25 L175.08 480.22 L175.62 480.19 L176.16 480.15 L176.71 480.10 L177.25 480.05 L177.80 479.99 L178.34 479.92 L178.89 479.84 L179.43 479.75 L179.97 479.64 L180.52 479.52 L181.06 479.38 L181.61 479.22 L182.15 479.04 L182.70 478.84 L183.24 478.62 L183.79 478.36 L184.33 478.08 L184.87 477.76 L185.42 477.41 L185.96 477.01 L186.51 476.58 L187.05 476.10 L187.60 475.57 L188.14 474.99 L188.69 474.35 L189.23 473.66 L189.77 472.91 L190.32 472.10 L190.86 471.21 L191.41 470.27 L191.95 469.25 L192.50 468.15 L193.04 466.99 L193.58 465.75 L194.13 464.44 L194.67 463.05 L195.22 461.59 L195.76 460.05 L196.31 458.45 L196.85 456.77 L197.39 455.04 L197.94 453.24 L198.48 451.39 L199.03 449.49 L199.57 447.55 L200.12 445.57 L200.66 443.57 L201.21 441.55 L201.75 439.52 L202.29 437.48 L202.84 435.47 L203.38 433.47 L203.93 431.51 L204.47 429.59 L205.02 427.72 L205.56 425.93 L206.11 424.21 L206.65 422.59 L207.19 421.07 L207.74 419.65 L208.28 418.36 L208.83 417.20 L209.37 416.18 L209.92 415.30 L210.46 414.58 L211.00 414.02 L211.55 413.61 L212.09 413.37 L212.64 413.30 L213.18 413.41 L213.73 413.72 L214.27 414.21 L214.81 414.89 L215.36 415.76 L215.90 416.80 L216.45 418.00 L216.99 419.35 L217.54 420.86 L218.08 422.49 L218.63 424.24 L219.17 426.10 L219.71 428.04 L220.26 430.07 L220.80 432.15 L221.35 434.29 L221.89 436.45 L222.44 438.64 L222.98 440.83 L223.53 443.02 L224.07 445.19 L224.61 447.33 L225.16 449.42 L225.70 451.47 L226.25 453.47 L226.79 455.40 L227.34 457.25 L227.88 459.03 L228.42 460.74 L228.97 462.35 L229.51 463.89 L230.06 465.33 L230.60 466.69 L231.15 467.97 L231.69 469.16 L232.24 470.26 L232.78 471.28 L233.32 472.22 L233.87 473.09 L234.41 473.88 L234.96 474.61 L235.50 475.27 L236.05 475.86 L236.59 476.40 L237.13 476.89 L237.68 477.32 L238.22 477.71 L238.77 478.06 L239.31 478.37 L239.86 478.64 L240.40 478.88 L240.95 479.09 L241.49 479.28 L242.03 479.44 L242.58 479.58 L243.12 479.70 L243.67 479.81 L244.21 479.90 L244.76 479.98 L245.30 480.04" fill="none" stroke="#14142a" stroke-width="0.65" />
<line x1="158.20" y1="480.40" x2="245.30" y2="480.40" stroke="#222" stroke-width="0.5" />
<line x1="153.40" y1="486.60" x2="153.40" y2="414.00" stroke="#222" stroke-width="0.6" />
<path d="M152.1 414.3 L154.70000000000002 414.3 L153.4 411.5 Z" fill="#222" stroke="none" stroke-width="0.5" />
<line x1="153.40" y1="486.60" x2="251.10" y2="486.60" stroke="#222" stroke-width="0.6" />
<path d="M250.79999999999998 485.3 L250.79999999999998 487.90000000000003 L253.6 486.6 Z" fill="#222" stroke="none" stroke-width="0.5" />
<line x1="161.70" y1="485.70" x2="161.70" y2="486.60" stroke="#888" stroke-width="0.3" />
<line x1="177.72" y1="485.70" x2="177.72" y2="486.60" stroke="#888" stroke-width="0.3" />
<line x1="193.74" y1="485.70" x2="193.74" y2="486.60" stroke="#888" stroke-width="0.3" />
<line x1="209.76" y1="485.70" x2="209.76" y2="486.60" stroke="#888" stroke-width="0.3" />
<line x1="225.78" y1="485.70" x2="225.78" y2="486.60" stroke="#888" stroke-width="0.3" />
<line x1="241.80" y1="485.70" x2="241.80" y2="486.60" stroke="#888" stroke-width="0.3" />
<text x="189.60" y="494.60" font-size="6.4" stroke="#231f20" stroke-width="0.16">C<tspan font-size="4.0" dy="1.6">12</tspan><tspan dy="-1.6">-FDG</tspan></text>
<text x="149.60" y="449.00" font-size="6.6" text-anchor="middle" stroke="#231f20" stroke-width="0.18" transform="rotate(-90 149.60 449.00)" >Counts</text>
<rect x="162.70" y="416.60" width="4.20" height="4.00" fill="#fff" stroke="#1f4a3a" stroke-width="0.6"/>
<text x="169.00" y="420.30" font-size="4.7" stroke="#231f20" stroke-width="0.14" >Vehicle</text>
<rect x="162.70" y="422.35" width="4.20" height="4.00" fill="#fff" stroke="#5a90d0" stroke-width="0.6"/>
<text x="169.00" y="426.05" font-size="4.7" stroke="#231f20" stroke-width="0.14" >ATRi</text>
<rect x="162.70" y="428.10" width="4.20" height="4.00" fill="#e41e26" stroke="#e41e26" stroke-width="0.6"/>
<text x="169.00" y="431.80" font-size="4.7" stroke="#231f20" stroke-width="0.14" >Ara-C</text>
<rect x="162.70" y="433.85" width="4.20" height="4.00" fill="#6a1f86" stroke="#6a1f86" stroke-width="0.6"/>
<text x="169.00" y="437.55" font-size="4.7" stroke="#231f20" stroke-width="0.14" >Ara-C+ATRi</text>
<text x="281.80" y="307.60" font-size="10.5" font-weight="bold" fill="#000" >H</text>
<text x="310.50" y="300.50" font-size="5.3" fill="#d8262e" textLength="52.8" lengthAdjust="spacingAndGlyphs" stroke="#d8262e" stroke-width="0.14" >↓ Ara-C (low-moderate</text>
<text x="310.80" y="306.20" font-size="5.1" fill="#d8262e" textLength="36.3" lengthAdjust="spacingAndGlyphs" stroke="#d8262e" stroke-width="0.14" >dose for 3 days)</text>
<line x1="313.50" y1="307.90" x2="313.50" y2="312.00" stroke="#d8262e" stroke-width="0.75" />
<path d="M312.15 311.6 L314.85 311.6 L313.5 314.4 Z" fill="#d8262e" stroke="none" stroke-width="0.5" />
<line x1="317.90" y1="307.90" x2="317.90" y2="312.00" stroke="#d8262e" stroke-width="0.75" />
<path d="M316.54999999999995 311.6 L319.25 311.6 L317.9 314.4 Z" fill="#d8262e" stroke="none" stroke-width="0.5" />
<line x1="322.60" y1="307.90" x2="322.60" y2="312.00" stroke="#d8262e" stroke-width="0.75" />
<path d="M321.25 311.6 L323.95000000000005 311.6 L322.6 314.4 Z" fill="#d8262e" stroke="none" stroke-width="0.5" />
<line x1="311.40" y1="316.00" x2="345.00" y2="316.00" stroke="#3d4a66" stroke-width="0.95" />
<path d="M344.5 314.2 L348.1 316.0 L344.5 317.8 Z" fill="#3d4a66" stroke="none" stroke-width="0.5" />
<line x1="311.40" y1="324.30" x2="311.40" y2="319.40" stroke="#3a46a0" stroke-width="0.75" />
<path d="M310.04999999999995 319.8 L312.75 319.8 L311.4 317.0 Z" fill="#3a46a0" stroke="none" stroke-width="0.5" />
<line x1="322.60" y1="324.30" x2="322.60" y2="319.40" stroke="#3a46a0" stroke-width="0.75" />
<path d="M321.25 319.8 L323.95000000000005 319.8 L322.6 317.0 Z" fill="#3a46a0" stroke="none" stroke-width="0.5" />
<text x="350.30" y="315.40" font-size="5.4" textLength="82" lengthAdjust="spacingAndGlyphs" stroke="#231f20" stroke-width="0.14" >Day 7, assessment of cell viability</text>
<text x="350.30" y="320.80" font-size="5.3" stroke="#231f20" stroke-width="0.14" >by flow cytometry</text>
<text x="304.00" y="330.20" font-size="5.1" fill="#3a46a0" textLength="81" lengthAdjust="spacingAndGlyphs" stroke="#3a46a0" stroke-width="0.14" >↕ ATRi (2 µmol/L,  2 hrs pre-treatment</text>
<text x="304.00" y="334.90" font-size="5.1" fill="#3a46a0" textLength="30.7" lengthAdjust="spacingAndGlyphs" stroke="#3a46a0" stroke-width="0.14" >before Ara-C)</text>
<line x1="291.20" y1="346.00" x2="291.20" y2="477.50" stroke="#231f20" stroke-width="0.55" />
<line x1="289.50" y1="477.50" x2="291.20" y2="477.50" stroke="#231f20" stroke-width="0.5" />
<text x="286.60" y="479.60" font-size="5.9" text-anchor="end" stroke="#231f20" stroke-width="0.14" >0</text>
<line x1="289.50" y1="455.80" x2="291.20" y2="455.80" stroke="#231f20" stroke-width="0.5" />
<text x="286.60" y="457.90" font-size="5.9" text-anchor="end" stroke="#231f20" stroke-width="0.14" >20</text>
<line x1="289.50" y1="434.10" x2="291.20" y2="434.10" stroke="#231f20" stroke-width="0.5" />
<text x="286.60" y="436.20" font-size="5.9" text-anchor="end" stroke="#231f20" stroke-width="0.14" >40</text>
<line x1="289.50" y1="412.40" x2="291.20" y2="412.40" stroke="#231f20" stroke-width="0.5" />
<text x="286.60" y="414.50" font-size="5.9" text-anchor="end" stroke="#231f20" stroke-width="0.14" >60</text>
<line x1="289.50" y1="390.70" x2="291.20" y2="390.70" stroke="#231f20" stroke-width="0.5" />
<text x="286.60" y="392.80" font-size="5.9" text-anchor="end" stroke="#231f20" stroke-width="0.14" >80</text>
<line x1="289.50" y1="369.00" x2="291.20" y2="369.00" stroke="#231f20" stroke-width="0.5" />
<text x="286.60" y="371.10" font-size="5.9" text-anchor="end" stroke="#231f20" stroke-width="0.14" >100</text>
<line x1="289.50" y1="347.30" x2="291.20" y2="347.30" stroke="#231f20" stroke-width="0.5" />
<text x="286.60" y="349.40" font-size="5.9" text-anchor="end" stroke="#231f20" stroke-width="0.14" >120</text>
<line x1="290.30" y1="466.65" x2="291.20" y2="466.65" stroke="#231f20" stroke-width="0.4" />
<line x1="290.30" y1="444.95" x2="291.20" y2="444.95" stroke="#231f20" stroke-width="0.4" />
<line x1="290.30" y1="423.25" x2="291.20" y2="423.25" stroke="#231f20" stroke-width="0.4" />
<line x1="290.30" y1="401.55" x2="291.20" y2="401.55" stroke="#231f20" stroke-width="0.4" />
<line x1="290.30" y1="379.85" x2="291.20" y2="379.85" stroke="#231f20" stroke-width="0.4" />
<line x1="290.30" y1="358.15" x2="291.20" y2="358.15" stroke="#231f20" stroke-width="0.4" />
<text x="271.30" y="409.60" font-size="6.6" text-anchor="middle" textLength="111.4" lengthAdjust="spacingAndGlyphs" stroke="#231f20" stroke-width="0.18" transform="rotate(-90 271.30 409.60)" >Cell viability rel. to vehicle control (%)</text>
<line x1="291.20" y1="477.50" x2="455.40" y2="477.50" stroke="#231f20" stroke-width="0.55" />
<line x1="297.27" y1="369.00" x2="297.27" y2="362.49" stroke="#c8b4b8" stroke-width="0.5" />
<line x1="296.27" y1="362.49" x2="298.27" y2="362.49" stroke="#c8b4b8" stroke-width="0.5" />
<rect x="294.50" y="369.00" width="5.55" height="108.50" fill="#1a1a1a" />
<line x1="302.82" y1="421.08" x2="302.82" y2="412.40" stroke="#c8b4b8" stroke-width="0.5" />
<line x1="301.82" y1="412.40" x2="303.82" y2="412.40" stroke="#c8b4b8" stroke-width="0.5" />
<rect x="300.05" y="421.08" width="5.55" height="56.42" fill="#e3202a" />
<line x1="308.38" y1="412.40" x2="308.38" y2="404.80" stroke="#c8b4b8" stroke-width="0.5" />
<line x1="307.38" y1="404.80" x2="309.38" y2="404.80" stroke="#c8b4b8" stroke-width="0.5" />
<rect x="305.60" y="412.40" width="5.55" height="65.10" fill="#3a4ea6" />
<line x1="313.92" y1="473.16" x2="313.92" y2="472.08" stroke="#c8b4b8" stroke-width="0.5" />
<line x1="312.92" y1="472.08" x2="314.92" y2="472.08" stroke="#c8b4b8" stroke-width="0.5" />
<rect x="311.15" y="473.16" width="5.55" height="4.34" fill="#a8509e" />
<line x1="305.60" y1="477.50" x2="305.60" y2="478.80" stroke="#231f20" stroke-width="0.5" />
<text x="305.00" y="485.10" font-size="6.0" text-anchor="middle" stroke="#231f20" stroke-width="0.18" >KG-1</text>
<path d="M297.77 345.90 L297.77 344.30 L314.53 344.30 L314.53 346.30" fill="none" stroke="#4a4a4a" stroke-width="0.45" />
<text x="306.15" y="345.80" font-size="5.0" text-anchor="middle" fill="#4a4a4a" stroke="#4a4a4a" stroke-width="0.14" >****</text>
<path d="M303.12 350.50 L303.12 348.90 L314.53 348.90 L314.53 350.90" fill="none" stroke="#4a4a4a" stroke-width="0.45" />
<text x="308.83" y="350.40" font-size="5.0" text-anchor="middle" fill="#4a4a4a" stroke="#4a4a4a" stroke-width="0.14" >****</text>
<path d="M308.07 354.30 L308.07 352.70 L314.53 352.70 L314.53 354.70" fill="none" stroke="#4a4a4a" stroke-width="0.45" />
<text x="311.30" y="354.20" font-size="5.0" text-anchor="middle" fill="#4a4a4a" stroke="#4a4a4a" stroke-width="0.14" >****</text>
<line x1="324.57" y1="369.00" x2="324.57" y2="366.83" stroke="#c8b4b8" stroke-width="0.5" />
<line x1="323.57" y1="366.83" x2="325.57" y2="366.83" stroke="#c8b4b8" stroke-width="0.5" />
<rect x="321.80" y="369.00" width="5.55" height="108.50" fill="#1a1a1a" />
<line x1="330.12" y1="399.38" x2="330.12" y2="392.87" stroke="#c8b4b8" stroke-width="0.5" />
<line x1="329.12" y1="392.87" x2="331.12" y2="392.87" stroke="#c8b4b8" stroke-width="0.5" />
<rect x="327.35" y="399.38" width="5.55" height="78.12" fill="#e3202a" />
<line x1="335.68" y1="359.24" x2="335.68" y2="358.69" stroke="#c8b4b8" stroke-width="0.5" />
<line x1="334.68" y1="358.69" x2="336.68" y2="358.69" stroke="#c8b4b8" stroke-width="0.5" />
<rect x="332.90" y="359.24" width="5.55" height="118.27" fill="#3a4ea6" />
<line x1="341.22" y1="473.16" x2="341.22" y2="472.08" stroke="#c8b4b8" stroke-width="0.5" />
<line x1="340.22" y1="472.08" x2="342.22" y2="472.08" stroke="#c8b4b8" stroke-width="0.5" />
<rect x="338.45" y="473.16" width="5.55" height="4.34" fill="#a8509e" />
<line x1="332.90" y1="477.50" x2="332.90" y2="478.80" stroke="#231f20" stroke-width="0.5" />
<text x="332.30" y="485.10" font-size="6.0" text-anchor="middle" stroke="#231f20" stroke-width="0.18" >AML2741</text>
<path d="M325.07 345.90 L325.07 344.30 L341.83 344.30 L341.83 346.30" fill="none" stroke="#4a4a4a" stroke-width="0.45" />
<text x="333.45" y="345.80" font-size="5.0" text-anchor="middle" fill="#4a4a4a" stroke="#4a4a4a" stroke-width="0.14" >****</text>
<path d="M330.43 350.50 L330.43 348.90 L341.83 348.90 L341.83 350.90" fill="none" stroke="#4a4a4a" stroke-width="0.45" />
<text x="336.12" y="350.40" font-size="5.0" text-anchor="middle" fill="#4a4a4a" stroke="#4a4a4a" stroke-width="0.14" >****</text>
<path d="M335.38 354.30 L335.38 352.70 L341.83 352.70 L341.83 354.70" fill="none" stroke="#4a4a4a" stroke-width="0.45" />
<text x="338.60" y="354.20" font-size="5.0" text-anchor="middle" fill="#4a4a4a" stroke="#4a4a4a" stroke-width="0.14" >****</text>
<line x1="351.88" y1="369.00" x2="351.88" y2="359.24" stroke="#c8b4b8" stroke-width="0.5" />
<line x1="350.88" y1="359.24" x2="352.88" y2="359.24" stroke="#c8b4b8" stroke-width="0.5" />
<rect x="349.10" y="369.00" width="5.55" height="108.50" fill="#1a1a1a" />
<line x1="357.43" y1="375.51" x2="357.43" y2="372.25" stroke="#c8b4b8" stroke-width="0.5" />
<line x1="356.43" y1="372.25" x2="358.43" y2="372.25" stroke="#c8b4b8" stroke-width="0.5" />
<rect x="354.65" y="375.51" width="5.55" height="101.99" fill="#e3202a" />
<line x1="362.98" y1="426.50" x2="362.98" y2="422.17" stroke="#c8b4b8" stroke-width="0.5" />
<line x1="361.98" y1="422.17" x2="363.98" y2="422.17" stroke="#c8b4b8" stroke-width="0.5" />
<rect x="360.20" y="426.50" width="5.55" height="50.99" fill="#3a4ea6" />
<line x1="368.52" y1="468.82" x2="368.52" y2="467.74" stroke="#c8b4b8" stroke-width="0.5" />
<line x1="367.52" y1="467.74" x2="369.52" y2="467.74" stroke="#c8b4b8" stroke-width="0.5" />
<rect x="365.75" y="468.82" width="5.55" height="8.68" fill="#a8509e" />
<line x1="360.20" y1="477.50" x2="360.20" y2="478.80" stroke="#231f20" stroke-width="0.5" />
<text x="359.60" y="485.10" font-size="6.0" text-anchor="middle" stroke="#231f20" stroke-width="0.18" >AML2928</text>
<path d="M352.38 345.90 L352.38 344.30 L369.13 344.30 L369.13 346.30" fill="none" stroke="#4a4a4a" stroke-width="0.45" />
<text x="360.75" y="345.80" font-size="5.0" text-anchor="middle" fill="#4a4a4a" stroke="#4a4a4a" stroke-width="0.14" >****</text>
<path d="M357.73 350.50 L357.73 348.90 L369.13 348.90 L369.13 350.90" fill="none" stroke="#4a4a4a" stroke-width="0.45" />
<text x="363.43" y="350.40" font-size="5.0" text-anchor="middle" fill="#4a4a4a" stroke="#4a4a4a" stroke-width="0.14" >****</text>
<path d="M362.68 354.30 L362.68 352.70 L369.13 352.70 L369.13 354.70" fill="none" stroke="#4a4a4a" stroke-width="0.45" />
<text x="365.90" y="354.20" font-size="5.0" text-anchor="middle" fill="#4a4a4a" stroke="#4a4a4a" stroke-width="0.14" >****</text>
<line x1="379.17" y1="369.00" x2="379.17" y2="366.83" stroke="#c8b4b8" stroke-width="0.5" />
<line x1="378.17" y1="366.83" x2="380.17" y2="366.83" stroke="#c8b4b8" stroke-width="0.5" />
<rect x="376.40" y="369.00" width="5.55" height="108.50" fill="#1a1a1a" />
<line x1="384.72" y1="410.23" x2="384.72" y2="406.98" stroke="#c8b4b8" stroke-width="0.5" />
<line x1="383.72" y1="406.98" x2="385.72" y2="406.98" stroke="#c8b4b8" stroke-width="0.5" />
<rect x="381.95" y="410.23" width="5.55" height="67.27" fill="#e3202a" />
<line x1="390.27" y1="429.76" x2="390.27" y2="423.25" stroke="#c8b4b8" stroke-width="0.5" />
<line x1="389.27" y1="423.25" x2="391.27" y2="423.25" stroke="#c8b4b8" stroke-width="0.5" />
<rect x="387.50" y="429.76" width="5.55" height="47.74" fill="#3a4ea6" />
<line x1="395.82" y1="450.38" x2="395.82" y2="448.20" stroke="#c8b4b8" stroke-width="0.5" />
<line x1="394.82" y1="448.20" x2="396.82" y2="448.20" stroke="#c8b4b8" stroke-width="0.5" />
<rect x="393.05" y="450.38" width="5.55" height="27.12" fill="#a8509e" />
<line x1="387.50" y1="477.50" x2="387.50" y2="478.80" stroke="#231f20" stroke-width="0.5" />
<text x="386.90" y="485.10" font-size="6.0" text-anchor="middle" stroke="#231f20" stroke-width="0.18" >AML2012</text>
<path d="M379.67 345.90 L379.67 344.30 L396.43 344.30 L396.43 346.30" fill="none" stroke="#4a4a4a" stroke-width="0.45" />
<text x="388.05" y="345.80" font-size="5.0" text-anchor="middle" fill="#4a4a4a" stroke="#4a4a4a" stroke-width="0.14" >****</text>
<path d="M385.02 350.50 L385.02 348.90 L396.43 348.90 L396.43 350.90" fill="none" stroke="#4a4a4a" stroke-width="0.45" />
<text x="390.73" y="350.40" font-size="5.0" text-anchor="middle" fill="#4a4a4a" stroke="#4a4a4a" stroke-width="0.14" >**</text>
<path d="M389.97 354.30 L389.97 352.70 L396.43 352.70 L396.43 354.70" fill="none" stroke="#4a4a4a" stroke-width="0.45" />
<text x="393.20" y="354.20" font-size="5.0" text-anchor="middle" fill="#4a4a4a" stroke="#4a4a4a" stroke-width="0.14" >*</text>
<line x1="406.47" y1="369.00" x2="406.47" y2="366.83" stroke="#c8b4b8" stroke-width="0.5" />
<line x1="405.47" y1="366.83" x2="407.47" y2="366.83" stroke="#c8b4b8" stroke-width="0.5" />
<rect x="403.70" y="369.00" width="5.55" height="108.50" fill="#1a1a1a" />
<line x1="412.02" y1="426.50" x2="412.02" y2="415.65" stroke="#c8b4b8" stroke-width="0.5" />
<line x1="411.02" y1="415.65" x2="413.02" y2="415.65" stroke="#c8b4b8" stroke-width="0.5" />
<rect x="409.25" y="426.50" width="5.55" height="50.99" fill="#e3202a" />
<line x1="417.57" y1="424.33" x2="417.57" y2="423.25" stroke="#c8b4b8" stroke-width="0.5" />
<line x1="416.57" y1="423.25" x2="418.57" y2="423.25" stroke="#c8b4b8" stroke-width="0.5" />
<rect x="414.80" y="424.33" width="5.55" height="53.16" fill="#3a4ea6" />
<line x1="423.12" y1="469.90" x2="423.12" y2="468.82" stroke="#c8b4b8" stroke-width="0.5" />
<line x1="422.12" y1="468.82" x2="424.12" y2="468.82" stroke="#c8b4b8" stroke-width="0.5" />
<rect x="420.35" y="469.90" width="5.55" height="7.59" fill="#a8509e" />
<line x1="414.80" y1="477.50" x2="414.80" y2="478.80" stroke="#231f20" stroke-width="0.5" />
<text x="414.20" y="485.10" font-size="6.0" text-anchor="middle" stroke="#231f20" stroke-width="0.18" >AML2920</text>
<path d="M406.97 345.90 L406.97 344.30 L423.73 344.30 L423.73 346.30" fill="none" stroke="#4a4a4a" stroke-width="0.45" />
<text x="415.35" y="345.80" font-size="5.0" text-anchor="middle" fill="#4a4a4a" stroke="#4a4a4a" stroke-width="0.14" >****</text>
<path d="M412.32 350.50 L412.32 348.90 L423.73 348.90 L423.73 350.90" fill="none" stroke="#4a4a4a" stroke-width="0.45" />
<text x="418.02" y="350.40" font-size="5.0" text-anchor="middle" fill="#4a4a4a" stroke="#4a4a4a" stroke-width="0.14" >****</text>
<path d="M417.27 354.30 L417.27 352.70 L423.73 352.70 L423.73 354.70" fill="none" stroke="#4a4a4a" stroke-width="0.45" />
<text x="420.50" y="354.20" font-size="5.0" text-anchor="middle" fill="#4a4a4a" stroke="#4a4a4a" stroke-width="0.14" >****</text>
<line x1="433.77" y1="369.00" x2="433.77" y2="365.75" stroke="#c8b4b8" stroke-width="0.5" />
<line x1="432.77" y1="365.75" x2="434.77" y2="365.75" stroke="#c8b4b8" stroke-width="0.5" />
<rect x="431.00" y="369.00" width="5.55" height="108.50" fill="#1a1a1a" />
<line x1="439.32" y1="417.82" x2="439.32" y2="412.40" stroke="#c8b4b8" stroke-width="0.5" />
<line x1="438.32" y1="412.40" x2="440.32" y2="412.40" stroke="#c8b4b8" stroke-width="0.5" />
<rect x="436.55" y="417.82" width="5.55" height="59.67" fill="#e3202a" />
<line x1="444.88" y1="389.62" x2="444.88" y2="378.76" stroke="#c8b4b8" stroke-width="0.5" />
<line x1="443.88" y1="378.76" x2="445.88" y2="378.76" stroke="#c8b4b8" stroke-width="0.5" />
<rect x="442.10" y="389.62" width="5.55" height="87.88" fill="#3a4ea6" />
<line x1="450.42" y1="475.33" x2="450.42" y2="474.25" stroke="#c8b4b8" stroke-width="0.5" />
<line x1="449.42" y1="474.25" x2="451.42" y2="474.25" stroke="#c8b4b8" stroke-width="0.5" />
<rect x="447.65" y="475.33" width="5.55" height="2.17" fill="#a8509e" />
<line x1="442.10" y1="477.50" x2="442.10" y2="478.80" stroke="#231f20" stroke-width="0.5" />
<text x="441.50" y="485.10" font-size="6.0" text-anchor="middle" stroke="#231f20" stroke-width="0.18" >AML1566</text>
<path d="M434.27 345.90 L434.27 344.30 L451.03 344.30 L451.03 346.30" fill="none" stroke="#4a4a4a" stroke-width="0.45" />
<text x="442.65" y="345.80" font-size="5.0" text-anchor="middle" fill="#4a4a4a" stroke="#4a4a4a" stroke-width="0.14" >****</text>
<path d="M439.62 350.50 L439.62 348.90 L451.03 348.90 L451.03 350.90" fill="none" stroke="#4a4a4a" stroke-width="0.45" />
<text x="445.33" y="350.40" font-size="5.0" text-anchor="middle" fill="#4a4a4a" stroke="#4a4a4a" stroke-width="0.14" >****</text>
<path d="M444.57 354.30 L444.57 352.70 L451.03 352.70 L451.03 354.70" fill="none" stroke="#4a4a4a" stroke-width="0.45" />
<text x="447.80" y="354.20" font-size="5.0" text-anchor="middle" fill="#4a4a4a" stroke="#4a4a4a" stroke-width="0.14" >****</text>
<rect x="459.10" y="343.60" width="11.90" height="6.40" fill="#1a1a1a" />
<text x="472.50" y="348.30" font-size="5.0" stroke="#231f20" stroke-width="0.14" >Vehicle</text>
<rect x="459.10" y="349.95" width="11.90" height="6.40" fill="#e3202a" />
<text x="472.50" y="354.80" font-size="5.0" stroke="#231f20" stroke-width="0.14" >Ara-C</text>
<rect x="459.10" y="356.30" width="11.90" height="6.40" fill="#3a4ea6" />
<text x="472.50" y="361.30" font-size="5.0" stroke="#231f20" stroke-width="0.14" >ATRi (VE-821)</text>
<rect x="459.10" y="362.65" width="11.90" height="6.40" fill="#a8509e" />
<text x="472.50" y="367.80" font-size="5.0" stroke="#231f20" stroke-width="0.14" >Ara-C+ATRi (VE-821)</text>
<text x="5.6" y="519.6" font-size="10.5" font-weight="bold" fill="#000">I</text>
<text x="27.50" y="525.90" font-size="5.2" fill="#d8262e" textLength="67.3" lengthAdjust="spacingAndGlyphs" stroke="#d8262e" stroke-width="0.14" >↓ Ara-C (low dose for 3 days)</text>
<line x1="30.20" y1="528.10" x2="30.20" y2="532.60" stroke="#d8262e" stroke-width="0.75" />
<path d="M28.849999999999998 532.2 L31.55 532.2 L30.2 535.1 Z" fill="#d8262e" stroke="none" stroke-width="0.5" />
<line x1="34.60" y1="528.10" x2="34.60" y2="532.60" stroke="#d8262e" stroke-width="0.75" />
<path d="M33.25 532.2 L35.95 532.2 L34.6 535.1 Z" fill="#d8262e" stroke="none" stroke-width="0.5" />
<line x1="38.80" y1="528.10" x2="38.80" y2="532.60" stroke="#d8262e" stroke-width="0.75" />
<path d="M37.449999999999996 532.2 L40.15 532.2 L38.8 535.1 Z" fill="#d8262e" stroke="none" stroke-width="0.5" />
<line x1="27.10" y1="535.80" x2="61.50" y2="535.80" stroke="#3d4a80" stroke-width="0.95" />
<path d="M61 534.0 L64.6 535.8 L61 537.6 Z" fill="#3d4a80" stroke="none" stroke-width="0.5" />
<line x1="28.10" y1="543.30" x2="28.10" y2="539.80" stroke="#3a46a0" stroke-width="0.75" />
<path d="M26.75 540.2 L29.450000000000003 540.2 L28.1 537.2 Z" fill="#3a46a0" stroke="none" stroke-width="0.5" />
<line x1="38.80" y1="543.30" x2="38.80" y2="539.80" stroke="#3a46a0" stroke-width="0.75" />
<path d="M37.449999999999996 540.2 L40.15 540.2 L38.8 537.2 Z" fill="#3a46a0" stroke="none" stroke-width="0.5" />
<text x="89.70" y="534.60" font-size="5.2" text-anchor="middle" textLength="43.7" lengthAdjust="spacingAndGlyphs" stroke="#231f20" stroke-width="0.14" >Day 7, assessment</text>
<text x="90.30" y="540.00" font-size="5.2" text-anchor="middle" textLength="39.4" lengthAdjust="spacingAndGlyphs" stroke="#231f20" stroke-width="0.14" >by flow cytometry</text>
<text x="22.10" y="552.80" font-size="5.1" fill="#3a46a0" textLength="61.6" lengthAdjust="spacingAndGlyphs" stroke="#3a46a0" stroke-width="0.14" >↕ BAY-1895344 (20 nmol/L,</text>
<text x="22.70" y="558.80" font-size="5.1" fill="#3a46a0" textLength="42.8" lengthAdjust="spacingAndGlyphs" stroke="#3a46a0" stroke-width="0.14" >2 hrs pre-treatment</text>
<text x="22.70" y="564.90" font-size="5.1" fill="#3a46a0" textLength="31.7" lengthAdjust="spacingAndGlyphs" stroke="#3a46a0" stroke-width="0.14" >before Ara-C)</text>
<text x="135.60" y="518.80" font-size="10.5" font-weight="bold" fill="#000" >J</text>
<line x1="160.90" y1="518.70" x2="160.90" y2="636.40" stroke="#231f20" stroke-width="0.55" />
<line x1="159.20" y1="636.40" x2="160.90" y2="636.40" stroke="#231f20" stroke-width="0.5" />
<text x="156.90" y="638.50" font-size="5.9" text-anchor="end" stroke="#231f20" stroke-width="0.14" >0</text>
<line x1="159.20" y1="618.10" x2="160.90" y2="618.10" stroke="#231f20" stroke-width="0.5" />
<text x="156.90" y="620.20" font-size="5.9" text-anchor="end" stroke="#231f20" stroke-width="0.14" >20</text>
<line x1="159.20" y1="599.80" x2="160.90" y2="599.80" stroke="#231f20" stroke-width="0.5" />
<text x="156.90" y="601.90" font-size="5.9" text-anchor="end" stroke="#231f20" stroke-width="0.14" >40</text>
<line x1="159.20" y1="581.50" x2="160.90" y2="581.50" stroke="#231f20" stroke-width="0.5" />
<text x="156.90" y="583.60" font-size="5.9" text-anchor="end" stroke="#231f20" stroke-width="0.14" >60</text>
<line x1="159.20" y1="563.20" x2="160.90" y2="563.20" stroke="#231f20" stroke-width="0.5" />
<text x="156.90" y="565.30" font-size="5.9" text-anchor="end" stroke="#231f20" stroke-width="0.14" >80</text>
<line x1="159.20" y1="544.90" x2="160.90" y2="544.90" stroke="#231f20" stroke-width="0.5" />
<text x="156.90" y="547.00" font-size="5.9" text-anchor="end" stroke="#231f20" stroke-width="0.14" >100</text>
<line x1="159.20" y1="526.60" x2="160.90" y2="526.60" stroke="#231f20" stroke-width="0.5" />
<text x="156.90" y="528.70" font-size="5.9" text-anchor="end" stroke="#231f20" stroke-width="0.14" >120</text>
<line x1="160.00" y1="627.25" x2="160.90" y2="627.25" stroke="#231f20" stroke-width="0.4" />
<line x1="160.00" y1="608.95" x2="160.90" y2="608.95" stroke="#231f20" stroke-width="0.4" />
<line x1="160.00" y1="590.65" x2="160.90" y2="590.65" stroke="#231f20" stroke-width="0.4" />
<line x1="160.00" y1="572.35" x2="160.90" y2="572.35" stroke="#231f20" stroke-width="0.4" />
<line x1="160.00" y1="554.05" x2="160.90" y2="554.05" stroke="#231f20" stroke-width="0.4" />
<line x1="160.00" y1="535.75" x2="160.90" y2="535.75" stroke="#231f20" stroke-width="0.4" />
<text x="140.80" y="578.80" font-size="6.3" text-anchor="middle" textLength="104.3" lengthAdjust="spacingAndGlyphs" stroke="#231f20" stroke-width="0.18" transform="rotate(-90 140.80 578.80)" >Cell viability rel. to vehicle control (%)</text>
<line x1="160.90" y1="636.40" x2="318.00" y2="636.40" stroke="#231f20" stroke-width="0.55" />
<line x1="169.12" y1="544.90" x2="169.12" y2="539.41" stroke="#c8b4b8" stroke-width="0.5" />
<line x1="168.03" y1="539.41" x2="170.22" y2="539.41" stroke="#c8b4b8" stroke-width="0.5" />
<rect x="165.20" y="544.90" width="7.85" height="91.50" fill="#1a1a1a" />
<line x1="176.97" y1="535.02" x2="176.97" y2="530.44" stroke="#c8b4b8" stroke-width="0.5" />
<line x1="175.88" y1="530.44" x2="178.07" y2="530.44" stroke="#c8b4b8" stroke-width="0.5" />
<rect x="173.05" y="535.02" width="7.85" height="101.38" fill="#e3202a" />
<line x1="184.82" y1="535.75" x2="184.82" y2="534.84" stroke="#c8b4b8" stroke-width="0.5" />
<line x1="183.72" y1="534.84" x2="185.92" y2="534.84" stroke="#c8b4b8" stroke-width="0.5" />
<rect x="180.90" y="535.75" width="7.85" height="100.65" fill="#3a4ea6" />
<line x1="192.68" y1="546.27" x2="192.68" y2="540.78" stroke="#c8b4b8" stroke-width="0.5" />
<line x1="191.58" y1="540.78" x2="193.78" y2="540.78" stroke="#c8b4b8" stroke-width="0.5" />
<rect x="188.75" y="546.27" width="7.85" height="90.13" fill="#a8509e" />
<line x1="180.90" y1="636.40" x2="180.90" y2="637.70" stroke="#231f20" stroke-width="0.5" />
<text x="180.90" y="645.00" font-size="5.4" text-anchor="middle" stroke="#231f20" stroke-width="0.14" >Normal human</text>
<text x="180.90" y="651.50" font-size="5.4" text-anchor="middle" stroke="#231f20" stroke-width="0.14" >HSPCs 1</text>
<path d="M173.44 525.50 L173.44 523.90 L193.46 523.90 L193.46 525.70" fill="none" stroke="#4a4a4a" stroke-width="0.45" />
<text x="183.45" y="523.50" font-size="3.6" text-anchor="middle" fill="#4a4a4a" >ns</text>
<path d="M178.94 530.20 L178.94 528.60 L193.46 528.60 L193.46 530.40" fill="none" stroke="#4a4a4a" stroke-width="0.45" />
<text x="186.20" y="528.20" font-size="3.6" text-anchor="middle" fill="#4a4a4a" >ns</text>
<path d="M184.43 535.00 L184.43 533.40 L193.46 533.40 L193.46 535.20" fill="none" stroke="#4a4a4a" stroke-width="0.45" />
<text x="188.95" y="533.00" font-size="3.6" text-anchor="middle" fill="#4a4a4a" >ns</text>
<line x1="207.53" y1="544.90" x2="207.53" y2="544.44" stroke="#c8b4b8" stroke-width="0.5" />
<line x1="206.43" y1="544.44" x2="208.62" y2="544.44" stroke="#c8b4b8" stroke-width="0.5" />
<rect x="203.60" y="544.90" width="7.85" height="91.50" fill="#1a1a1a" />
<line x1="215.38" y1="543.07" x2="215.38" y2="542.61" stroke="#c8b4b8" stroke-width="0.5" />
<line x1="214.28" y1="542.61" x2="216.47" y2="542.61" stroke="#c8b4b8" stroke-width="0.5" />
<rect x="211.45" y="543.07" width="7.85" height="93.33" fill="#e3202a" />
<line x1="223.22" y1="548.56" x2="223.22" y2="544.90" stroke="#c8b4b8" stroke-width="0.5" />
<line x1="222.12" y1="544.90" x2="224.32" y2="544.90" stroke="#c8b4b8" stroke-width="0.5" />
<rect x="219.30" y="548.56" width="7.85" height="87.84" fill="#3a4ea6" />
<line x1="231.07" y1="565.03" x2="231.07" y2="564.12" stroke="#c8b4b8" stroke-width="0.5" />
<line x1="229.97" y1="564.12" x2="232.17" y2="564.12" stroke="#c8b4b8" stroke-width="0.5" />
<rect x="227.15" y="565.03" width="7.85" height="71.37" fill="#a8509e" />
<line x1="219.30" y1="636.40" x2="219.30" y2="637.70" stroke="#231f20" stroke-width="0.5" />
<text x="219.30" y="645.00" font-size="5.4" text-anchor="middle" stroke="#231f20" stroke-width="0.14" >Normal human</text>
<text x="219.30" y="651.50" font-size="5.4" text-anchor="middle" stroke="#231f20" stroke-width="0.14" >HSPCs 2</text>
<path d="M211.84 525.50 L211.84 523.90 L231.86 523.90 L231.86 525.70" fill="none" stroke="#4a4a4a" stroke-width="0.45" />
<text x="221.85" y="525.40" font-size="5.0" text-anchor="middle" fill="#4a4a4a" stroke="#4a4a4a" stroke-width="0.14" >**</text>
<path d="M217.34 530.20 L217.34 528.60 L231.86 528.60 L231.86 530.40" fill="none" stroke="#4a4a4a" stroke-width="0.45" />
<text x="224.60" y="530.10" font-size="5.0" text-anchor="middle" fill="#4a4a4a" stroke="#4a4a4a" stroke-width="0.14" >**</text>
<path d="M222.83 535.00 L222.83 533.40 L231.86 533.40 L231.86 535.20" fill="none" stroke="#4a4a4a" stroke-width="0.45" />
<text x="227.35" y="534.90" font-size="5.0" text-anchor="middle" fill="#4a4a4a" stroke="#4a4a4a" stroke-width="0.14" >*</text>
<line x1="246.03" y1="544.90" x2="246.03" y2="543.99" stroke="#c8b4b8" stroke-width="0.5" />
<line x1="244.93" y1="543.99" x2="247.12" y2="543.99" stroke="#c8b4b8" stroke-width="0.5" />
<rect x="242.10" y="544.90" width="7.85" height="91.50" fill="#1a1a1a" />
<line x1="253.88" y1="551.76" x2="253.88" y2="549.93" stroke="#c8b4b8" stroke-width="0.5" />
<line x1="252.78" y1="549.93" x2="254.97" y2="549.93" stroke="#c8b4b8" stroke-width="0.5" />
<rect x="249.95" y="551.76" width="7.85" height="84.64" fill="#e3202a" />
<line x1="261.73" y1="578.75" x2="261.73" y2="567.77" stroke="#c8b4b8" stroke-width="0.5" />
<line x1="260.62" y1="567.77" x2="262.83" y2="567.77" stroke="#c8b4b8" stroke-width="0.5" />
<rect x="257.80" y="578.75" width="7.85" height="57.65" fill="#3a4ea6" />
<line x1="269.57" y1="613.52" x2="269.57" y2="606.20" stroke="#c8b4b8" stroke-width="0.5" />
<line x1="268.47" y1="606.20" x2="270.68" y2="606.20" stroke="#c8b4b8" stroke-width="0.5" />
<rect x="265.65" y="613.52" width="7.85" height="22.88" fill="#a8509e" />
<line x1="257.80" y1="636.40" x2="257.80" y2="637.70" stroke="#231f20" stroke-width="0.5" />
<text x="257.80" y="645.00" font-size="5.4" text-anchor="middle" stroke="#231f20" stroke-width="0.14" >AML2920</text>
<path d="M250.34 525.50 L250.34 523.90 L270.36 523.90 L270.36 525.70" fill="none" stroke="#4a4a4a" stroke-width="0.45" />
<text x="260.35" y="525.40" font-size="5.0" text-anchor="middle" fill="#4a4a4a" stroke="#4a4a4a" stroke-width="0.14" >***</text>
<path d="M255.84 530.20 L255.84 528.60 L270.36 528.60 L270.36 530.40" fill="none" stroke="#4a4a4a" stroke-width="0.45" />
<text x="263.10" y="530.10" font-size="5.0" text-anchor="middle" fill="#4a4a4a" stroke="#4a4a4a" stroke-width="0.14" >***</text>
<path d="M261.33 535.00 L261.33 533.40 L270.36 533.40 L270.36 535.20" fill="none" stroke="#4a4a4a" stroke-width="0.45" />
<text x="265.85" y="534.90" font-size="5.0" text-anchor="middle" fill="#4a4a4a" stroke="#4a4a4a" stroke-width="0.14" >**</text>
<line x1="284.62" y1="544.90" x2="284.62" y2="543.99" stroke="#c8b4b8" stroke-width="0.5" />
<line x1="283.52" y1="543.99" x2="285.73" y2="543.99" stroke="#c8b4b8" stroke-width="0.5" />
<rect x="280.70" y="544.90" width="7.85" height="91.50" fill="#1a1a1a" />
<line x1="292.48" y1="537.58" x2="292.48" y2="537.12" stroke="#c8b4b8" stroke-width="0.5" />
<line x1="291.38" y1="537.12" x2="293.58" y2="537.12" stroke="#c8b4b8" stroke-width="0.5" />
<rect x="288.55" y="537.58" width="7.85" height="98.82" fill="#e3202a" />
<line x1="300.32" y1="546.73" x2="300.32" y2="546.27" stroke="#c8b4b8" stroke-width="0.5" />
<line x1="299.22" y1="546.27" x2="301.43" y2="546.27" stroke="#c8b4b8" stroke-width="0.5" />
<rect x="296.40" y="546.73" width="7.85" height="89.67" fill="#3a4ea6" />
<line x1="308.18" y1="619.01" x2="308.18" y2="618.10" stroke="#c8b4b8" stroke-width="0.5" />
<line x1="307.07" y1="618.10" x2="309.28" y2="618.10" stroke="#c8b4b8" stroke-width="0.5" />
<rect x="304.25" y="619.01" width="7.85" height="17.39" fill="#a8509e" />
<line x1="296.40" y1="636.40" x2="296.40" y2="637.70" stroke="#231f20" stroke-width="0.5" />
<text x="296.40" y="645.00" font-size="5.4" text-anchor="middle" stroke="#231f20" stroke-width="0.14" >AML1566</text>
<path d="M288.94 525.50 L288.94 523.90 L308.96 523.90 L308.96 525.70" fill="none" stroke="#4a4a4a" stroke-width="0.45" />
<text x="298.95" y="525.40" font-size="5.0" text-anchor="middle" fill="#4a4a4a" stroke="#4a4a4a" stroke-width="0.14" >****</text>
<path d="M294.44 530.20 L294.44 528.60 L308.96 528.60 L308.96 530.40" fill="none" stroke="#4a4a4a" stroke-width="0.45" />
<text x="301.70" y="530.10" font-size="5.0" text-anchor="middle" fill="#4a4a4a" stroke="#4a4a4a" stroke-width="0.14" >****</text>
<path d="M299.93 535.00 L299.93 533.40 L308.96 533.40 L308.96 535.20" fill="none" stroke="#4a4a4a" stroke-width="0.45" />
<text x="304.45" y="534.90" font-size="5.0" text-anchor="middle" fill="#4a4a4a" stroke="#4a4a4a" stroke-width="0.14" >****</text>
<path d="M193.80 509.70 L193.80 508.20 L308.20 508.20 L308.20 509.70" fill="none" stroke="#c784c0" stroke-width="0.45" />
<text x="246.60" y="509.70" font-size="5.0" text-anchor="middle" fill="#c784c0" stroke="#c784c0" stroke-width="0.14" >***</text>
<path d="M234.10 513.90 L234.10 512.40 L308.20 512.40 L308.20 513.90" fill="none" stroke="#c784c0" stroke-width="0.45" />
<text x="246.60" y="513.90" font-size="5.0" text-anchor="middle" fill="#c784c0" stroke="#c784c0" stroke-width="0.14" >****</text>
<path d="M193.80 518.30 L193.80 516.80 L266.70 516.80 L266.70 518.30" fill="none" stroke="#c784c0" stroke-width="0.45" />
<text x="246.60" y="518.30" font-size="5.0" text-anchor="middle" fill="#c784c0" stroke="#c784c0" stroke-width="0.14" >**</text>
<path d="M234.10 522.20 L234.10 520.70 L266.70 520.70 L266.70 522.20" fill="none" stroke="#c784c0" stroke-width="0.45" />
<text x="246.60" y="522.20" font-size="5.0" text-anchor="middle" fill="#c784c0" stroke="#c784c0" stroke-width="0.14" >**</text>
<rect x="316.60" y="515.90" width="12.10" height="6.60" fill="#1a1a1a" />
<text x="330.40" y="520.50" font-size="5.2" stroke="#231f20" stroke-width="0.14" >Vehicle</text>
<rect x="316.60" y="522.40" width="12.10" height="6.60" fill="#e3202a" />
<text x="330.40" y="526.95" font-size="5.2" stroke="#231f20" stroke-width="0.14" >Ara-C (rel. low dose)</text>
<rect x="316.60" y="528.90" width="12.10" height="6.60" fill="#3a4ea6" />
<text x="330.40" y="533.40" font-size="5.2" stroke="#231f20" stroke-width="0.14" >ATRi (BAY-1895344)</text>
<rect x="316.60" y="535.40" width="12.10" height="6.60" fill="#a8509e" />
<text x="330.40" y="539.85" font-size="5.2" stroke="#231f20" stroke-width="0.14" >Ara-C+ATRi (BAY-1895344)</text>
<text x="92.20" y="7.90" font-size="10.5" font-weight="bold" fill="#000" >B</text>
<path d="M193.8 125.4L212.0 127.0M191.5 107.0L193.8 125.4M218.5 151.5L232.0 154.0M291.0 43.3L262.0 64.4M218.5 151.5L238.5 136.0M259.8 155.4L261.7 130.2M262.0 64.4L207.4 49.0M193.8 125.4L236.0 38.0M253.0 79.5L217.5 34.0M207.7 140.8L235.4 170.4M259.8 155.4L258.3 27.0M244.0 149.0L210.8 114.6M193.8 125.4L259.7 170.4M202.0 183.3L261.7 130.2M259.7 170.4L263.0 45.0M261.7 130.2L247.3 16.3M226.0 136.0L248.5 26.7M237.7 25.4L258.3 27.0M291.0 43.3L266.2 92.3M244.0 149.0L277.5 17.3M191.5 107.0L240.0 60.0M193.8 125.4L232.0 154.0M291.0 43.3L226.0 136.0M290.4 66.3L259.8 155.4M252.5 61.7L200.0 150.0M247.3 16.3L275.8 173.9M217.5 34.0L191.5 107.0M259.7 170.4L225.6 46.0M227.7 110.0L212.0 127.0M217.5 34.0L243.5 173.7M278.5 102.3L240.0 60.0M290.4 66.3L218.5 151.5M252.5 61.7L277.5 17.3M248.5 26.7L197.0 138.0M207.4 49.0L210.8 114.6M207.4 49.0L252.5 61.7M182.0 104.8L248.5 26.7M277.5 17.3L245.8 175.0M247.3 16.3L275.6 65.4M275.6 65.4L237.7 25.4M238.5 136.0L182.0 104.8M243.5 173.7L210.8 114.6M227.7 110.0L248.5 26.7M197.0 138.0L259.8 155.4M291.0 43.3L245.8 175.0M225.6 46.0L230.0 56.0M217.5 34.0L236.0 38.0M230.0 56.0L247.3 16.3M227.7 110.0L211.4 69.8M228.0 71.0L266.2 92.3M243.5 173.7L207.4 49.0M247.3 16.3L237.7 25.4M191.5 107.0L200.0 150.0M262.0 64.4L245.8 175.0M212.0 127.0L291.0 43.3M193.8 125.4L218.5 151.5M291.0 43.3L232.7 189.6M228.0 71.0L227.7 110.0M259.7 170.4L182.0 104.8M211.4 69.8L210.8 114.6M227.7 110.0L275.6 65.4M247.3 16.3L225.6 46.0M232.0 154.0L236.0 38.0M277.5 17.3L275.6 65.4M262.0 64.4L210.8 114.6M244.0 149.0L259.7 170.4M197.0 138.0L207.4 49.0M258.3 27.0L253.0 79.5M275.6 65.4L193.8 125.4M278.5 102.3L247.3 16.3M261.7 130.2L230.0 56.0M252.5 61.7L182.0 104.8M248.5 26.7L248.5 26.7M217.5 34.0L275.6 65.4M232.0 154.0L259.8 155.4M266.2 92.3L247.3 16.3M244.0 149.0L276.0 101.3M276.0 101.3L261.7 130.2M191.5 107.0L228.0 71.0M232.0 154.0L238.5 136.0M197.0 138.0L228.0 71.0M182.0 104.8L262.0 64.4M259.8 155.4L253.0 79.5M236.0 38.0L290.4 66.3M261.7 130.2L266.2 92.3M232.7 189.6L291.0 43.3M263.0 45.0L202.0 183.3M259.8 155.4L212.0 127.0M291.0 43.3L245.8 175.0M182.0 104.8L238.5 136.0M244.0 149.0L217.5 34.0M227.7 110.0L237.7 25.4M207.4 49.0L207.4 49.0M258.3 27.0L218.5 151.5M278.5 102.3L266.2 92.3M202.0 183.3L243.5 173.7M210.8 114.6L278.5 102.3M227.7 110.0L244.0 149.0M200.0 150.0L252.5 61.7M226.0 136.0L262.0 64.4M232.7 189.6L248.5 26.7M228.0 71.0L290.4 66.3M238.5 136.0L212.0 127.0M259.7 170.4L261.7 130.2M261.7 130.2L248.5 26.7M225.6 46.0L275.6 65.4M275.6 65.4L202.0 183.3M277.5 17.3L248.5 26.7M225.6 46.0L227.7 110.0M193.8 125.4L266.2 92.3M237.7 25.4L258.3 27.0M262.0 64.4L252.5 61.7M276.0 101.3L226.0 136.0M197.0 138.0L228.0 71.0M217.5 34.0L276.0 101.3M228.0 71.0L193.8 125.4M230.0 56.0L275.8 173.9M232.7 189.6L235.4 170.4M226.0 136.0L232.0 154.0M228.0 71.0L232.0 154.0M258.3 27.0L277.5 17.3M238.5 136.0L234.8 94.8M235.4 170.4L236.0 38.0M258.3 27.0L277.5 17.3M244.0 149.0L259.8 155.4M248.5 26.7L238.5 136.0M248.5 26.7L232.7 189.6M236.0 38.0L240.0 60.0M228.0 71.0L248.5 26.7M248.5 26.7L193.8 125.4M207.7 140.8L276.0 101.3M202.0 183.3L258.3 27.0M202.0 183.3L202.0 183.3M243.5 173.7L228.0 71.0M230.0 56.0L234.8 94.8M217.5 34.0L245.8 175.0M238.5 136.0L248.5 26.7M227.7 110.0L277.5 17.3M200.0 150.0L197.0 138.0M247.3 16.3L261.7 130.2M275.8 173.9L182.0 104.8M182.0 104.8L232.0 154.0M247.3 16.3L244.0 149.0M248.5 26.7L217.5 34.0M217.5 34.0L259.8 155.4M211.4 69.8L278.5 102.3M227.7 110.0L232.7 189.6M230.0 56.0L182.0 104.8M202.0 183.3L235.4 170.4M232.0 154.0L191.5 107.0M193.8 125.4L191.5 107.0M207.7 140.8L217.5 34.0M226.0 136.0L218.5 151.5M277.5 17.3L236.0 38.0M244.0 149.0L217.5 34.0M238.5 136.0L277.5 17.3M290.4 66.3L235.4 170.4M211.4 69.8L200.0 150.0M261.7 130.2L275.8 173.9M200.0 150.0L278.5 102.3M247.3 16.3L276.0 101.3M236.0 38.0L253.0 79.5M245.8 175.0L261.7 130.2M291.0 43.3L226.0 136.0M263.0 45.0L230.0 56.0M275.8 173.9L193.8 125.4M200.0 150.0L266.2 92.3M240.0 60.0L210.8 114.6M275.8 173.9L278.5 102.3M291.0 43.3L259.8 155.4M237.0 119.2L291.0 43.3M275.6 65.4L182.0 104.8M290.4 66.3L232.0 154.0M240.0 60.0L275.6 65.4M228.0 71.0L228.0 71.0M200.0 150.0L234.8 94.8M258.3 27.0L243.5 173.7M248.5 26.7L225.6 46.0M263.0 45.0L211.4 69.8M193.8 125.4L238.5 136.0M225.6 46.0L275.6 65.4M227.7 110.0L182.0 104.8M259.8 155.4L226.0 136.0M200.0 150.0L245.8 175.0M240.0 60.0L243.5 173.7M261.7 130.2L193.8 125.4M240.0 60.0L248.5 26.7M258.3 27.0L225.6 46.0M244.0 149.0L258.3 27.0M245.8 175.0L243.5 173.7M225.6 46.0L197.0 138.0M234.8 94.8L236.0 38.0M259.7 170.4L197.0 138.0M277.5 17.3L259.7 170.4M228.0 71.0L210.8 114.6M191.5 107.0L291.0 43.3M277.5 17.3L225.6 46.0M266.2 92.3L253.0 79.5M237.7 25.4L259.8 155.4M211.4 69.8L193.8 125.4M207.4 49.0L259.8 155.4M207.7 140.8L259.7 170.4M259.8 155.4L276.0 101.3M248.5 26.7L245.8 175.0M291.0 43.3L291.0 43.3M238.5 136.0L278.5 102.3M262.0 64.4L243.5 173.7M247.3 16.3L238.5 136.0M207.7 140.8L243.5 173.7M258.3 27.0L262.0 64.4M290.4 66.3L225.6 46.0M234.8 94.8L207.7 140.8M235.4 170.4L226.0 136.0M218.5 151.5L261.7 130.2M263.0 45.0L210.8 114.6M235.4 170.4L290.4 66.3M217.5 34.0L227.7 110.0M232.7 189.6L182.0 104.8M228.0 71.0L193.8 125.4M191.5 107.0L291.0 43.3M259.8 155.4L247.3 16.3M182.0 104.8L212.0 127.0M197.0 138.0L259.7 170.4M218.5 151.5L230.0 56.0M191.5 107.0L240.0 60.0M259.7 170.4L275.6 65.4M207.4 49.0L232.7 189.6M259.7 170.4L243.5 173.7M211.4 69.8L275.6 65.4M266.2 92.3L182.0 104.8M217.5 34.0L236.0 38.0M207.7 140.8L240.0 60.0M278.5 102.3L243.5 173.7M277.5 17.3L234.8 94.8M218.5 151.5L217.5 34.0M258.3 27.0L193.8 125.4M230.0 56.0L212.0 127.0M227.7 110.0L225.6 46.0M200.0 150.0L277.5 17.3M275.6 65.4L248.5 26.7M237.0 119.2L258.3 27.0M262.0 64.4L207.7 140.8M230.0 56.0L245.8 175.0M228.0 71.0L238.5 136.0M253.0 79.5L226.0 136.0M232.7 189.6L226.0 136.0M245.8 175.0L235.4 170.4M193.8 125.4L200.0 150.0M232.0 154.0L235.4 170.4M217.5 34.0L290.4 66.3M193.8 125.4L226.0 136.0M212.0 127.0L252.5 61.7M232.7 189.6L212.0 127.0M259.8 155.4L263.0 45.0M226.0 136.0L218.5 151.5M212.0 127.0L278.5 102.3M236.0 38.0L275.8 173.9M182.0 104.8L261.7 130.2M275.6 65.4L236.0 38.0M253.0 79.5L207.7 140.8M226.0 136.0L225.6 46.0M197.0 138.0L200.0 150.0M291.0 43.3L227.7 110.0M207.7 140.8L211.4 69.8M218.5 151.5L247.3 16.3M244.0 149.0L182.0 104.8M277.5 17.3L207.7 140.8M258.3 27.0L226.0 136.0M210.8 114.6L207.7 140.8M197.0 138.0L211.4 69.8M200.0 150.0L217.5 34.0M235.4 170.4L263.0 45.0M248.5 26.7L207.7 140.8M191.5 107.0L227.7 110.0M210.8 114.6L225.6 46.0M266.2 92.3L238.5 136.0M200.0 150.0L228.0 71.0M230.0 56.0L237.0 119.2M238.5 136.0L226.0 136.0M240.0 60.0L207.4 49.0M291.0 43.3L227.7 110.0M261.7 130.2L277.5 17.3M278.5 102.3L228.0 71.0M235.4 170.4L277.5 17.3M258.3 27.0L291.0 43.3M253.0 79.5L290.4 66.3M247.3 16.3L245.8 175.0M252.5 61.7L240.0 60.0M232.7 189.6L234.8 94.8M266.2 92.3L261.7 130.2M200.0 150.0L207.4 49.0M200.0 150.0L232.7 189.6M232.0 154.0L211.4 69.8M218.5 151.5L261.7 130.2M278.5 102.3L243.5 173.7M291.0 43.3L235.4 170.4M226.0 136.0L237.0 119.2M277.5 17.3L182.0 104.8M259.8 155.4L227.7 110.0M226.0 136.0L261.7 130.2M263.0 45.0L207.7 140.8M275.6 65.4L259.8 155.4M207.7 140.8L259.8 155.4M275.6 65.4L226.0 136.0M275.6 65.4L207.7 140.8M261.7 130.2L232.0 154.0M228.0 71.0L290.4 66.3M202.0 183.3L259.8 155.4M234.8 94.8L262.0 64.4M240.0 60.0L244.0 149.0M240.0 60.0L291.0 43.3M275.6 65.4L291.0 43.3M207.4 49.0L228.0 71.0M266.2 92.3L228.0 71.0M232.7 189.6L217.5 34.0M278.5 102.3L182.0 104.8M207.4 49.0L237.0 119.2M227.7 110.0L207.7 140.8M243.5 173.7L228.0 71.0M291.0 43.3L210.8 114.6M259.8 155.4L245.8 175.0M277.5 17.3L207.4 49.0M291.0 43.3L197.0 138.0M245.8 175.0L234.8 94.8M276.0 101.3L211.4 69.8M243.5 173.7L218.5 151.5M259.8 155.4L230.0 56.0M218.5 151.5L245.8 175.0M291.0 43.3L248.5 26.7M238.5 136.0L207.4 49.0M277.5 17.3L258.3 27.0M212.0 127.0L261.7 130.2M218.5 151.5L197.0 138.0M238.5 136.0L253.0 79.5M291.0 43.3L262.0 64.4M211.4 69.8L275.6 65.4M262.0 64.4L263.0 45.0M252.5 61.7L245.8 175.0M207.4 49.0L232.0 154.0M237.7 25.4L228.0 71.0M245.8 175.0L191.5 107.0M248.5 26.7L207.4 49.0M240.0 60.0L210.8 114.6M191.5 107.0L237.0 119.2M218.5 151.5L234.8 94.8M237.0 119.2L275.6 65.4M244.0 149.0L276.0 101.3M247.3 16.3L259.8 155.4M235.4 170.4L258.3 27.0M291.0 43.3L262.0 64.4M227.7 110.0L191.5 107.0M276.0 101.3L202.0 183.3M276.0 101.3L210.8 114.6M291.0 43.3L244.0 149.0M263.0 45.0L207.4 49.0M218.5 151.5L247.3 16.3M240.0 60.0L217.5 34.0M243.5 173.7L259.8 155.4M210.8 114.6L197.0 138.0M244.0 149.0L291.0 43.3M218.5 151.5L232.0 154.0M230.0 56.0L278.5 102.3M225.6 46.0L211.4 69.8M202.0 183.3L202.0 183.3M263.0 45.0L210.8 114.6M228.0 71.0L230.0 56.0M207.7 140.8L235.4 170.4M276.0 101.3L237.0 119.2M262.0 64.4L210.8 114.6M275.6 65.4L232.7 189.6M262.0 64.4L248.5 26.7M230.0 56.0L236.0 38.0M238.5 136.0L207.4 49.0M247.3 16.3L234.8 94.8M259.8 155.4L261.7 130.2M237.7 25.4L290.4 66.3M225.6 46.0L275.8 173.9M236.0 38.0L230.0 56.0M275.6 65.4L275.8 173.9M210.8 114.6L197.0 138.0M262.0 64.4L207.7 140.8M248.5 26.7L182.0 104.8M218.5 151.5L200.0 150.0M259.7 170.4L275.6 65.4M235.4 170.4L211.4 69.8M210.8 114.6L197.0 138.0M277.5 17.3L211.4 69.8M261.7 130.2L207.4 49.0M202.0 183.3L266.2 92.3M278.5 102.3L193.8 125.4M210.8 114.6L218.5 151.5M237.7 25.4L291.0 43.3M259.7 170.4L182.0 104.8M247.3 16.3L207.4 49.0M278.5 102.3L278.5 102.3M225.6 46.0L230.0 56.0M212.0 127.0L207.7 140.8M218.5 151.5L227.7 110.0M226.0 136.0L197.0 138.0M207.4 49.0L259.8 155.4M193.8 125.4L259.7 170.4M248.5 26.7L212.0 127.0M244.0 149.0L275.8 173.9M258.3 27.0L182.0 104.8M263.0 45.0L182.0 104.8M238.5 136.0L263.0 45.0M200.0 150.0L207.7 140.8M261.7 130.2L244.0 149.0M237.7 25.4L237.0 119.2M200.0 150.0L227.7 110.0M252.5 61.7L226.0 136.0M210.8 114.6L244.0 149.0M236.0 38.0L276.0 101.3M226.0 136.0L252.5 61.7M238.5 136.0L259.7 170.4M225.6 46.0L212.0 127.0M252.5 61.7L275.8 173.9M243.5 173.7L202.0 183.3M252.5 61.7L277.5 17.3M247.3 16.3L266.2 92.3M232.0 154.0L258.3 27.0M259.8 155.4L263.0 45.0M227.7 110.0L245.8 175.0M182.0 104.8L237.7 25.4M240.0 60.0L202.0 183.3M210.8 114.6L237.7 25.4M232.0 154.0L232.7 189.6M240.0 60.0L248.5 26.7M290.4 66.3L237.0 119.2M232.7 189.6L238.5 136.0M278.5 102.3L266.2 92.3M258.3 27.0L226.0 136.0M207.4 49.0L232.7 189.6M191.5 107.0L253.0 79.5M266.2 92.3L244.0 149.0M243.5 173.7L211.4 69.8M237.7 25.4L261.7 130.2M227.7 110.0L191.5 107.0M211.4 69.8L275.6 65.4M237.7 25.4L234.8 94.8M226.0 136.0L253.0 79.5M211.4 69.8L276.0 101.3M193.8 125.4L228.0 71.0M275.8 173.9L227.7 110.0M191.5 107.0L244.0 149.0M278.5 102.3L259.8 155.4M232.0 154.0L245.8 175.0M227.7 110.0L276.0 101.3M202.0 183.3L226.0 136.0M228.0 71.0L252.5 61.7M232.7 189.6L228.0 71.0M266.2 92.3L238.5 136.0M211.4 69.8L218.5 151.5M236.0 38.0L218.5 151.5M261.7 130.2L234.8 94.8M225.6 46.0L225.6 46.0M261.7 130.2L245.8 175.0M232.7 189.6L197.0 138.0M235.4 170.4L232.0 154.0M291.0 43.3L259.8 155.4M225.6 46.0L266.2 92.3M291.0 43.3L266.2 92.3M218.5 151.5L259.7 170.4M291.0 43.3L245.8 175.0M258.3 27.0L259.8 155.4M237.7 25.4L247.3 16.3M225.6 46.0L278.5 102.3M237.0 119.2L277.5 17.3M261.7 130.2L258.3 27.0M207.4 49.0L290.4 66.3M207.7 140.8L225.6 46.0M248.5 26.7L217.5 34.0M245.8 175.0L263.0 45.0M212.0 127.0L266.2 92.3M259.8 155.4L276.0 101.3M238.5 136.0L238.5 136.0M234.8 94.8L275.6 65.4M230.0 56.0L230.0 56.0M200.0 150.0L202.0 183.3M228.0 71.0L248.5 26.7M211.4 69.8L193.8 125.4M261.7 130.2L275.6 65.4M193.8 125.4L237.0 119.2M202.0 183.3L278.5 102.3M182.0 104.8L253.0 79.5M276.0 101.3L253.0 79.5M259.7 170.4L244.0 149.0M240.0 60.0L252.5 61.7M212.0 127.0L202.0 183.3M262.0 64.4L237.0 119.2M259.7 170.4L276.0 101.3M232.0 154.0L207.4 49.0M191.5 107.0L240.0 60.0M217.5 34.0L207.7 140.8M217.5 34.0L237.0 119.2M197.0 138.0L197.0 138.0M200.0 150.0L245.8 175.0M191.5 107.0L236.0 38.0M247.3 16.3L248.5 26.7M236.0 38.0L275.6 65.4M275.8 173.9L244.0 149.0M217.5 34.0L235.4 170.4M236.0 38.0L200.0 150.0M232.7 189.6L235.4 170.4M240.0 60.0L252.5 61.7M253.0 79.5L290.4 66.3M234.8 94.8L275.8 173.9M232.7 189.6L240.0 60.0M276.0 101.3L211.4 69.8M240.0 60.0L243.5 173.7M193.8 125.4L197.0 138.0M244.0 149.0L245.8 175.0M225.6 46.0L193.8 125.4M226.0 136.0L236.0 38.0M191.5 107.0L240.0 60.0M290.4 66.3L210.8 114.6M232.7 189.6L226.0 136.0M266.2 92.3L217.5 34.0M276.0 101.3L276.0 101.3M277.5 17.3L276.0 101.3M153.7 26.0L245.8 175.0M153.7 26.0L210.8 114.6M153.7 26.0L232.0 154.0M153.7 26.0L182.0 104.8M153.7 26.0L291.0 43.3M153.7 26.0L202.0 183.3M153.7 26.0L197.0 138.0M153.7 26.0L276.0 101.3M153.7 26.0L182.0 104.8M153.7 26.0L207.7 140.8M153.7 26.0L253.0 79.5M153.7 26.0L182.0 104.8M153.7 26.0L182.0 104.8M153.7 26.0L130.8 147.3M153.7 26.0L140.0 148.0M153.7 26.0L151.0 153.3M153.7 26.0L127.4 129.6M147.9 43.3L290.4 66.3M147.9 43.3L226.0 136.0M147.9 43.3L237.7 25.4M147.9 43.3L207.7 140.8M147.9 43.3L263.0 45.0M147.9 43.3L197.0 138.0M147.9 43.3L252.5 61.7M147.9 43.3L277.5 17.3M147.9 43.3L259.7 170.4M147.9 43.3L237.0 119.2M147.9 43.3L248.5 26.7M147.9 43.3L138.0 138.0M147.9 43.3L151.0 153.3M147.9 43.3L138.0 138.0M147.9 43.3L130.8 147.3M147.9 43.3L165.8 154.6M147.9 43.3L130.8 147.3M103.1 96.5L225.6 46.0M103.1 96.5L202.0 183.3M103.1 96.5L207.4 49.0M103.1 96.5L240.0 60.0M103.1 96.5L217.5 34.0M103.1 96.5L277.5 17.3M103.1 96.5L259.8 155.4M103.1 96.5L259.7 170.4M103.1 96.5L253.0 79.5M103.1 96.5L207.4 49.0M103.1 96.5L202.0 183.3M103.1 96.5L164.4 145.2M103.1 96.5L177.9 138.5M103.1 96.5L177.9 138.5M103.1 96.5L155.0 145.0M103.1 96.5L170.0 128.0M103.1 96.5L165.8 154.6M83.1 108.1L191.5 107.0M83.1 108.1L210.8 114.6M83.1 108.1L234.8 94.8M83.1 108.1L230.0 56.0M83.1 108.1L230.0 56.0M83.1 108.1L245.8 175.0M83.1 108.1L228.0 71.0M83.1 108.1L200.0 150.0M83.1 108.1L200.0 150.0M83.1 108.1L207.7 140.8M83.1 108.1L232.7 189.6M83.1 108.1L130.8 147.3M83.1 108.1L126.2 139.6M83.1 108.1L164.4 145.2M83.1 108.1L147.0 137.0M83.1 108.1L127.4 129.6M83.1 108.1L160.4 133.0M91.5 122.7L217.5 34.0M91.5 122.7L191.5 107.0M91.5 122.7L207.7 140.8M91.5 122.7L259.8 155.4M91.5 122.7L277.5 17.3M91.5 122.7L226.0 136.0M91.5 122.7L276.0 101.3M91.5 122.7L243.5 173.7M91.5 122.7L247.3 16.3M91.5 122.7L211.4 69.8M91.5 122.7L227.7 110.0M91.5 122.7L164.4 145.2M91.5 122.7L173.8 98.0M91.5 122.7L177.9 138.5M91.5 122.7L182.0 104.8M91.5 122.7L160.4 133.0M91.5 122.7L182.0 104.8M127.4 129.6L240.0 60.0M127.4 129.6L275.6 65.4M127.4 129.6L182.0 104.8M127.4 129.6L237.0 119.2M127.4 129.6L226.0 136.0M127.4 129.6L252.5 61.7M127.4 129.6L225.6 46.0M127.4 129.6L237.7 25.4M127.4 129.6L238.5 136.0M127.4 129.6L236.0 38.0M127.4 129.6L232.7 189.6M127.4 129.6L156.3 94.0M127.4 129.6L151.0 153.3M127.4 129.6L173.8 98.0M127.4 129.6L182.0 104.8M127.4 129.6L126.2 139.6M127.4 129.6L140.0 148.0M126.2 139.6L277.5 17.3M126.2 139.6L232.0 154.0M126.2 139.6L238.5 136.0M126.2 139.6L258.3 27.0M126.2 139.6L240.0 60.0M126.2 139.6L207.4 49.0M126.2 139.6L291.0 43.3M126.2 139.6L262.0 64.4M126.2 139.6L234.8 94.8M126.2 139.6L275.6 65.4M126.2 139.6L232.0 154.0M126.2 139.6L177.9 138.5M126.2 139.6L155.0 145.0M126.2 139.6L170.0 128.0M126.2 139.6L177.9 138.5M126.2 139.6L140.0 148.0M126.2 139.6L182.0 104.8M130.8 147.3L225.6 46.0M130.8 147.3L210.8 114.6M130.8 147.3L262.0 64.4M130.8 147.3L236.0 38.0M130.8 147.3L259.8 155.4M130.8 147.3L212.0 127.0M130.8 147.3L212.0 127.0M130.8 147.3L238.5 136.0M130.8 147.3L278.5 102.3M130.8 147.3L200.0 150.0M130.8 147.3L210.8 114.6M130.8 147.3L165.8 154.6M130.8 147.3L138.0 138.0M130.8 147.3L130.8 147.3M130.8 147.3L155.0 145.0M130.8 147.3L177.9 138.5M130.8 147.3L160.4 133.0M323.3 128.8L237.7 25.4M323.3 128.8L275.6 65.4M323.3 128.8L228.0 71.0M323.3 128.8L182.0 104.8M323.3 128.8L226.0 136.0M323.3 128.8L226.0 136.0M323.3 128.8L225.6 46.0M323.3 128.8L237.7 25.4M323.3 128.8L275.8 173.9M323.3 128.8L266.2 92.3M323.3 128.8L247.3 16.3M202.0 183.3L238.5 136.0M202.0 183.3L276.0 101.3M202.0 183.3L193.8 125.4M202.0 183.3L266.2 92.3M202.0 183.3L243.5 173.7M202.0 183.3L227.7 110.0M202.0 183.3L244.0 149.0M202.0 183.3L263.0 45.0M202.0 183.3L227.7 110.0M202.0 183.3L263.0 45.0M202.0 183.3L240.0 60.0M250.4 208.0L253.0 79.5M250.4 208.0L278.5 102.3M250.4 208.0L226.0 136.0M250.4 208.0L228.0 71.0M250.4 208.0L259.8 155.4M250.4 208.0L202.0 183.3M250.4 208.0L261.7 130.2M250.4 208.0L225.6 46.0M250.4 208.0L226.0 136.0M250.4 208.0L207.7 140.8M250.4 208.0L237.7 25.4M250.4 225.8L253.0 79.5M250.4 225.8L197.0 138.0M250.4 225.8L262.0 64.4M250.4 225.8L247.3 16.3M250.4 225.8L275.6 65.4M250.4 225.8L253.0 79.5M250.4 225.8L228.0 71.0M250.4 225.8L217.5 34.0M250.4 225.8L234.8 94.8M250.4 225.8L225.6 46.0M250.4 225.8L261.7 130.2M309.3 198.5L243.5 173.7M309.3 198.5L226.0 136.0M309.3 198.5L207.4 49.0M309.3 198.5L238.5 136.0M309.3 198.5L235.4 170.4M309.3 198.5L191.5 107.0M309.3 198.5L217.5 34.0M309.3 198.5L202.0 183.3M309.3 198.5L232.0 154.0M309.3 198.5L207.7 140.8M309.3 198.5L218.5 151.5M330.8 207.3L236.0 38.0M330.8 207.3L277.5 17.3M330.8 207.3L291.0 43.3M330.8 207.3L227.7 110.0M330.8 207.3L291.0 43.3M330.8 207.3L245.8 175.0M330.8 207.3L217.5 34.0M330.8 207.3L193.8 125.4M330.8 207.3L275.6 65.4M330.8 207.3L258.3 27.0M330.8 207.3L207.7 140.8M324.0 33.0L227.7 110.0M324.0 33.0L226.0 136.0M324.0 33.0L200.0 150.0M324.0 33.0L263.0 45.0M324.0 33.0L236.0 38.0M324.0 33.0L240.0 60.0M324.0 33.0L236.0 38.0M324.0 33.0L210.8 114.6M324.0 33.0L248.5 26.7M324.0 33.0L212.0 127.0M324.0 33.0L236.0 38.0" stroke="#a6b6ba" stroke-width="0.3" fill="none" opacity="0.78"/>
<path d="M288.5 221.6L320.4 232.7M288.5 221.6L298.9 242.4M288.5 221.6L278.0 244.7M288.5 221.6L335.8 259.7M288.5 221.6L330.0 268.9M307.4 223.4L278.0 244.7M307.4 223.4L318.5 248.8M278.8 232.7L320.4 232.7M278.8 232.7L335.8 259.7M278.8 232.7L330.0 268.9M320.4 232.7L298.9 242.4M320.4 232.7L278.0 244.7M320.4 232.7L318.5 248.8M320.4 232.7L277.6 261.3M320.4 232.7L335.8 259.7M320.4 232.7L330.0 268.9M298.9 242.4L278.0 244.7M298.9 242.4L277.6 261.3M298.9 242.4L318.0 262.0M298.9 242.4L335.8 259.7M298.9 242.4L330.0 268.9M278.0 244.7L297.7 261.3M278.0 244.7L318.0 262.0M278.0 244.7L330.0 268.9M318.5 248.8L297.7 261.3M318.5 248.8L330.0 268.9M277.6 261.3L297.7 261.3M277.6 261.3L318.0 262.0M318.0 262.0L330.0 268.9M288.5 221.6L250.4 208.0M288.5 221.6L250.4 225.8M307.4 223.4L250.4 208.0M307.4 223.4L309.3 198.5M307.4 223.4L330.8 207.3M278.8 232.7L250.4 208.0M278.8 232.7L309.3 198.5M278.8 232.7L330.8 207.3M278.8 232.7L250.4 225.8M320.4 232.7L309.3 198.5M320.4 232.7L250.4 225.8M298.9 242.4L250.4 208.0M278.0 244.7L250.4 208.0M318.5 248.8L330.8 207.3M277.6 261.3L309.3 198.5M277.6 261.3L330.8 207.3M277.6 261.3L250.4 225.8M297.7 261.3L250.4 208.0M297.7 261.3L309.3 198.5M297.7 261.3L250.4 225.8M318.0 262.0L309.3 198.5M318.0 262.0L250.4 225.8M335.8 259.7L330.8 207.3M330.0 268.9L250.4 208.0M330.0 268.9L250.4 225.8" stroke="#c8cacb" stroke-width="0.3" fill="none" opacity="0.8"/>
<circle cx="153.70" cy="26.00" r="2.50" fill="#d8262c" stroke="#7a1216" stroke-width="0.35"/>
<circle cx="147.90" cy="43.30" r="2.70" fill="#d8262c" stroke="#7a1216" stroke-width="0.35"/>
<circle cx="103.10" cy="96.50" r="4.00" fill="#d8262c" stroke="#7a1216" stroke-width="0.35"/>
<circle cx="83.10" cy="108.10" r="1.80" fill="#8e171b" stroke="#5a0c10" stroke-width="0.35"/>
<circle cx="91.50" cy="122.70" r="3.00" fill="#d8262c" stroke="#7a1216" stroke-width="0.35"/>
<circle cx="127.40" cy="129.60" r="3.50" fill="#d8262c" stroke="#7a1216" stroke-width="0.35"/>
<circle cx="126.20" cy="139.60" r="3.50" fill="#d8262c" stroke="#7a1216" stroke-width="0.35"/>
<circle cx="130.80" cy="147.30" r="4.00" fill="#d8262c" stroke="#7a1216" stroke-width="0.35"/>
<circle cx="247.30" cy="16.30" r="6.00" fill="#d8262c" stroke="#7a1216" stroke-width="0.35"/>
<circle cx="277.50" cy="17.30" r="5.50" fill="#b81e23" stroke="#7a1216" stroke-width="0.35"/>
<circle cx="258.30" cy="27.00" r="5.50" fill="#d8262c" stroke="#7a1216" stroke-width="0.35"/>
<circle cx="237.70" cy="25.40" r="6.00" fill="#d8262c" stroke="#7a1216" stroke-width="0.35"/>
<circle cx="248.50" cy="26.70" r="7.00" fill="#d8262c" stroke="#7a1216" stroke-width="0.35"/>
<circle cx="217.50" cy="34.00" r="6.70" fill="#d8262c" stroke="#7a1216" stroke-width="0.35"/>
<circle cx="207.40" cy="49.00" r="6.50" fill="#d8262c" stroke="#7a1216" stroke-width="0.35"/>
<circle cx="211.40" cy="69.80" r="9.00" fill="#8e171b" stroke="#5a0c10" stroke-width="0.35"/>
<circle cx="228.00" cy="71.00" r="8.00" fill="#d8262c" stroke="#7a1216" stroke-width="0.35"/>
<circle cx="253.00" cy="79.50" r="9.00" fill="#d8262c" stroke="#7a1216" stroke-width="0.35"/>
<circle cx="263.00" cy="45.00" r="6.50" fill="#d8262c" stroke="#7a1216" stroke-width="0.35"/>
<circle cx="262.00" cy="64.40" r="6.50" fill="#d8262c" stroke="#7a1216" stroke-width="0.35"/>
<circle cx="291.00" cy="43.30" r="5.50" fill="#d8262c" stroke="#7a1216" stroke-width="0.35"/>
<circle cx="275.60" cy="65.40" r="7.00" fill="#8e171b" stroke="#5a0c10" stroke-width="0.35"/>
<circle cx="290.40" cy="66.30" r="8.00" fill="#8e171b" stroke="#5a0c10" stroke-width="0.35"/>
<circle cx="266.20" cy="92.30" r="6.50" fill="#d8262c" stroke="#7a1216" stroke-width="0.35"/>
<circle cx="278.50" cy="102.30" r="6.00" fill="#d8262c" stroke="#7a1216" stroke-width="0.35"/>
<circle cx="225.60" cy="46.00" r="7.00" fill="#d8262c" stroke="#7a1216" stroke-width="0.35"/>
<circle cx="252.50" cy="61.70" r="8.00" fill="#d8262c" stroke="#7a1216" stroke-width="0.35"/>
<circle cx="236.00" cy="38.00" r="6.00" fill="#d8262c" stroke="#7a1216" stroke-width="0.35"/>
<circle cx="240.00" cy="60.00" r="7.00" fill="#d8262c" stroke="#7a1216" stroke-width="0.35"/>
<circle cx="230.00" cy="56.00" r="6.00" fill="#d8262c" stroke="#7a1216" stroke-width="0.35"/>
<circle cx="324.00" cy="33.00" r="1.50" fill="#8e171b" stroke="#5a0c10" stroke-width="0.35"/>
<circle cx="234.80" cy="94.80" r="7.00" fill="#d8262c" stroke="#7a1216" stroke-width="0.35"/>
<circle cx="276.00" cy="101.30" r="5.00" fill="#d8262c" stroke="#7a1216" stroke-width="0.35"/>
<circle cx="156.30" cy="94.00" r="5.00" fill="#d8262c" stroke="#7a1216" stroke-width="0.35"/>
<circle cx="173.80" cy="98.00" r="9.00" fill="#d8262c" stroke="#7a1216" stroke-width="0.35"/>
<circle cx="182.00" cy="104.80" r="9.00" fill="#d8262c" stroke="#7a1216" stroke-width="0.35"/>
<circle cx="179.20" cy="123.60" r="8.00" fill="#8e171b" stroke="#5a0c10" stroke-width="0.35"/>
<circle cx="177.90" cy="138.50" r="9.00" fill="#d8262c" stroke="#7a1216" stroke-width="0.35"/>
<circle cx="172.50" cy="116.20" r="6.00" fill="#d8262c" stroke="#7a1216" stroke-width="0.35"/>
<circle cx="151.00" cy="153.30" r="7.00" fill="#d8262c" stroke="#7a1216" stroke-width="0.35"/>
<circle cx="165.80" cy="154.60" r="8.00" fill="#d8262c" stroke="#7a1216" stroke-width="0.35"/>
<circle cx="147.00" cy="137.00" r="8.00" fill="#d8262c" stroke="#7a1216" stroke-width="0.35"/>
<circle cx="160.40" cy="133.00" r="9.00" fill="#d8262c" stroke="#7a1216" stroke-width="0.35"/>
<circle cx="164.40" cy="145.20" r="8.00" fill="#d8262c" stroke="#7a1216" stroke-width="0.35"/>
<circle cx="140.00" cy="148.00" r="6.00" fill="#d8262c" stroke="#7a1216" stroke-width="0.35"/>
<circle cx="155.00" cy="145.00" r="7.00" fill="#d8262c" stroke="#7a1216" stroke-width="0.35"/>
<circle cx="170.00" cy="128.00" r="6.00" fill="#d8262c" stroke="#7a1216" stroke-width="0.35"/>
<circle cx="138.00" cy="138.00" r="5.00" fill="#d8262c" stroke="#7a1216" stroke-width="0.35"/>
<circle cx="210.80" cy="114.60" r="10.00" fill="#8e171b" stroke="#5a0c10" stroke-width="0.35"/>
<circle cx="227.70" cy="110.00" r="12.00" fill="#8e171b" stroke="#5a0c10" stroke-width="0.35"/>
<circle cx="237.00" cy="119.20" r="9.00" fill="#d8262c" stroke="#7a1216" stroke-width="0.35"/>
<circle cx="193.80" cy="125.40" r="10.00" fill="#d8262c" stroke="#7a1216" stroke-width="0.35"/>
<circle cx="191.50" cy="107.00" r="7.00" fill="#d8262c" stroke="#7a1216" stroke-width="0.35"/>
<circle cx="238.50" cy="136.00" r="11.00" fill="#d8262c" stroke="#7a1216" stroke-width="0.35"/>
<circle cx="200.00" cy="150.00" r="10.00" fill="#d8262c" stroke="#7a1216" stroke-width="0.35"/>
<circle cx="218.50" cy="151.50" r="10.00" fill="#d8262c" stroke="#7a1216" stroke-width="0.35"/>
<circle cx="226.00" cy="136.00" r="9.00" fill="#d8262c" stroke="#7a1216" stroke-width="0.35"/>
<circle cx="207.70" cy="140.80" r="8.00" fill="#d8262c" stroke="#7a1216" stroke-width="0.35"/>
<circle cx="212.00" cy="127.00" r="8.00" fill="#d8262c" stroke="#7a1216" stroke-width="0.35"/>
<circle cx="197.00" cy="138.00" r="7.00" fill="#d8262c" stroke="#7a1216" stroke-width="0.35"/>
<circle cx="232.00" cy="154.00" r="8.00" fill="#d8262c" stroke="#7a1216" stroke-width="0.35"/>
<circle cx="244.00" cy="149.00" r="6.00" fill="#d8262c" stroke="#7a1216" stroke-width="0.35"/>
<circle cx="261.70" cy="130.20" r="11.00" fill="#d8262c" stroke="#7a1216" stroke-width="0.35"/>
<circle cx="259.80" cy="155.40" r="7.00" fill="#d8262c" stroke="#7a1216" stroke-width="0.35"/>
<circle cx="323.30" cy="128.80" r="4.00" fill="#d8262c" stroke="#7a1216" stroke-width="0.35"/>
<circle cx="259.70" cy="170.40" r="8.00" fill="#d8262c" stroke="#7a1216" stroke-width="0.35"/>
<circle cx="275.80" cy="173.90" r="10.00" fill="#d8262c" stroke="#7a1216" stroke-width="0.35"/>
<circle cx="245.80" cy="175.00" r="4.50" fill="#d8262c" stroke="#7a1216" stroke-width="0.35"/>
<circle cx="235.40" cy="170.40" r="6.00" fill="#d8262c" stroke="#7a1216" stroke-width="0.35"/>
<circle cx="243.50" cy="173.70" r="5.00" fill="#d8262c" stroke="#7a1216" stroke-width="0.35"/>
<circle cx="232.70" cy="189.60" r="10.00" fill="#8e171b" stroke="#5a0c10" stroke-width="0.35"/>
<circle cx="202.00" cy="183.30" r="5.50" fill="#d8262c" stroke="#7a1216" stroke-width="0.35"/>
<circle cx="250.40" cy="208.00" r="4.00" fill="#d8262c" stroke="#7a1216" stroke-width="0.35"/>
<circle cx="250.40" cy="225.80" r="3.00" fill="#d8262c" stroke="#7a1216" stroke-width="0.35"/>
<circle cx="309.30" cy="198.50" r="4.50" fill="#8e171b" stroke="#5a0c10" stroke-width="0.35"/>
<circle cx="330.80" cy="207.30" r="3.00" fill="#8e171b" stroke="#5a0c10" stroke-width="0.35"/>
<circle cx="340.50" cy="252.70" r="2.50" fill="#8e171b" stroke="#5a0c10" stroke-width="0.35"/>
<circle cx="288.50" cy="221.60" r="3.00" fill="#eab0b2" stroke="#d89a9c" stroke-width="0.3"/>
<circle cx="307.40" cy="223.40" r="4.50" fill="#eab0b2" stroke="#d89a9c" stroke-width="0.3"/>
<circle cx="278.80" cy="232.70" r="4.00" fill="#eab0b2" stroke="#d89a9c" stroke-width="0.3"/>
<circle cx="320.40" cy="232.70" r="4.00" fill="#eab0b2" stroke="#d89a9c" stroke-width="0.3"/>
<circle cx="298.90" cy="242.40" r="4.50" fill="#eab0b2" stroke="#d89a9c" stroke-width="0.3"/>
<circle cx="278.00" cy="244.70" r="3.50" fill="#eab0b2" stroke="#d89a9c" stroke-width="0.3"/>
<circle cx="318.50" cy="248.80" r="4.00" fill="#eab0b2" stroke="#d89a9c" stroke-width="0.3"/>
<circle cx="277.60" cy="261.30" r="2.50" fill="#eab0b2" stroke="#d89a9c" stroke-width="0.3"/>
<circle cx="297.70" cy="261.30" r="4.00" fill="#eab0b2" stroke="#d89a9c" stroke-width="0.3"/>
<circle cx="318.00" cy="262.00" r="4.00" fill="#eab0b2" stroke="#d89a9c" stroke-width="0.3"/>
<circle cx="335.80" cy="259.70" r="3.00" fill="#eab0b2" stroke="#d89a9c" stroke-width="0.3"/>
<circle cx="330.00" cy="268.90" r="2.50" fill="#eab0b2" stroke="#d89a9c" stroke-width="0.3"/>
<rect x="211.40" y="33.50" width="49.20" height="38.30" fill="#fff" opacity="0.64"/>
<rect x="130.00" y="99.40" width="45.20" height="57.90" fill="#fff" opacity="0.64"/>
<rect x="185.50" y="99.80" width="66.50" height="70.20" fill="#fff" opacity="0.64"/>
<text x="237.70" y="51.20" font-size="5.6" text-anchor="middle" font-weight="bold" fill="#2a1a1a" >ECM modulation/</text>
<text x="237.70" y="57.60" font-size="5.6" text-anchor="middle" font-weight="bold" fill="#2a1a1a" >EMT</text>
<text x="153.00" y="122.20" font-size="5.6" text-anchor="middle" font-weight="bold" fill="#2a1a1a" >Inflammation/</text>
<text x="153.00" y="128.20" font-size="5.6" text-anchor="middle" font-weight="bold" fill="#2a1a1a" >IFN-gamma</text>
<text x="153.00" y="134.90" font-size="5.6" text-anchor="middle" font-weight="bold" fill="#2a1a1a" >signaling</text>
<text x="215.60" y="131.40" font-size="5.6" text-anchor="middle" font-weight="bold" fill="#2a1a1a" >Cytokine</text>
<text x="215.60" y="138.00" font-size="5.6" text-anchor="middle" font-weight="bold" fill="#2a1a1a" >signaling</text>
<text x="298.90" y="246.00" font-size="5.6" text-anchor="middle" font-weight="bold" fill="#2a1a1a" >Metabolism</text>
<line x1="190.16" y1="23.29" x2="109.56" y2="142.09" stroke="#3a4448" stroke-width="0.5" />
<line x1="191.64" y1="24.31" x2="111.04" y2="143.11" stroke="#3a4448" stroke-width="0.5" />
<line x1="302.93" y1="28.70" x2="333.43" y2="53.70" stroke="#3a4448" stroke-width="0.5" />
<line x1="304.07" y1="27.30" x2="334.57" y2="52.30" stroke="#3a4448" stroke-width="0.5" />
<line x1="220.46" y1="207.47" x2="322.86" y2="184.67" stroke="#3a4448" stroke-width="0.5" />
<line x1="219.94" y1="205.13" x2="322.34" y2="182.33" stroke="#3a4448" stroke-width="0.5" />
<text x="157.50" y="18.90" font-size="3.4" text-anchor="middle" fill="#404040" textLength="19" lengthAdjust="spacingAndGlyphs" >REACTOME_</text>
<text x="160.20" y="22.60" font-size="3.4" text-anchor="middle" fill="#404040" textLength="26.3" lengthAdjust="spacingAndGlyphs" >KERATINIZATION</text>
<text x="143.70" y="37.40" font-size="3.4" text-anchor="middle" fill="#404040" textLength="44" lengthAdjust="spacingAndGlyphs" >REACTOME_FORMATION_OF_</text>
<text x="145.50" y="41.00" font-size="3.4" text-anchor="middle" fill="#404040" textLength="45.5" lengthAdjust="spacingAndGlyphs" >THE_CORNIFIED_ENVELOPE</text>
<text x="80.50" y="92.30" font-size="3.4" fill="#404040" textLength="61.5" lengthAdjust="spacingAndGlyphs" >REACTOME_ANTIMICROBIAL_PEPTIDES</text>
<text x="85.40" y="109.20" font-size="3.4" fill="#404040" textLength="43.8" lengthAdjust="spacingAndGlyphs" >REACTOME_BETA_DEFENSINS</text>
<text x="83.00" y="121.10" font-size="3.4" fill="#404040" textLength="37.8" lengthAdjust="spacingAndGlyphs" >REACTOME_DEFENSINS</text>
<text x="217.30" y="7.60" font-size="3.4" fill="#404040" >REACTOME_ASSEMBLY_OF_COLLAGEN_</text>
<text x="217.30" y="11.50" font-size="3.4" fill="#404040" textLength="78" lengthAdjust="spacingAndGlyphs" >FIBRILS_AND_OTHER_MULTIMERIC_STRUCTURES</text>
<text x="194.60" y="26.90" font-size="3.4" fill="#404040" >REACTOME_ECM_PROTEOGLYCANS</text>
<text x="187.70" y="34.60" font-size="3.4" fill="#404040" >NABA_ECM_AFFILIATED</text>
<text x="274.00" y="16.50" font-size="3.4" fill="#404040" >NABA_ECM_</text>
<text x="274.00" y="21.10" font-size="3.4" fill="#404040" >GLYCOPROTEINS</text>
<text x="257.00" y="28.80" font-size="3.4" fill="#404040" textLength="61.5" lengthAdjust="spacingAndGlyphs" >REACTOME_COLLAGEN_DEGRADATION</text>
<text x="324.20" y="19.10" font-size="3.4" fill="#404040" >REACTOME_NEGATIVE_</text>
<text x="324.20" y="23.10" font-size="3.4" fill="#404040" >REGULATION_OF_TGF_BETA_RECEPTOR_</text>
<text x="324.20" y="27.00" font-size="3.4" fill="#404040" >SIGNALING_BY_WNT_LIGAND_</text>
<text x="324.20" y="30.90" font-size="3.4" fill="#404040" >ANTAGONISTS</text>
<text x="293.00" y="44.40" font-size="3.4" fill="#404040" textLength="82" lengthAdjust="spacingAndGlyphs" >REACTOME_SCAVENGING_BY_CLASS_A_RECEPTORS</text>
<text x="190.00" y="64.50" font-size="3.4" fill="#404040" >HALLMARK_APICAL_</text>
<text x="190.00" y="69.00" font-size="3.4" fill="#404040" >JUNCTION</text>
<text x="283.00" y="64.60" font-size="3.4" fill="#404040" >HALLMARK_MYOGENESIS</text>
<text x="283.00" y="70.30" font-size="3.4" fill="#404040" >HALLMARK_MYOGENESIS</text>
<text x="250.00" y="82.90" font-size="3.4" fill="#404040" textLength="41.5" lengthAdjust="spacingAndGlyphs" >HALLMARK_COAGULATION</text>
<text x="262.00" y="93.10" font-size="3.4" fill="#404040" textLength="88" lengthAdjust="spacingAndGlyphs" >REACTOME_COMPLEMENT_AND_COAGULATION_CASCADES</text>
<text x="270.00" y="103.40" font-size="3.4" fill="#404040" textLength="60" lengthAdjust="spacingAndGlyphs" >REACTOME_COMPLEMENT_CASCADE</text>
<text x="248.00" y="127.30" font-size="3.4" fill="#404040" textLength="57" lengthAdjust="spacingAndGlyphs" >HALLMARK_KRAS_SIGNALING_UP</text>
<text x="327.50" y="129.90" font-size="3.4" fill="#404040" textLength="52" lengthAdjust="spacingAndGlyphs" >REACTOME_SAE_SIGNALOSOME</text>
<text x="250.00" y="156.90" font-size="3.4" fill="#404040" textLength="85" lengthAdjust="spacingAndGlyphs" >REACTOME_PEPTIDE_LIGAND_BINDING_RECEPTORS</text>
<text x="272.00" y="168.40" font-size="3.4" fill="#404040" textLength="70.3" lengthAdjust="spacingAndGlyphs" >REACTOME_CLASS_A_1_RHODOPSIN_LIKE_RECEPTORS</text>
<text x="272.00" y="175.80" font-size="3.4" fill="#404040" textLength="68" lengthAdjust="spacingAndGlyphs" >REACTOME_G_ALPHA_I_SIGNALLING_EVENTS</text>
<text x="236.00" y="190.00" font-size="3.4" fill="#404040" textLength="39" lengthAdjust="spacingAndGlyphs" >HALLMARK_TNFA_SIGNALING_VIA_NFKB</text>
<text x="172.70" y="182.40" font-size="3.4" fill="#404040" >HALLMARK_INTERFERON_</text>
<text x="172.70" y="186.90" font-size="3.4" fill="#404040" >ALPHA_RESPONSE</text>
<text x="316.00" y="199.60" font-size="3.4" fill="#404040" >KEGG_PRIMARY_BILE_ACID_METABOLISM</text>
<text x="333.50" y="205.60" font-size="3.4" fill="#404040" textLength="43.5" lengthAdjust="spacingAndGlyphs" >REACTOME_BILE_ACID_AND_</text>
<text x="334.00" y="209.60" font-size="3.4" fill="#404040" textLength="36" lengthAdjust="spacingAndGlyphs" >BILE_SALT_METABOLISM</text>
<text x="254.50" y="209.30" font-size="3.4" fill="#404040" textLength="48" lengthAdjust="spacingAndGlyphs" >BIOCARTA_EICOSANOID_PATHWAY</text>
<text x="269.00" y="215.20" font-size="3.4" fill="#404040" textLength="104" lengthAdjust="spacingAndGlyphs" >REACTOME_SYNTHESIS_OF_LEUKOTRIENES_LT_AND_EOXINS_EX</text>
<circle cx="92.60" cy="194.00" r="0.80" fill="#111" />
<circle cx="97.80" cy="194.00" r="1.80" fill="#111" />
<circle cx="106.80" cy="194.00" r="3.00" fill="#111" />
<circle cx="120.10" cy="194.00" r="7.50" fill="#111" />
<circle cx="140.60" cy="194.00" r="10.50" fill="#111" />
<text x="93.00" y="211.40" font-size="5.2" text-anchor="middle" stroke="#231f20" stroke-width="0.14" >1</text>
<text x="99.50" y="211.40" font-size="5.2" text-anchor="middle" stroke="#231f20" stroke-width="0.14" >5</text>
<text x="108.00" y="211.40" font-size="5.2" text-anchor="middle" stroke="#231f20" stroke-width="0.14" >10</text>
<text x="120.60" y="211.40" font-size="5.2" text-anchor="middle" stroke="#231f20" stroke-width="0.14" >50</text>
<text x="143.50" y="211.40" font-size="5.2" text-anchor="middle" stroke="#231f20" stroke-width="0.14" >100+</text>
<text x="122.40" y="218.40" font-size="5.3" text-anchor="middle" textLength="52" lengthAdjust="spacingAndGlyphs" stroke="#231f20" stroke-width="0.14" >Degree of connectivity</text>
<text x="101.50" y="228.40" font-size="4.6" text-anchor="middle" stroke="#231f20" stroke-width="0.14" >NES</text>
<rect x="113.80" y="224.50" width="4.40" height="4.40" fill="#8e171b" />
<text x="117.20" y="231.80" font-size="5.1" text-anchor="end" stroke="#231f20" stroke-width="0.14" transform="rotate(-47 117.20 231.80)" >1.25–1.5</text>
<rect x="122.40" y="224.50" width="4.40" height="4.40" fill="#b81e23" />
<text x="125.80" y="231.80" font-size="5.1" text-anchor="end" stroke="#231f20" stroke-width="0.14" transform="rotate(-47 125.80 231.80)" >1.5–1.75</text>
<rect x="131.40" y="224.50" width="4.40" height="4.40" fill="#d42a2e" />
<text x="134.80" y="231.80" font-size="5.1" text-anchor="end" stroke="#231f20" stroke-width="0.14" transform="rotate(-47 134.80 231.80)" >1.75–2</text>
<rect x="140.10" y="224.50" width="4.40" height="4.40" fill="#e0484a" />
<text x="143.50" y="231.80" font-size="5.1" text-anchor="end" stroke="#231f20" stroke-width="0.14" transform="rotate(-47 143.50 231.80)" >&gt;2</text>
</svg></body></html>
